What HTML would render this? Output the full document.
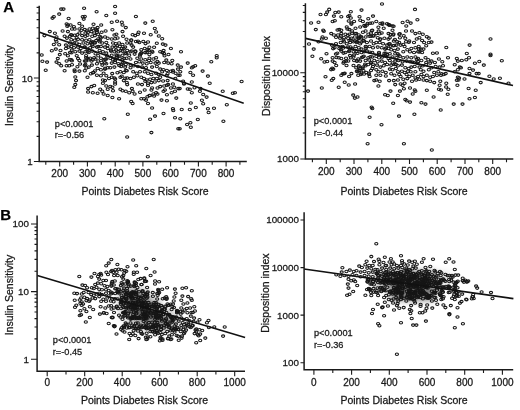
<!DOCTYPE html>
<html><head><meta charset="utf-8"><title>Figure</title><style>
html,body{margin:0;padding:0;background:#fff;width:520px;height:410px;overflow:hidden}
svg{display:block}
text{font-family:'Liberation Sans', Arial, Helvetica, sans-serif;fill:#1a1a1a;stroke:#1a1a1a;stroke-width:0.28px}
.t{font-size:10px}
.ty{font-size:9.8px}
.ti{font-size:10.5px}
.pr{font-size:9.7px}
.L{font-size:15px;font-weight:bold;fill:#000;stroke:#000;stroke-width:0.25px}
</style></head><body>
<svg width="520" height="410" viewBox="0 0 520 410">
<rect width="520" height="410" fill="#fff"/>
<defs><filter id="bl" x="-20%" y="-20%" width="140%" height="140%"><feGaussianBlur stdDeviation="3.5"/></filter></defs>
<g filter="url(#bl)" fill="#000"><rect x="120.0" y="280.0" width="10.0" height="10.0" fill-opacity="0.13"/><rect x="110.0" y="290.0" width="10.0" height="10.0" fill-opacity="0.00"/><rect x="120.0" y="290.0" width="10.0" height="10.0" fill-opacity="0.44"/><rect x="130.0" y="290.0" width="10.0" height="10.0" fill-opacity="0.60"/><rect x="140.0" y="290.0" width="10.0" height="10.0" fill-opacity="0.26"/><rect x="120.0" y="300.0" width="10.0" height="10.0" fill-opacity="0.39"/><rect x="130.0" y="300.0" width="10.0" height="10.0" fill-opacity="0.65"/><rect x="140.0" y="300.0" width="10.0" height="10.0" fill-opacity="0.65"/><rect x="150.0" y="300.0" width="10.0" height="10.0" fill-opacity="0.39"/><rect x="120.0" y="310.0" width="10.0" height="10.0" fill-opacity="0.13"/><rect x="130.0" y="310.0" width="10.0" height="10.0" fill-opacity="0.52"/><rect x="140.0" y="310.0" width="10.0" height="10.0" fill-opacity="0.65"/><rect x="150.0" y="310.0" width="10.0" height="10.0" fill-opacity="0.60"/><rect x="160.0" y="310.0" width="10.0" height="10.0" fill-opacity="0.39"/><rect x="170.0" y="310.0" width="10.0" height="10.0" fill-opacity="0.13"/><rect x="130.0" y="320.0" width="10.0" height="10.0" fill-opacity="0.13"/><rect x="140.0" y="320.0" width="10.0" height="10.0" fill-opacity="0.26"/><rect x="150.0" y="320.0" width="10.0" height="10.0" fill-opacity="0.39"/><rect x="160.0" y="320.0" width="10.0" height="10.0" fill-opacity="0.39"/><rect x="170.0" y="320.0" width="10.0" height="10.0" fill-opacity="0.18"/><rect x="180.0" y="320.0" width="10.0" height="10.0" fill-opacity="0.00"/><rect x="375.0" y="272.0" width="15.0" height="14.0" fill-opacity="0.39"/><rect x="390.0" y="272.0" width="15.0" height="14.0" fill-opacity="0.70"/><rect x="405.0" y="272.0" width="15.0" height="14.0" fill-opacity="0.70"/><rect x="420.0" y="272.0" width="15.0" height="14.0" fill-opacity="0.60"/><rect x="435.0" y="272.0" width="15.0" height="14.0" fill-opacity="0.13"/><rect x="390.0" y="286.0" width="15.0" height="14.0" fill-opacity="0.52"/><rect x="405.0" y="286.0" width="15.0" height="14.0" fill-opacity="0.60"/><rect x="420.0" y="286.0" width="15.0" height="14.0" fill-opacity="0.52"/><rect x="435.0" y="286.0" width="15.0" height="14.0" fill-opacity="0.00"/></g>
<g fill="none" stroke="#161616" stroke-width="1.05"><ellipse cx="61.2" cy="9.1" rx="1.6" ry="1.25"/><ellipse cx="63.5" cy="9.1" rx="1.6" ry="1.25"/><ellipse cx="84.1" cy="8.3" rx="1.6" ry="1.25"/><ellipse cx="96.6" cy="11.8" rx="1.6" ry="1.25"/><ellipse cx="106.3" cy="15.4" rx="1.6" ry="1.25"/><ellipse cx="59.2" cy="14.1" rx="1.6" ry="1.25"/><ellipse cx="52.5" cy="18.1" rx="1.6" ry="1.25"/><ellipse cx="53.8" cy="16.8" rx="1.6" ry="1.25"/><ellipse cx="68.6" cy="18.5" rx="1.6" ry="1.25"/><ellipse cx="82.7" cy="16.8" rx="1.6" ry="1.25"/><ellipse cx="84.8" cy="16.4" rx="1.6" ry="1.25"/><ellipse cx="83.7" cy="19.1" rx="1.6" ry="1.25"/><ellipse cx="66.6" cy="23.9" rx="1.6" ry="1.25"/><ellipse cx="67.9" cy="24.9" rx="1.6" ry="1.25"/><ellipse cx="70.6" cy="24.9" rx="1.6" ry="1.25"/><ellipse cx="67.3" cy="26.2" rx="1.6" ry="1.25"/><ellipse cx="79.4" cy="23.5" rx="1.6" ry="1.25"/><ellipse cx="82.1" cy="26.2" rx="1.6" ry="1.25"/><ellipse cx="93.5" cy="24.2" rx="1.6" ry="1.25"/><ellipse cx="101.2" cy="24.9" rx="1.6" ry="1.25"/><ellipse cx="72.0" cy="28.9" rx="1.6" ry="1.25"/><ellipse cx="74.7" cy="28.9" rx="1.6" ry="1.25"/><ellipse cx="62.6" cy="30.9" rx="1.6" ry="1.25"/><ellipse cx="67.9" cy="31.6" rx="1.6" ry="1.25"/><ellipse cx="49.8" cy="31.6" rx="1.6" ry="1.25"/><ellipse cx="54.9" cy="33.3" rx="1.6" ry="1.25"/><ellipse cx="44.4" cy="35.6" rx="1.6" ry="1.25"/><ellipse cx="79.4" cy="28.9" rx="1.6" ry="1.25"/><ellipse cx="81.4" cy="30.2" rx="1.6" ry="1.25"/><ellipse cx="84.8" cy="29.6" rx="1.6" ry="1.25"/><ellipse cx="86.8" cy="30.9" rx="1.6" ry="1.25"/><ellipse cx="89.5" cy="28.9" rx="1.6" ry="1.25"/><ellipse cx="92.8" cy="28.2" rx="1.6" ry="1.25"/><ellipse cx="95.5" cy="28.9" rx="1.6" ry="1.25"/><ellipse cx="97.6" cy="27.6" rx="1.6" ry="1.25"/><ellipse cx="85.4" cy="32.9" rx="1.6" ry="1.25"/><ellipse cx="88.1" cy="32.3" rx="1.6" ry="1.25"/><ellipse cx="91.5" cy="31.6" rx="1.6" ry="1.25"/><ellipse cx="94.2" cy="32.9" rx="1.6" ry="1.25"/><ellipse cx="96.9" cy="32.3" rx="1.6" ry="1.25"/><ellipse cx="101.6" cy="32.3" rx="1.6" ry="1.25"/><ellipse cx="105.6" cy="30.9" rx="1.6" ry="1.25"/><ellipse cx="79.4" cy="32.9" rx="1.6" ry="1.25"/><ellipse cx="77.4" cy="34.7" rx="1.6" ry="1.25"/><ellipse cx="82.1" cy="35.6" rx="1.6" ry="1.25"/><ellipse cx="85.4" cy="36.3" rx="1.6" ry="1.25"/><ellipse cx="87.5" cy="35.2" rx="1.6" ry="1.25"/><ellipse cx="92.2" cy="36.3" rx="1.6" ry="1.25"/><ellipse cx="94.9" cy="35.6" rx="1.6" ry="1.25"/><ellipse cx="98.2" cy="34.3" rx="1.6" ry="1.25"/><ellipse cx="64.6" cy="36.3" rx="1.6" ry="1.25"/><ellipse cx="70.0" cy="36.3" rx="1.6" ry="1.25"/><ellipse cx="72.0" cy="35.2" rx="1.6" ry="1.25"/><ellipse cx="74.7" cy="35.2" rx="1.6" ry="1.25"/><ellipse cx="76.7" cy="37.7" rx="1.6" ry="1.25"/><ellipse cx="56.5" cy="37.0" rx="1.6" ry="1.25"/><ellipse cx="55.8" cy="39.7" rx="1.6" ry="1.25"/><ellipse cx="56.5" cy="41.7" rx="1.6" ry="1.25"/><ellipse cx="71.3" cy="39.7" rx="1.6" ry="1.25"/><ellipse cx="74.7" cy="40.3" rx="1.6" ry="1.25"/><ellipse cx="78.0" cy="39.3" rx="1.6" ry="1.25"/><ellipse cx="82.1" cy="39.7" rx="1.6" ry="1.25"/><ellipse cx="86.1" cy="40.3" rx="1.6" ry="1.25"/><ellipse cx="89.5" cy="39.7" rx="1.6" ry="1.25"/><ellipse cx="92.8" cy="41.7" rx="1.6" ry="1.25"/><ellipse cx="98.2" cy="39.0" rx="1.6" ry="1.25"/><ellipse cx="100.9" cy="37.7" rx="1.6" ry="1.25"/><ellipse cx="105.0" cy="37.0" rx="1.6" ry="1.25"/><ellipse cx="107.7" cy="38.3" rx="1.6" ry="1.25"/><ellipse cx="53.8" cy="44.4" rx="1.6" ry="1.25"/><ellipse cx="59.2" cy="44.7" rx="1.6" ry="1.25"/><ellipse cx="65.9" cy="45.1" rx="1.6" ry="1.25"/><ellipse cx="70.0" cy="43.0" rx="1.6" ry="1.25"/><ellipse cx="73.3" cy="43.7" rx="1.6" ry="1.25"/><ellipse cx="76.7" cy="43.0" rx="1.6" ry="1.25"/><ellipse cx="79.4" cy="44.4" rx="1.6" ry="1.25"/><ellipse cx="83.4" cy="43.0" rx="1.6" ry="1.25"/><ellipse cx="87.5" cy="43.7" rx="1.6" ry="1.25"/><ellipse cx="90.8" cy="43.0" rx="1.6" ry="1.25"/><ellipse cx="94.9" cy="43.0" rx="1.6" ry="1.25"/><ellipse cx="99.6" cy="41.7" rx="1.6" ry="1.25"/><ellipse cx="102.3" cy="43.0" rx="1.6" ry="1.25"/><ellipse cx="106.3" cy="42.4" rx="1.6" ry="1.25"/><ellipse cx="51.8" cy="50.8" rx="1.6" ry="1.25"/><ellipse cx="55.8" cy="49.1" rx="1.6" ry="1.25"/><ellipse cx="60.5" cy="50.4" rx="1.6" ry="1.25"/><ellipse cx="65.9" cy="48.4" rx="1.6" ry="1.25"/><ellipse cx="68.6" cy="47.1" rx="1.6" ry="1.25"/><ellipse cx="71.3" cy="46.4" rx="1.6" ry="1.25"/><ellipse cx="74.0" cy="47.7" rx="1.6" ry="1.25"/><ellipse cx="78.0" cy="47.1" rx="1.6" ry="1.25"/><ellipse cx="80.7" cy="48.4" rx="1.6" ry="1.25"/><ellipse cx="84.8" cy="47.1" rx="1.6" ry="1.25"/><ellipse cx="87.5" cy="49.1" rx="1.6" ry="1.25"/><ellipse cx="90.2" cy="47.7" rx="1.6" ry="1.25"/><ellipse cx="92.8" cy="46.4" rx="1.6" ry="1.25"/><ellipse cx="96.9" cy="47.1" rx="1.6" ry="1.25"/><ellipse cx="100.9" cy="46.4" rx="1.6" ry="1.25"/><ellipse cx="105.0" cy="47.1" rx="1.6" ry="1.25"/><ellipse cx="107.7" cy="48.4" rx="1.6" ry="1.25"/><ellipse cx="41.7" cy="54.9" rx="1.6" ry="1.25"/><ellipse cx="65.2" cy="53.8" rx="1.6" ry="1.25"/><ellipse cx="70.0" cy="52.5" rx="1.6" ry="1.25"/><ellipse cx="75.3" cy="51.8" rx="1.6" ry="1.25"/><ellipse cx="79.4" cy="51.1" rx="1.6" ry="1.25"/><ellipse cx="82.1" cy="53.1" rx="1.6" ry="1.25"/><ellipse cx="85.4" cy="51.8" rx="1.6" ry="1.25"/><ellipse cx="88.8" cy="52.5" rx="1.6" ry="1.25"/><ellipse cx="92.2" cy="51.1" rx="1.6" ry="1.25"/><ellipse cx="95.5" cy="53.8" rx="1.6" ry="1.25"/><ellipse cx="99.6" cy="50.4" rx="1.6" ry="1.25"/><ellipse cx="102.9" cy="51.8" rx="1.6" ry="1.25"/><ellipse cx="106.3" cy="53.1" rx="1.6" ry="1.25"/><ellipse cx="67.9" cy="55.8" rx="1.6" ry="1.25"/><ellipse cx="76.7" cy="55.8" rx="1.6" ry="1.25"/><ellipse cx="86.1" cy="55.8" rx="1.6" ry="1.25"/><ellipse cx="98.2" cy="55.8" rx="1.6" ry="1.25"/><ellipse cx="107.0" cy="55.8" rx="1.6" ry="1.25"/><ellipse cx="115.1" cy="6.4" rx="1.6" ry="1.25"/><ellipse cx="115.1" cy="13.2" rx="1.6" ry="1.25"/><ellipse cx="135.9" cy="16.4" rx="1.6" ry="1.25"/><ellipse cx="111.7" cy="22.2" rx="1.6" ry="1.25"/><ellipse cx="117.1" cy="21.2" rx="1.6" ry="1.25"/><ellipse cx="121.8" cy="22.2" rx="1.6" ry="1.25"/><ellipse cx="122.5" cy="24.9" rx="1.6" ry="1.25"/><ellipse cx="125.8" cy="27.6" rx="1.6" ry="1.25"/><ellipse cx="145.3" cy="23.1" rx="1.6" ry="1.25"/><ellipse cx="152.7" cy="21.2" rx="1.6" ry="1.25"/><ellipse cx="112.4" cy="29.8" rx="1.6" ry="1.25"/><ellipse cx="154.8" cy="28.5" rx="1.6" ry="1.25"/><ellipse cx="156.1" cy="32.0" rx="1.6" ry="1.25"/><ellipse cx="122.5" cy="31.6" rx="1.6" ry="1.25"/><ellipse cx="114.4" cy="35.0" rx="1.6" ry="1.25"/><ellipse cx="116.4" cy="34.3" rx="1.6" ry="1.25"/><ellipse cx="123.1" cy="36.3" rx="1.6" ry="1.25"/><ellipse cx="132.6" cy="34.7" rx="1.6" ry="1.25"/><ellipse cx="135.2" cy="35.6" rx="1.6" ry="1.25"/><ellipse cx="137.9" cy="34.3" rx="1.6" ry="1.25"/><ellipse cx="138.6" cy="32.3" rx="1.6" ry="1.25"/><ellipse cx="144.0" cy="33.3" rx="1.6" ry="1.25"/><ellipse cx="150.7" cy="34.7" rx="1.6" ry="1.25"/><ellipse cx="158.8" cy="36.0" rx="1.6" ry="1.25"/><ellipse cx="162.2" cy="38.7" rx="1.6" ry="1.25"/><ellipse cx="111.7" cy="39.0" rx="1.6" ry="1.25"/><ellipse cx="115.1" cy="38.7" rx="1.6" ry="1.25"/><ellipse cx="126.5" cy="39.3" rx="1.6" ry="1.25"/><ellipse cx="131.2" cy="40.3" rx="1.6" ry="1.25"/><ellipse cx="135.9" cy="41.4" rx="1.6" ry="1.25"/><ellipse cx="139.3" cy="42.4" rx="1.6" ry="1.25"/><ellipse cx="143.3" cy="41.4" rx="1.6" ry="1.25"/><ellipse cx="148.0" cy="42.0" rx="1.6" ry="1.25"/><ellipse cx="156.8" cy="43.3" rx="1.6" ry="1.25"/><ellipse cx="162.8" cy="44.1" rx="1.6" ry="1.25"/><ellipse cx="165.5" cy="45.1" rx="1.6" ry="1.25"/><ellipse cx="170.9" cy="48.4" rx="1.6" ry="1.25"/><ellipse cx="113.0" cy="43.0" rx="1.6" ry="1.25"/><ellipse cx="115.7" cy="43.7" rx="1.6" ry="1.25"/><ellipse cx="119.1" cy="43.0" rx="1.6" ry="1.25"/><ellipse cx="122.5" cy="44.4" rx="1.6" ry="1.25"/><ellipse cx="127.2" cy="43.0" rx="1.6" ry="1.25"/><ellipse cx="130.5" cy="43.0" rx="1.6" ry="1.25"/><ellipse cx="133.2" cy="47.1" rx="1.6" ry="1.25"/><ellipse cx="112.4" cy="47.1" rx="1.6" ry="1.25"/><ellipse cx="115.7" cy="47.1" rx="1.6" ry="1.25"/><ellipse cx="119.8" cy="46.4" rx="1.6" ry="1.25"/><ellipse cx="121.8" cy="48.4" rx="1.6" ry="1.25"/><ellipse cx="125.2" cy="47.1" rx="1.6" ry="1.25"/><ellipse cx="127.2" cy="50.4" rx="1.6" ry="1.25"/><ellipse cx="141.3" cy="49.8" rx="1.6" ry="1.25"/><ellipse cx="144.7" cy="48.4" rx="1.6" ry="1.25"/><ellipse cx="147.4" cy="49.8" rx="1.6" ry="1.25"/><ellipse cx="149.4" cy="47.3" rx="1.6" ry="1.25"/><ellipse cx="154.1" cy="47.3" rx="1.6" ry="1.25"/><ellipse cx="160.2" cy="51.8" rx="1.6" ry="1.25"/><ellipse cx="111.0" cy="51.1" rx="1.6" ry="1.25"/><ellipse cx="114.4" cy="51.8" rx="1.6" ry="1.25"/><ellipse cx="118.4" cy="51.8" rx="1.6" ry="1.25"/><ellipse cx="122.5" cy="51.1" rx="1.6" ry="1.25"/><ellipse cx="130.5" cy="51.8" rx="1.6" ry="1.25"/><ellipse cx="135.2" cy="51.1" rx="1.6" ry="1.25"/><ellipse cx="141.3" cy="53.1" rx="1.6" ry="1.25"/><ellipse cx="146.7" cy="52.5" rx="1.6" ry="1.25"/><ellipse cx="149.4" cy="54.5" rx="1.6" ry="1.25"/><ellipse cx="111.7" cy="55.2" rx="1.6" ry="1.25"/><ellipse cx="117.1" cy="55.8" rx="1.6" ry="1.25"/><ellipse cx="122.5" cy="55.2" rx="1.6" ry="1.25"/><ellipse cx="129.2" cy="55.2" rx="1.6" ry="1.25"/><ellipse cx="134.6" cy="54.1" rx="1.6" ry="1.25"/><ellipse cx="140.0" cy="55.8" rx="1.6" ry="1.25"/><ellipse cx="117.1" cy="45.7" rx="1.6" ry="1.25"/><ellipse cx="123.8" cy="48.4" rx="1.6" ry="1.25"/><ellipse cx="120.4" cy="50.4" rx="1.6" ry="1.25"/><ellipse cx="125.2" cy="53.1" rx="1.6" ry="1.25"/><ellipse cx="181.0" cy="51.8" rx="1.6" ry="1.25"/><ellipse cx="216.7" cy="55.8" rx="1.6" ry="1.25"/><ellipse cx="42.4" cy="61.3" rx="1.6" ry="1.25"/><ellipse cx="47.1" cy="62.1" rx="1.6" ry="1.25"/><ellipse cx="45.7" cy="70.2" rx="1.6" ry="1.25"/><ellipse cx="57.8" cy="58.6" rx="1.6" ry="1.25"/><ellipse cx="56.5" cy="62.1" rx="1.6" ry="1.25"/><ellipse cx="59.2" cy="63.7" rx="1.6" ry="1.25"/><ellipse cx="61.2" cy="65.7" rx="1.6" ry="1.25"/><ellipse cx="66.6" cy="61.0" rx="1.6" ry="1.25"/><ellipse cx="66.6" cy="65.7" rx="1.6" ry="1.25"/><ellipse cx="71.3" cy="59.7" rx="1.6" ry="1.25"/><ellipse cx="72.0" cy="64.8" rx="1.6" ry="1.25"/><ellipse cx="64.6" cy="70.7" rx="1.6" ry="1.25"/><ellipse cx="77.4" cy="66.7" rx="1.6" ry="1.25"/><ellipse cx="74.7" cy="71.5" rx="1.6" ry="1.25"/><ellipse cx="79.4" cy="71.1" rx="1.6" ry="1.25"/><ellipse cx="84.8" cy="70.7" rx="1.6" ry="1.25"/><ellipse cx="78.0" cy="58.6" rx="1.6" ry="1.25"/><ellipse cx="79.4" cy="60.4" rx="1.6" ry="1.25"/><ellipse cx="84.8" cy="61.0" rx="1.6" ry="1.25"/><ellipse cx="85.4" cy="64.4" rx="1.6" ry="1.25"/><ellipse cx="88.8" cy="67.1" rx="1.6" ry="1.25"/><ellipse cx="87.5" cy="58.3" rx="1.6" ry="1.25"/><ellipse cx="90.2" cy="58.3" rx="1.6" ry="1.25"/><ellipse cx="92.8" cy="59.7" rx="1.6" ry="1.25"/><ellipse cx="95.5" cy="59.0" rx="1.6" ry="1.25"/><ellipse cx="98.2" cy="61.0" rx="1.6" ry="1.25"/><ellipse cx="100.9" cy="58.3" rx="1.6" ry="1.25"/><ellipse cx="103.6" cy="59.7" rx="1.6" ry="1.25"/><ellipse cx="106.3" cy="59.0" rx="1.6" ry="1.25"/><ellipse cx="96.9" cy="63.7" rx="1.6" ry="1.25"/><ellipse cx="102.3" cy="65.1" rx="1.6" ry="1.25"/><ellipse cx="106.3" cy="63.7" rx="1.6" ry="1.25"/><ellipse cx="97.6" cy="68.4" rx="1.6" ry="1.25"/><ellipse cx="100.9" cy="69.8" rx="1.6" ry="1.25"/><ellipse cx="105.0" cy="69.1" rx="1.6" ry="1.25"/><ellipse cx="107.7" cy="67.8" rx="1.6" ry="1.25"/><ellipse cx="90.8" cy="73.8" rx="1.6" ry="1.25"/><ellipse cx="93.5" cy="72.5" rx="1.6" ry="1.25"/><ellipse cx="96.9" cy="75.2" rx="1.6" ry="1.25"/><ellipse cx="100.9" cy="75.8" rx="1.6" ry="1.25"/><ellipse cx="103.6" cy="73.2" rx="1.6" ry="1.25"/><ellipse cx="106.3" cy="75.8" rx="1.6" ry="1.25"/><ellipse cx="75.3" cy="76.9" rx="1.6" ry="1.25"/><ellipse cx="76.0" cy="80.6" rx="1.6" ry="1.25"/><ellipse cx="75.3" cy="84.6" rx="1.6" ry="1.25"/><ellipse cx="74.3" cy="87.3" rx="1.6" ry="1.25"/><ellipse cx="87.5" cy="77.2" rx="1.6" ry="1.25"/><ellipse cx="102.9" cy="79.9" rx="1.6" ry="1.25"/><ellipse cx="105.0" cy="80.6" rx="1.6" ry="1.25"/><ellipse cx="102.9" cy="83.2" rx="1.6" ry="1.25"/><ellipse cx="106.3" cy="85.9" rx="1.6" ry="1.25"/><ellipse cx="91.5" cy="86.6" rx="1.6" ry="1.25"/><ellipse cx="94.2" cy="85.5" rx="1.6" ry="1.25"/><ellipse cx="88.1" cy="88.6" rx="1.6" ry="1.25"/><ellipse cx="88.1" cy="92.0" rx="1.6" ry="1.25"/><ellipse cx="92.8" cy="92.7" rx="1.6" ry="1.25"/><ellipse cx="97.6" cy="93.3" rx="1.6" ry="1.25"/><ellipse cx="100.2" cy="89.3" rx="1.6" ry="1.25"/><ellipse cx="102.3" cy="91.3" rx="1.6" ry="1.25"/><ellipse cx="103.6" cy="94.0" rx="1.6" ry="1.25"/><ellipse cx="107.7" cy="95.4" rx="1.6" ry="1.25"/><ellipse cx="107.7" cy="89.3" rx="1.6" ry="1.25"/><ellipse cx="86.1" cy="57.7" rx="1.6" ry="1.25"/><ellipse cx="88.8" cy="59.7" rx="1.6" ry="1.25"/><ellipse cx="91.5" cy="61.0" rx="1.6" ry="1.25"/><ellipse cx="94.2" cy="57.7" rx="1.6" ry="1.25"/><ellipse cx="110.3" cy="58.3" rx="1.6" ry="1.25"/><ellipse cx="113.0" cy="59.7" rx="1.6" ry="1.25"/><ellipse cx="115.7" cy="59.0" rx="1.6" ry="1.25"/><ellipse cx="119.8" cy="58.3" rx="1.6" ry="1.25"/><ellipse cx="122.5" cy="59.7" rx="1.6" ry="1.25"/><ellipse cx="126.5" cy="58.3" rx="1.6" ry="1.25"/><ellipse cx="130.5" cy="59.0" rx="1.6" ry="1.25"/><ellipse cx="137.3" cy="58.3" rx="1.6" ry="1.25"/><ellipse cx="141.3" cy="59.0" rx="1.6" ry="1.25"/><ellipse cx="145.3" cy="59.7" rx="1.6" ry="1.25"/><ellipse cx="149.4" cy="58.3" rx="1.6" ry="1.25"/><ellipse cx="153.4" cy="59.0" rx="1.6" ry="1.25"/><ellipse cx="156.1" cy="57.7" rx="1.6" ry="1.25"/><ellipse cx="111.7" cy="63.1" rx="1.6" ry="1.25"/><ellipse cx="115.1" cy="62.4" rx="1.6" ry="1.25"/><ellipse cx="118.4" cy="63.7" rx="1.6" ry="1.25"/><ellipse cx="122.5" cy="63.1" rx="1.6" ry="1.25"/><ellipse cx="125.8" cy="64.4" rx="1.6" ry="1.25"/><ellipse cx="130.5" cy="65.1" rx="1.6" ry="1.25"/><ellipse cx="135.9" cy="62.4" rx="1.6" ry="1.25"/><ellipse cx="139.3" cy="61.7" rx="1.6" ry="1.25"/><ellipse cx="142.7" cy="63.1" rx="1.6" ry="1.25"/><ellipse cx="146.7" cy="63.7" rx="1.6" ry="1.25"/><ellipse cx="150.7" cy="62.4" rx="1.6" ry="1.25"/><ellipse cx="155.4" cy="63.1" rx="1.6" ry="1.25"/><ellipse cx="158.8" cy="63.1" rx="1.6" ry="1.25"/><ellipse cx="164.2" cy="62.4" rx="1.6" ry="1.25"/><ellipse cx="168.2" cy="63.1" rx="1.6" ry="1.25"/><ellipse cx="172.3" cy="60.4" rx="1.6" ry="1.25"/><ellipse cx="171.6" cy="63.7" rx="1.6" ry="1.25"/><ellipse cx="177.7" cy="65.1" rx="1.6" ry="1.25"/><ellipse cx="110.3" cy="67.8" rx="1.6" ry="1.25"/><ellipse cx="114.4" cy="67.1" rx="1.6" ry="1.25"/><ellipse cx="121.1" cy="66.4" rx="1.6" ry="1.25"/><ellipse cx="125.2" cy="67.1" rx="1.6" ry="1.25"/><ellipse cx="130.5" cy="67.8" rx="1.6" ry="1.25"/><ellipse cx="133.9" cy="65.7" rx="1.6" ry="1.25"/><ellipse cx="137.9" cy="66.4" rx="1.6" ry="1.25"/><ellipse cx="142.0" cy="67.1" rx="1.6" ry="1.25"/><ellipse cx="146.0" cy="67.8" rx="1.6" ry="1.25"/><ellipse cx="152.1" cy="67.1" rx="1.6" ry="1.25"/><ellipse cx="156.8" cy="66.4" rx="1.6" ry="1.25"/><ellipse cx="160.2" cy="69.1" rx="1.6" ry="1.25"/><ellipse cx="163.5" cy="69.8" rx="1.6" ry="1.25"/><ellipse cx="166.9" cy="70.5" rx="1.6" ry="1.25"/><ellipse cx="172.9" cy="70.5" rx="1.6" ry="1.25"/><ellipse cx="175.6" cy="73.2" rx="1.6" ry="1.25"/><ellipse cx="178.3" cy="75.2" rx="1.6" ry="1.25"/><ellipse cx="120.4" cy="71.8" rx="1.6" ry="1.25"/><ellipse cx="123.8" cy="72.5" rx="1.6" ry="1.25"/><ellipse cx="125.8" cy="70.5" rx="1.6" ry="1.25"/><ellipse cx="133.2" cy="71.8" rx="1.6" ry="1.25"/><ellipse cx="136.6" cy="73.2" rx="1.6" ry="1.25"/><ellipse cx="140.0" cy="71.8" rx="1.6" ry="1.25"/><ellipse cx="144.7" cy="71.8" rx="1.6" ry="1.25"/><ellipse cx="148.0" cy="73.2" rx="1.6" ry="1.25"/><ellipse cx="151.4" cy="74.5" rx="1.6" ry="1.25"/><ellipse cx="156.1" cy="73.2" rx="1.6" ry="1.25"/><ellipse cx="158.8" cy="74.5" rx="1.6" ry="1.25"/><ellipse cx="162.2" cy="71.8" rx="1.6" ry="1.25"/><ellipse cx="167.6" cy="73.8" rx="1.6" ry="1.25"/><ellipse cx="111.7" cy="77.2" rx="1.6" ry="1.25"/><ellipse cx="114.4" cy="77.9" rx="1.6" ry="1.25"/><ellipse cx="120.4" cy="77.2" rx="1.6" ry="1.25"/><ellipse cx="123.8" cy="80.6" rx="1.6" ry="1.25"/><ellipse cx="127.2" cy="77.9" rx="1.6" ry="1.25"/><ellipse cx="130.5" cy="78.5" rx="1.6" ry="1.25"/><ellipse cx="133.9" cy="77.2" rx="1.6" ry="1.25"/><ellipse cx="137.3" cy="75.8" rx="1.6" ry="1.25"/><ellipse cx="141.3" cy="77.2" rx="1.6" ry="1.25"/><ellipse cx="144.0" cy="78.5" rx="1.6" ry="1.25"/><ellipse cx="146.7" cy="79.9" rx="1.6" ry="1.25"/><ellipse cx="150.1" cy="79.2" rx="1.6" ry="1.25"/><ellipse cx="153.4" cy="78.5" rx="1.6" ry="1.25"/><ellipse cx="156.8" cy="78.5" rx="1.6" ry="1.25"/><ellipse cx="160.2" cy="77.2" rx="1.6" ry="1.25"/><ellipse cx="167.6" cy="80.6" rx="1.6" ry="1.25"/><ellipse cx="115.1" cy="81.9" rx="1.6" ry="1.25"/><ellipse cx="127.2" cy="84.6" rx="1.6" ry="1.25"/><ellipse cx="137.9" cy="83.9" rx="1.6" ry="1.25"/><ellipse cx="142.0" cy="84.6" rx="1.6" ry="1.25"/><ellipse cx="145.3" cy="81.2" rx="1.6" ry="1.25"/><ellipse cx="148.0" cy="83.2" rx="1.6" ry="1.25"/><ellipse cx="151.4" cy="82.6" rx="1.6" ry="1.25"/><ellipse cx="154.8" cy="81.9" rx="1.6" ry="1.25"/><ellipse cx="158.8" cy="80.6" rx="1.6" ry="1.25"/><ellipse cx="112.4" cy="87.3" rx="1.6" ry="1.25"/><ellipse cx="113.0" cy="90.7" rx="1.6" ry="1.25"/><ellipse cx="120.4" cy="89.3" rx="1.6" ry="1.25"/><ellipse cx="122.5" cy="90.7" rx="1.6" ry="1.25"/><ellipse cx="125.8" cy="91.3" rx="1.6" ry="1.25"/><ellipse cx="129.2" cy="92.7" rx="1.6" ry="1.25"/><ellipse cx="131.9" cy="88.6" rx="1.6" ry="1.25"/><ellipse cx="132.6" cy="91.3" rx="1.6" ry="1.25"/><ellipse cx="134.6" cy="94.0" rx="1.6" ry="1.25"/><ellipse cx="140.0" cy="92.3" rx="1.6" ry="1.25"/><ellipse cx="144.7" cy="90.0" rx="1.6" ry="1.25"/><ellipse cx="148.0" cy="85.3" rx="1.6" ry="1.25"/><ellipse cx="152.1" cy="88.0" rx="1.6" ry="1.25"/><ellipse cx="151.4" cy="90.0" rx="1.6" ry="1.25"/><ellipse cx="157.5" cy="88.0" rx="1.6" ry="1.25"/><ellipse cx="160.2" cy="86.6" rx="1.6" ry="1.25"/><ellipse cx="164.2" cy="85.9" rx="1.6" ry="1.25"/><ellipse cx="166.9" cy="85.3" rx="1.6" ry="1.25"/><ellipse cx="168.2" cy="84.6" rx="1.6" ry="1.25"/><ellipse cx="164.9" cy="90.0" rx="1.6" ry="1.25"/><ellipse cx="170.9" cy="88.0" rx="1.6" ry="1.25"/><ellipse cx="172.9" cy="83.9" rx="1.6" ry="1.25"/><ellipse cx="174.3" cy="87.3" rx="1.6" ry="1.25"/><ellipse cx="175.0" cy="91.3" rx="1.6" ry="1.25"/><ellipse cx="178.3" cy="88.6" rx="1.6" ry="1.25"/><ellipse cx="171.6" cy="92.7" rx="1.6" ry="1.25"/><ellipse cx="166.9" cy="94.7" rx="1.6" ry="1.25"/><ellipse cx="163.5" cy="91.3" rx="1.6" ry="1.25"/><ellipse cx="156.1" cy="92.7" rx="1.6" ry="1.25"/><ellipse cx="153.4" cy="94.0" rx="1.6" ry="1.25"/><ellipse cx="150.1" cy="95.4" rx="1.6" ry="1.25"/><ellipse cx="147.4" cy="96.7" rx="1.6" ry="1.25"/><ellipse cx="112.4" cy="97.4" rx="1.6" ry="1.25"/><ellipse cx="119.1" cy="98.7" rx="1.6" ry="1.25"/><ellipse cx="131.2" cy="101.4" rx="1.6" ry="1.25"/><ellipse cx="132.6" cy="103.4" rx="1.6" ry="1.25"/><ellipse cx="141.3" cy="98.7" rx="1.6" ry="1.25"/><ellipse cx="144.0" cy="98.7" rx="1.6" ry="1.25"/><ellipse cx="146.0" cy="100.1" rx="1.6" ry="1.25"/><ellipse cx="148.0" cy="103.4" rx="1.6" ry="1.25"/><ellipse cx="149.4" cy="95.4" rx="1.6" ry="1.25"/><ellipse cx="154.1" cy="96.0" rx="1.6" ry="1.25"/><ellipse cx="157.5" cy="94.0" rx="1.6" ry="1.25"/><ellipse cx="161.5" cy="100.1" rx="1.6" ry="1.25"/><ellipse cx="166.9" cy="100.7" rx="1.6" ry="1.25"/><ellipse cx="176.3" cy="98.1" rx="1.6" ry="1.25"/><ellipse cx="152.1" cy="107.9" rx="1.6" ry="1.25"/><ellipse cx="172.9" cy="108.8" rx="1.6" ry="1.25"/><ellipse cx="216.7" cy="57.7" rx="1.6" ry="1.25"/><ellipse cx="211.3" cy="61.7" rx="1.6" ry="1.25"/><ellipse cx="187.7" cy="63.1" rx="1.6" ry="1.25"/><ellipse cx="181.0" cy="67.1" rx="1.6" ry="1.25"/><ellipse cx="191.8" cy="67.8" rx="1.6" ry="1.25"/><ellipse cx="193.1" cy="66.7" rx="1.6" ry="1.25"/><ellipse cx="195.2" cy="65.7" rx="1.6" ry="1.25"/><ellipse cx="202.6" cy="71.1" rx="1.6" ry="1.25"/><ellipse cx="190.4" cy="72.5" rx="1.6" ry="1.25"/><ellipse cx="193.1" cy="75.2" rx="1.6" ry="1.25"/><ellipse cx="179.7" cy="75.2" rx="1.6" ry="1.25"/><ellipse cx="207.9" cy="76.1" rx="1.6" ry="1.25"/><ellipse cx="191.8" cy="81.9" rx="1.6" ry="1.25"/><ellipse cx="209.7" cy="83.2" rx="1.6" ry="1.25"/><ellipse cx="241.6" cy="81.5" rx="1.6" ry="1.25"/><ellipse cx="179.7" cy="88.6" rx="1.6" ry="1.25"/><ellipse cx="187.7" cy="89.0" rx="1.6" ry="1.25"/><ellipse cx="189.8" cy="89.3" rx="1.6" ry="1.25"/><ellipse cx="191.8" cy="92.7" rx="1.6" ry="1.25"/><ellipse cx="194.5" cy="87.7" rx="1.6" ry="1.25"/><ellipse cx="199.9" cy="91.3" rx="1.6" ry="1.25"/><ellipse cx="200.5" cy="88.6" rx="1.6" ry="1.25"/><ellipse cx="203.2" cy="94.4" rx="1.6" ry="1.25"/><ellipse cx="206.6" cy="97.1" rx="1.6" ry="1.25"/><ellipse cx="222.7" cy="91.3" rx="1.6" ry="1.25"/><ellipse cx="232.8" cy="93.3" rx="1.6" ry="1.25"/><ellipse cx="234.9" cy="92.7" rx="1.6" ry="1.25"/><ellipse cx="201.9" cy="100.3" rx="1.6" ry="1.25"/><ellipse cx="203.2" cy="103.8" rx="1.6" ry="1.25"/><ellipse cx="190.8" cy="103.0" rx="1.6" ry="1.25"/><ellipse cx="195.8" cy="107.5" rx="1.6" ry="1.25"/><ellipse cx="226.8" cy="104.8" rx="1.6" ry="1.25"/><ellipse cx="207.9" cy="108.8" rx="1.6" ry="1.25"/><ellipse cx="214.0" cy="108.2" rx="1.6" ry="1.25"/><ellipse cx="181.7" cy="109.5" rx="1.6" ry="1.25"/><ellipse cx="189.8" cy="109.5" rx="1.6" ry="1.25"/><ellipse cx="104.3" cy="118.7" rx="1.6" ry="1.25"/><ellipse cx="127.8" cy="114.3" rx="1.6" ry="1.25"/><ellipse cx="150.1" cy="119.2" rx="1.6" ry="1.25"/><ellipse cx="155.0" cy="116.1" rx="1.6" ry="1.25"/><ellipse cx="163.5" cy="113.4" rx="1.6" ry="1.25"/><ellipse cx="173.3" cy="110.4" rx="1.6" ry="1.25"/><ellipse cx="175.0" cy="117.8" rx="1.6" ry="1.25"/><ellipse cx="178.3" cy="128.8" rx="1.6" ry="1.25"/><ellipse cx="151.4" cy="132.6" rx="1.6" ry="1.25"/><ellipse cx="127.2" cy="136.9" rx="1.6" ry="1.25"/><ellipse cx="147.8" cy="156.7" rx="1.6" ry="1.25"/><ellipse cx="208.6" cy="112.4" rx="1.6" ry="1.25"/><ellipse cx="180.3" cy="118.7" rx="1.6" ry="1.25"/><ellipse cx="197.8" cy="119.4" rx="1.6" ry="1.25"/><ellipse cx="187.1" cy="124.5" rx="1.6" ry="1.25"/><ellipse cx="190.4" cy="122.8" rx="1.6" ry="1.25"/><ellipse cx="190.8" cy="127.2" rx="1.6" ry="1.25"/><ellipse cx="179.7" cy="128.8" rx="1.6" ry="1.25"/><ellipse cx="223.4" cy="121.2" rx="1.6" ry="1.25"/><ellipse cx="73.9" cy="26.7" rx="1.6" ry="1.25"/><ellipse cx="71.0" cy="34.8" rx="1.6" ry="1.25"/><ellipse cx="97.0" cy="30.5" rx="1.6" ry="1.25"/><ellipse cx="96.2" cy="29.8" rx="1.6" ry="1.25"/><ellipse cx="66.9" cy="38.1" rx="1.6" ry="1.25"/><ellipse cx="91.3" cy="42.6" rx="1.6" ry="1.25"/><ellipse cx="92.1" cy="44.9" rx="1.6" ry="1.25"/><ellipse cx="84.3" cy="47.3" rx="1.6" ry="1.25"/><ellipse cx="100.3" cy="36.8" rx="1.6" ry="1.25"/><ellipse cx="94.5" cy="42.4" rx="1.6" ry="1.25"/><ellipse cx="99.9" cy="40.1" rx="1.6" ry="1.25"/><ellipse cx="96.2" cy="40.6" rx="1.6" ry="1.25"/><ellipse cx="98.3" cy="46.6" rx="1.6" ry="1.25"/><ellipse cx="107.5" cy="45.5" rx="1.6" ry="1.25"/><ellipse cx="117.6" cy="37.9" rx="1.6" ry="1.25"/><ellipse cx="131.6" cy="45.1" rx="1.6" ry="1.25"/><ellipse cx="131.3" cy="40.0" rx="1.6" ry="1.25"/><ellipse cx="138.0" cy="41.2" rx="1.6" ry="1.25"/><ellipse cx="145.5" cy="43.6" rx="1.6" ry="1.25"/><ellipse cx="59.8" cy="54.6" rx="1.6" ry="1.25"/><ellipse cx="71.8" cy="50.1" rx="1.6" ry="1.25"/><ellipse cx="69.7" cy="59.5" rx="1.6" ry="1.25"/><ellipse cx="71.9" cy="60.7" rx="1.6" ry="1.25"/><ellipse cx="71.5" cy="52.7" rx="1.6" ry="1.25"/><ellipse cx="87.6" cy="51.8" rx="1.6" ry="1.25"/><ellipse cx="86.0" cy="61.0" rx="1.6" ry="1.25"/><ellipse cx="105.1" cy="59.2" rx="1.6" ry="1.25"/><ellipse cx="115.1" cy="60.5" rx="1.6" ry="1.25"/><ellipse cx="118.8" cy="56.1" rx="1.6" ry="1.25"/><ellipse cx="116.1" cy="50.1" rx="1.6" ry="1.25"/><ellipse cx="116.3" cy="54.9" rx="1.6" ry="1.25"/><ellipse cx="116.5" cy="57.2" rx="1.6" ry="1.25"/><ellipse cx="110.9" cy="50.1" rx="1.6" ry="1.25"/><ellipse cx="131.6" cy="51.0" rx="1.6" ry="1.25"/><ellipse cx="126.2" cy="53.6" rx="1.6" ry="1.25"/><ellipse cx="124.1" cy="58.4" rx="1.6" ry="1.25"/><ellipse cx="145.2" cy="52.6" rx="1.6" ry="1.25"/><ellipse cx="141.4" cy="53.1" rx="1.6" ry="1.25"/><ellipse cx="140.2" cy="54.2" rx="1.6" ry="1.25"/><ellipse cx="135.5" cy="51.4" rx="1.6" ry="1.25"/><ellipse cx="149.0" cy="60.4" rx="1.6" ry="1.25"/><ellipse cx="152.5" cy="52.1" rx="1.6" ry="1.25"/><ellipse cx="157.4" cy="61.5" rx="1.6" ry="1.25"/><ellipse cx="151.9" cy="51.2" rx="1.6" ry="1.25"/><ellipse cx="148.8" cy="50.6" rx="1.6" ry="1.25"/><ellipse cx="163.6" cy="50.6" rx="1.6" ry="1.25"/><ellipse cx="162.4" cy="52.6" rx="1.6" ry="1.25"/><ellipse cx="166.3" cy="60.1" rx="1.6" ry="1.25"/><ellipse cx="168.5" cy="54.5" rx="1.6" ry="1.25"/><ellipse cx="164.5" cy="55.8" rx="1.6" ry="1.25"/><ellipse cx="164.0" cy="53.6" rx="1.6" ry="1.25"/><ellipse cx="69.2" cy="65.8" rx="1.6" ry="1.25"/><ellipse cx="80.1" cy="64.0" rx="1.6" ry="1.25"/><ellipse cx="74.5" cy="70.1" rx="1.6" ry="1.25"/><ellipse cx="91.9" cy="65.1" rx="1.6" ry="1.25"/><ellipse cx="84.8" cy="65.5" rx="1.6" ry="1.25"/><ellipse cx="86.3" cy="67.9" rx="1.6" ry="1.25"/><ellipse cx="92.9" cy="72.7" rx="1.6" ry="1.25"/><ellipse cx="105.0" cy="62.8" rx="1.6" ry="1.25"/><ellipse cx="94.9" cy="71.0" rx="1.6" ry="1.25"/><ellipse cx="105.2" cy="68.2" rx="1.6" ry="1.25"/><ellipse cx="101.5" cy="62.5" rx="1.6" ry="1.25"/><ellipse cx="112.2" cy="73.6" rx="1.6" ry="1.25"/><ellipse cx="117.4" cy="72.8" rx="1.6" ry="1.25"/><ellipse cx="119.2" cy="65.5" rx="1.6" ry="1.25"/><ellipse cx="121.8" cy="64.4" rx="1.6" ry="1.25"/><ellipse cx="126.8" cy="70.7" rx="1.6" ry="1.25"/><ellipse cx="170.8" cy="71.2" rx="1.6" ry="1.25"/><ellipse cx="180.3" cy="71.7" rx="1.6" ry="1.25"/><ellipse cx="178.0" cy="69.1" rx="1.6" ry="1.25"/><ellipse cx="173.0" cy="71.9" rx="1.6" ry="1.25"/><ellipse cx="110.3" cy="86.5" rx="1.6" ry="1.25"/><ellipse cx="115.2" cy="79.1" rx="1.6" ry="1.25"/><ellipse cx="109.0" cy="78.5" rx="1.6" ry="1.25"/><ellipse cx="115.1" cy="83.9" rx="1.6" ry="1.25"/><ellipse cx="121.8" cy="76.3" rx="1.6" ry="1.25"/><ellipse cx="126.8" cy="82.5" rx="1.6" ry="1.25"/><ellipse cx="125.2" cy="78.2" rx="1.6" ry="1.25"/><ellipse cx="166.7" cy="75.6" rx="1.6" ry="1.25"/><ellipse cx="163.1" cy="81.0" rx="1.6" ry="1.25"/><ellipse cx="184.0" cy="83.2" rx="1.6" ry="1.25"/><ellipse cx="183.1" cy="81.2" rx="1.6" ry="1.25"/><ellipse cx="175.3" cy="78.5" rx="1.6" ry="1.25"/><ellipse cx="184.0" cy="84.0" rx="1.6" ry="1.25"/></g><g fill="none" stroke="#161616" stroke-width="1.05"><ellipse cx="329.2" cy="9.4" rx="1.6" ry="1.25"/><ellipse cx="327.2" cy="12.1" rx="1.6" ry="1.25"/><ellipse cx="325.9" cy="14.4" rx="1.6" ry="1.25"/><ellipse cx="320.5" cy="14.4" rx="1.6" ry="1.25"/><ellipse cx="335.3" cy="12.5" rx="1.6" ry="1.25"/><ellipse cx="338.7" cy="12.1" rx="1.6" ry="1.25"/><ellipse cx="333.9" cy="16.1" rx="1.6" ry="1.25"/><ellipse cx="341.3" cy="16.8" rx="1.6" ry="1.25"/><ellipse cx="350.8" cy="11.7" rx="1.6" ry="1.25"/><ellipse cx="361.5" cy="10.1" rx="1.6" ry="1.25"/><ellipse cx="348.1" cy="16.5" rx="1.6" ry="1.25"/><ellipse cx="349.4" cy="15.5" rx="1.6" ry="1.25"/><ellipse cx="350.8" cy="17.9" rx="1.6" ry="1.25"/><ellipse cx="359.5" cy="16.8" rx="1.6" ry="1.25"/><ellipse cx="360.2" cy="20.2" rx="1.6" ry="1.25"/><ellipse cx="362.9" cy="21.5" rx="1.6" ry="1.25"/><ellipse cx="368.3" cy="18.8" rx="1.6" ry="1.25"/><ellipse cx="373.0" cy="16.1" rx="1.6" ry="1.25"/><ellipse cx="311.1" cy="22.9" rx="1.6" ry="1.25"/><ellipse cx="318.5" cy="22.2" rx="1.6" ry="1.25"/><ellipse cx="332.6" cy="21.5" rx="1.6" ry="1.25"/><ellipse cx="351.4" cy="22.9" rx="1.6" ry="1.25"/><ellipse cx="354.1" cy="21.5" rx="1.6" ry="1.25"/><ellipse cx="372.3" cy="22.9" rx="1.6" ry="1.25"/><ellipse cx="315.8" cy="29.6" rx="1.6" ry="1.25"/><ellipse cx="323.2" cy="30.3" rx="1.6" ry="1.25"/><ellipse cx="323.8" cy="31.3" rx="1.6" ry="1.25"/><ellipse cx="339.3" cy="29.6" rx="1.6" ry="1.25"/><ellipse cx="341.3" cy="30.3" rx="1.6" ry="1.25"/><ellipse cx="346.7" cy="26.9" rx="1.6" ry="1.25"/><ellipse cx="347.4" cy="28.9" rx="1.6" ry="1.25"/><ellipse cx="349.4" cy="29.6" rx="1.6" ry="1.25"/><ellipse cx="352.1" cy="30.9" rx="1.6" ry="1.25"/><ellipse cx="355.5" cy="28.2" rx="1.6" ry="1.25"/><ellipse cx="360.2" cy="26.9" rx="1.6" ry="1.25"/><ellipse cx="364.2" cy="25.6" rx="1.6" ry="1.25"/><ellipse cx="366.9" cy="24.9" rx="1.6" ry="1.25"/><ellipse cx="372.3" cy="30.3" rx="1.6" ry="1.25"/><ellipse cx="331.2" cy="33.6" rx="1.6" ry="1.25"/><ellipse cx="333.9" cy="35.0" rx="1.6" ry="1.25"/><ellipse cx="336.0" cy="37.3" rx="1.6" ry="1.25"/><ellipse cx="338.0" cy="35.0" rx="1.6" ry="1.25"/><ellipse cx="341.3" cy="33.6" rx="1.6" ry="1.25"/><ellipse cx="345.4" cy="34.3" rx="1.6" ry="1.25"/><ellipse cx="349.4" cy="34.3" rx="1.6" ry="1.25"/><ellipse cx="352.1" cy="33.2" rx="1.6" ry="1.25"/><ellipse cx="356.2" cy="33.6" rx="1.6" ry="1.25"/><ellipse cx="358.8" cy="35.0" rx="1.6" ry="1.25"/><ellipse cx="362.9" cy="32.3" rx="1.6" ry="1.25"/><ellipse cx="365.6" cy="30.9" rx="1.6" ry="1.25"/><ellipse cx="368.3" cy="34.3" rx="1.6" ry="1.25"/><ellipse cx="371.0" cy="33.0" rx="1.6" ry="1.25"/><ellipse cx="322.5" cy="37.0" rx="1.6" ry="1.25"/><ellipse cx="325.9" cy="38.3" rx="1.6" ry="1.25"/><ellipse cx="321.8" cy="39.0" rx="1.6" ry="1.25"/><ellipse cx="340.0" cy="38.1" rx="1.6" ry="1.25"/><ellipse cx="344.0" cy="37.7" rx="1.6" ry="1.25"/><ellipse cx="348.1" cy="38.3" rx="1.6" ry="1.25"/><ellipse cx="351.4" cy="38.3" rx="1.6" ry="1.25"/><ellipse cx="354.8" cy="37.0" rx="1.6" ry="1.25"/><ellipse cx="358.2" cy="38.3" rx="1.6" ry="1.25"/><ellipse cx="361.5" cy="37.7" rx="1.6" ry="1.25"/><ellipse cx="365.6" cy="37.0" rx="1.6" ry="1.25"/><ellipse cx="369.6" cy="36.3" rx="1.6" ry="1.25"/><ellipse cx="373.7" cy="35.7" rx="1.6" ry="1.25"/><ellipse cx="318.5" cy="41.7" rx="1.6" ry="1.25"/><ellipse cx="309.0" cy="44.0" rx="1.6" ry="1.25"/><ellipse cx="313.7" cy="49.1" rx="1.6" ry="1.25"/><ellipse cx="331.9" cy="45.1" rx="1.6" ry="1.25"/><ellipse cx="336.0" cy="43.7" rx="1.6" ry="1.25"/><ellipse cx="340.7" cy="42.4" rx="1.6" ry="1.25"/><ellipse cx="344.0" cy="41.7" rx="1.6" ry="1.25"/><ellipse cx="346.7" cy="43.7" rx="1.6" ry="1.25"/><ellipse cx="350.1" cy="42.4" rx="1.6" ry="1.25"/><ellipse cx="353.5" cy="41.7" rx="1.6" ry="1.25"/><ellipse cx="356.8" cy="42.4" rx="1.6" ry="1.25"/><ellipse cx="360.2" cy="43.7" rx="1.6" ry="1.25"/><ellipse cx="364.2" cy="41.0" rx="1.6" ry="1.25"/><ellipse cx="366.9" cy="42.4" rx="1.6" ry="1.25"/><ellipse cx="371.0" cy="41.0" rx="1.6" ry="1.25"/><ellipse cx="373.7" cy="43.7" rx="1.6" ry="1.25"/><ellipse cx="334.6" cy="47.8" rx="1.6" ry="1.25"/><ellipse cx="339.3" cy="48.4" rx="1.6" ry="1.25"/><ellipse cx="342.7" cy="46.4" rx="1.6" ry="1.25"/><ellipse cx="348.1" cy="47.1" rx="1.6" ry="1.25"/><ellipse cx="352.1" cy="48.4" rx="1.6" ry="1.25"/><ellipse cx="355.5" cy="46.4" rx="1.6" ry="1.25"/><ellipse cx="358.8" cy="47.8" rx="1.6" ry="1.25"/><ellipse cx="361.5" cy="49.1" rx="1.6" ry="1.25"/><ellipse cx="365.6" cy="46.4" rx="1.6" ry="1.25"/><ellipse cx="369.6" cy="46.4" rx="1.6" ry="1.25"/><ellipse cx="373.0" cy="47.8" rx="1.6" ry="1.25"/><ellipse cx="326.5" cy="53.8" rx="1.6" ry="1.25"/><ellipse cx="337.3" cy="53.2" rx="1.6" ry="1.25"/><ellipse cx="341.3" cy="51.1" rx="1.6" ry="1.25"/><ellipse cx="345.4" cy="52.5" rx="1.6" ry="1.25"/><ellipse cx="349.4" cy="50.5" rx="1.6" ry="1.25"/><ellipse cx="353.5" cy="51.8" rx="1.6" ry="1.25"/><ellipse cx="357.5" cy="53.2" rx="1.6" ry="1.25"/><ellipse cx="361.5" cy="52.5" rx="1.6" ry="1.25"/><ellipse cx="366.9" cy="51.1" rx="1.6" ry="1.25"/><ellipse cx="372.3" cy="52.5" rx="1.6" ry="1.25"/><ellipse cx="382.0" cy="4.0" rx="1.6" ry="1.25"/><ellipse cx="415.0" cy="9.4" rx="1.6" ry="1.25"/><ellipse cx="417.4" cy="19.8" rx="1.6" ry="1.25"/><ellipse cx="402.6" cy="22.5" rx="1.6" ry="1.25"/><ellipse cx="410.7" cy="23.1" rx="1.6" ry="1.25"/><ellipse cx="376.3" cy="21.5" rx="1.6" ry="1.25"/><ellipse cx="380.4" cy="23.5" rx="1.6" ry="1.25"/><ellipse cx="382.4" cy="24.2" rx="1.6" ry="1.25"/><ellipse cx="388.5" cy="24.6" rx="1.6" ry="1.25"/><ellipse cx="389.8" cy="25.2" rx="1.6" ry="1.25"/><ellipse cx="378.4" cy="27.3" rx="1.6" ry="1.25"/><ellipse cx="383.7" cy="28.2" rx="1.6" ry="1.25"/><ellipse cx="392.5" cy="30.3" rx="1.6" ry="1.25"/><ellipse cx="406.0" cy="30.9" rx="1.6" ry="1.25"/><ellipse cx="412.0" cy="30.9" rx="1.6" ry="1.25"/><ellipse cx="415.4" cy="33.6" rx="1.6" ry="1.25"/><ellipse cx="419.4" cy="32.7" rx="1.6" ry="1.25"/><ellipse cx="422.8" cy="34.3" rx="1.6" ry="1.25"/><ellipse cx="426.8" cy="36.7" rx="1.6" ry="1.25"/><ellipse cx="428.8" cy="38.1" rx="1.6" ry="1.25"/><ellipse cx="431.5" cy="42.1" rx="1.6" ry="1.25"/><ellipse cx="428.8" cy="42.4" rx="1.6" ry="1.25"/><ellipse cx="376.3" cy="33.6" rx="1.6" ry="1.25"/><ellipse cx="381.7" cy="33.0" rx="1.6" ry="1.25"/><ellipse cx="388.5" cy="33.6" rx="1.6" ry="1.25"/><ellipse cx="390.5" cy="34.6" rx="1.6" ry="1.25"/><ellipse cx="393.2" cy="35.0" rx="1.6" ry="1.25"/><ellipse cx="399.2" cy="34.3" rx="1.6" ry="1.25"/><ellipse cx="399.9" cy="37.7" rx="1.6" ry="1.25"/><ellipse cx="377.7" cy="37.7" rx="1.6" ry="1.25"/><ellipse cx="380.4" cy="39.0" rx="1.6" ry="1.25"/><ellipse cx="384.4" cy="38.3" rx="1.6" ry="1.25"/><ellipse cx="389.8" cy="37.7" rx="1.6" ry="1.25"/><ellipse cx="393.8" cy="41.0" rx="1.6" ry="1.25"/><ellipse cx="397.2" cy="41.7" rx="1.6" ry="1.25"/><ellipse cx="399.2" cy="42.4" rx="1.6" ry="1.25"/><ellipse cx="405.3" cy="38.3" rx="1.6" ry="1.25"/><ellipse cx="406.0" cy="41.7" rx="1.6" ry="1.25"/><ellipse cx="409.3" cy="41.0" rx="1.6" ry="1.25"/><ellipse cx="414.0" cy="42.4" rx="1.6" ry="1.25"/><ellipse cx="416.7" cy="39.0" rx="1.6" ry="1.25"/><ellipse cx="419.4" cy="37.7" rx="1.6" ry="1.25"/><ellipse cx="422.1" cy="40.4" rx="1.6" ry="1.25"/><ellipse cx="424.1" cy="42.4" rx="1.6" ry="1.25"/><ellipse cx="426.2" cy="45.7" rx="1.6" ry="1.25"/><ellipse cx="376.3" cy="42.4" rx="1.6" ry="1.25"/><ellipse cx="379.7" cy="42.4" rx="1.6" ry="1.25"/><ellipse cx="383.1" cy="43.7" rx="1.6" ry="1.25"/><ellipse cx="387.1" cy="45.1" rx="1.6" ry="1.25"/><ellipse cx="389.8" cy="43.7" rx="1.6" ry="1.25"/><ellipse cx="393.2" cy="45.7" rx="1.6" ry="1.25"/><ellipse cx="396.5" cy="45.1" rx="1.6" ry="1.25"/><ellipse cx="400.6" cy="45.1" rx="1.6" ry="1.25"/><ellipse cx="404.6" cy="46.4" rx="1.6" ry="1.25"/><ellipse cx="411.3" cy="48.4" rx="1.6" ry="1.25"/><ellipse cx="415.4" cy="47.8" rx="1.6" ry="1.25"/><ellipse cx="418.7" cy="46.4" rx="1.6" ry="1.25"/><ellipse cx="420.8" cy="49.1" rx="1.6" ry="1.25"/><ellipse cx="423.5" cy="49.1" rx="1.6" ry="1.25"/><ellipse cx="377.7" cy="47.1" rx="1.6" ry="1.25"/><ellipse cx="381.7" cy="47.8" rx="1.6" ry="1.25"/><ellipse cx="385.1" cy="49.1" rx="1.6" ry="1.25"/><ellipse cx="388.5" cy="48.4" rx="1.6" ry="1.25"/><ellipse cx="391.2" cy="49.8" rx="1.6" ry="1.25"/><ellipse cx="394.5" cy="50.5" rx="1.6" ry="1.25"/><ellipse cx="397.9" cy="49.1" rx="1.6" ry="1.25"/><ellipse cx="403.3" cy="51.8" rx="1.6" ry="1.25"/><ellipse cx="407.3" cy="49.8" rx="1.6" ry="1.25"/><ellipse cx="410.0" cy="51.8" rx="1.6" ry="1.25"/><ellipse cx="414.0" cy="52.5" rx="1.6" ry="1.25"/><ellipse cx="418.1" cy="51.8" rx="1.6" ry="1.25"/><ellipse cx="422.1" cy="52.5" rx="1.6" ry="1.25"/><ellipse cx="379.0" cy="52.5" rx="1.6" ry="1.25"/><ellipse cx="384.4" cy="53.2" rx="1.6" ry="1.25"/><ellipse cx="389.8" cy="53.8" rx="1.6" ry="1.25"/><ellipse cx="395.2" cy="53.8" rx="1.6" ry="1.25"/><ellipse cx="432.9" cy="53.2" rx="1.6" ry="1.25"/><ellipse cx="436.9" cy="52.9" rx="1.6" ry="1.25"/><ellipse cx="446.3" cy="47.5" rx="1.6" ry="1.25"/><ellipse cx="469.6" cy="45.1" rx="1.6" ry="1.25"/><ellipse cx="490.5" cy="39.0" rx="1.6" ry="1.25"/><ellipse cx="466.8" cy="53.4" rx="1.6" ry="1.25"/><ellipse cx="490.5" cy="54.2" rx="1.6" ry="1.25"/><ellipse cx="312.4" cy="56.3" rx="1.6" ry="1.25"/><ellipse cx="321.2" cy="58.8" rx="1.6" ry="1.25"/><ellipse cx="324.5" cy="62.0" rx="1.6" ry="1.25"/><ellipse cx="327.2" cy="61.5" rx="1.6" ry="1.25"/><ellipse cx="332.6" cy="57.7" rx="1.6" ry="1.25"/><ellipse cx="332.6" cy="61.1" rx="1.6" ry="1.25"/><ellipse cx="334.6" cy="62.4" rx="1.6" ry="1.25"/><ellipse cx="336.2" cy="65.5" rx="1.6" ry="1.25"/><ellipse cx="338.7" cy="57.7" rx="1.6" ry="1.25"/><ellipse cx="341.3" cy="58.4" rx="1.6" ry="1.25"/><ellipse cx="344.0" cy="61.7" rx="1.6" ry="1.25"/><ellipse cx="343.4" cy="63.1" rx="1.6" ry="1.25"/><ellipse cx="346.1" cy="61.1" rx="1.6" ry="1.25"/><ellipse cx="346.5" cy="65.5" rx="1.6" ry="1.25"/><ellipse cx="333.3" cy="69.1" rx="1.6" ry="1.25"/><ellipse cx="350.8" cy="57.7" rx="1.6" ry="1.25"/><ellipse cx="353.5" cy="57.0" rx="1.6" ry="1.25"/><ellipse cx="354.1" cy="60.4" rx="1.6" ry="1.25"/><ellipse cx="358.2" cy="59.0" rx="1.6" ry="1.25"/><ellipse cx="360.2" cy="61.1" rx="1.6" ry="1.25"/><ellipse cx="362.9" cy="57.0" rx="1.6" ry="1.25"/><ellipse cx="365.6" cy="60.4" rx="1.6" ry="1.25"/><ellipse cx="368.3" cy="57.7" rx="1.6" ry="1.25"/><ellipse cx="372.3" cy="57.0" rx="1.6" ry="1.25"/><ellipse cx="374.3" cy="60.4" rx="1.6" ry="1.25"/><ellipse cx="353.5" cy="65.5" rx="1.6" ry="1.25"/><ellipse cx="356.2" cy="67.8" rx="1.6" ry="1.25"/><ellipse cx="358.8" cy="65.8" rx="1.6" ry="1.25"/><ellipse cx="360.2" cy="68.5" rx="1.6" ry="1.25"/><ellipse cx="362.9" cy="67.1" rx="1.6" ry="1.25"/><ellipse cx="365.6" cy="65.8" rx="1.6" ry="1.25"/><ellipse cx="368.3" cy="64.4" rx="1.6" ry="1.25"/><ellipse cx="371.0" cy="63.1" rx="1.6" ry="1.25"/><ellipse cx="373.0" cy="66.4" rx="1.6" ry="1.25"/><ellipse cx="356.8" cy="71.2" rx="1.6" ry="1.25"/><ellipse cx="359.5" cy="70.5" rx="1.6" ry="1.25"/><ellipse cx="361.5" cy="73.2" rx="1.6" ry="1.25"/><ellipse cx="358.2" cy="75.2" rx="1.6" ry="1.25"/><ellipse cx="360.9" cy="74.5" rx="1.6" ry="1.25"/><ellipse cx="366.2" cy="72.5" rx="1.6" ry="1.25"/><ellipse cx="368.9" cy="73.2" rx="1.6" ry="1.25"/><ellipse cx="371.0" cy="70.5" rx="1.6" ry="1.25"/><ellipse cx="372.3" cy="68.5" rx="1.6" ry="1.25"/><ellipse cx="351.4" cy="73.6" rx="1.6" ry="1.25"/><ellipse cx="341.3" cy="75.2" rx="1.6" ry="1.25"/><ellipse cx="342.7" cy="73.8" rx="1.6" ry="1.25"/><ellipse cx="344.7" cy="73.2" rx="1.6" ry="1.25"/><ellipse cx="325.5" cy="76.8" rx="1.6" ry="1.25"/><ellipse cx="331.7" cy="80.3" rx="1.6" ry="1.25"/><ellipse cx="333.3" cy="78.6" rx="1.6" ry="1.25"/><ellipse cx="344.7" cy="82.3" rx="1.6" ry="1.25"/><ellipse cx="348.7" cy="84.9" rx="1.6" ry="1.25"/><ellipse cx="355.1" cy="83.9" rx="1.6" ry="1.25"/><ellipse cx="338.7" cy="87.3" rx="1.6" ry="1.25"/><ellipse cx="321.8" cy="88.0" rx="1.6" ry="1.25"/><ellipse cx="308.0" cy="91.1" rx="1.6" ry="1.25"/><ellipse cx="353.2" cy="95.1" rx="1.6" ry="1.25"/><ellipse cx="354.8" cy="98.1" rx="1.6" ry="1.25"/><ellipse cx="357.5" cy="97.0" rx="1.6" ry="1.25"/><ellipse cx="371.6" cy="107.2" rx="1.6" ry="1.25"/><ellipse cx="374.3" cy="80.6" rx="1.6" ry="1.25"/><ellipse cx="369.6" cy="76.5" rx="1.6" ry="1.25"/><ellipse cx="376.3" cy="56.3" rx="1.6" ry="1.25"/><ellipse cx="379.0" cy="57.7" rx="1.6" ry="1.25"/><ellipse cx="382.4" cy="57.0" rx="1.6" ry="1.25"/><ellipse cx="385.8" cy="56.3" rx="1.6" ry="1.25"/><ellipse cx="388.5" cy="58.4" rx="1.6" ry="1.25"/><ellipse cx="392.5" cy="57.0" rx="1.6" ry="1.25"/><ellipse cx="396.5" cy="57.7" rx="1.6" ry="1.25"/><ellipse cx="399.9" cy="56.3" rx="1.6" ry="1.25"/><ellipse cx="403.3" cy="57.7" rx="1.6" ry="1.25"/><ellipse cx="407.3" cy="57.0" rx="1.6" ry="1.25"/><ellipse cx="411.3" cy="57.7" rx="1.6" ry="1.25"/><ellipse cx="415.4" cy="57.0" rx="1.6" ry="1.25"/><ellipse cx="418.1" cy="58.4" rx="1.6" ry="1.25"/><ellipse cx="421.4" cy="60.4" rx="1.6" ry="1.25"/><ellipse cx="425.5" cy="57.7" rx="1.6" ry="1.25"/><ellipse cx="428.2" cy="59.7" rx="1.6" ry="1.25"/><ellipse cx="431.5" cy="61.1" rx="1.6" ry="1.25"/><ellipse cx="434.9" cy="62.4" rx="1.6" ry="1.25"/><ellipse cx="438.9" cy="59.0" rx="1.6" ry="1.25"/><ellipse cx="442.3" cy="61.7" rx="1.6" ry="1.25"/><ellipse cx="377.7" cy="61.7" rx="1.6" ry="1.25"/><ellipse cx="381.7" cy="61.1" rx="1.6" ry="1.25"/><ellipse cx="385.1" cy="62.4" rx="1.6" ry="1.25"/><ellipse cx="389.8" cy="60.4" rx="1.6" ry="1.25"/><ellipse cx="395.2" cy="61.1" rx="1.6" ry="1.25"/><ellipse cx="398.6" cy="60.4" rx="1.6" ry="1.25"/><ellipse cx="402.6" cy="61.7" rx="1.6" ry="1.25"/><ellipse cx="406.6" cy="61.1" rx="1.6" ry="1.25"/><ellipse cx="410.0" cy="61.7" rx="1.6" ry="1.25"/><ellipse cx="414.0" cy="62.4" rx="1.6" ry="1.25"/><ellipse cx="418.1" cy="61.7" rx="1.6" ry="1.25"/><ellipse cx="426.2" cy="62.4" rx="1.6" ry="1.25"/><ellipse cx="430.2" cy="63.1" rx="1.6" ry="1.25"/><ellipse cx="377.0" cy="65.1" rx="1.6" ry="1.25"/><ellipse cx="380.4" cy="67.1" rx="1.6" ry="1.25"/><ellipse cx="383.7" cy="65.8" rx="1.6" ry="1.25"/><ellipse cx="387.1" cy="64.4" rx="1.6" ry="1.25"/><ellipse cx="391.2" cy="65.1" rx="1.6" ry="1.25"/><ellipse cx="394.5" cy="64.4" rx="1.6" ry="1.25"/><ellipse cx="397.9" cy="65.8" rx="1.6" ry="1.25"/><ellipse cx="401.9" cy="65.1" rx="1.6" ry="1.25"/><ellipse cx="405.3" cy="67.8" rx="1.6" ry="1.25"/><ellipse cx="408.7" cy="68.5" rx="1.6" ry="1.25"/><ellipse cx="411.3" cy="67.1" rx="1.6" ry="1.25"/><ellipse cx="414.7" cy="66.4" rx="1.6" ry="1.25"/><ellipse cx="419.4" cy="67.1" rx="1.6" ry="1.25"/><ellipse cx="422.8" cy="65.8" rx="1.6" ry="1.25"/><ellipse cx="426.2" cy="64.4" rx="1.6" ry="1.25"/><ellipse cx="428.8" cy="69.8" rx="1.6" ry="1.25"/><ellipse cx="431.5" cy="67.8" rx="1.6" ry="1.25"/><ellipse cx="435.6" cy="66.4" rx="1.6" ry="1.25"/><ellipse cx="439.6" cy="67.1" rx="1.6" ry="1.25"/><ellipse cx="443.0" cy="65.8" rx="1.6" ry="1.25"/><ellipse cx="376.3" cy="69.8" rx="1.6" ry="1.25"/><ellipse cx="378.4" cy="71.8" rx="1.6" ry="1.25"/><ellipse cx="382.4" cy="71.2" rx="1.6" ry="1.25"/><ellipse cx="385.8" cy="72.5" rx="1.6" ry="1.25"/><ellipse cx="389.8" cy="69.1" rx="1.6" ry="1.25"/><ellipse cx="392.5" cy="69.8" rx="1.6" ry="1.25"/><ellipse cx="395.9" cy="68.5" rx="1.6" ry="1.25"/><ellipse cx="397.9" cy="71.8" rx="1.6" ry="1.25"/><ellipse cx="401.9" cy="71.2" rx="1.6" ry="1.25"/><ellipse cx="404.6" cy="72.5" rx="1.6" ry="1.25"/><ellipse cx="408.0" cy="71.2" rx="1.6" ry="1.25"/><ellipse cx="410.7" cy="71.8" rx="1.6" ry="1.25"/><ellipse cx="415.4" cy="71.8" rx="1.6" ry="1.25"/><ellipse cx="420.8" cy="69.8" rx="1.6" ry="1.25"/><ellipse cx="423.5" cy="71.2" rx="1.6" ry="1.25"/><ellipse cx="434.2" cy="72.5" rx="1.6" ry="1.25"/><ellipse cx="438.3" cy="71.8" rx="1.6" ry="1.25"/><ellipse cx="441.6" cy="73.8" rx="1.6" ry="1.25"/><ellipse cx="376.3" cy="75.2" rx="1.6" ry="1.25"/><ellipse cx="380.4" cy="75.2" rx="1.6" ry="1.25"/><ellipse cx="385.8" cy="75.9" rx="1.6" ry="1.25"/><ellipse cx="391.2" cy="73.8" rx="1.6" ry="1.25"/><ellipse cx="394.5" cy="75.2" rx="1.6" ry="1.25"/><ellipse cx="399.2" cy="74.5" rx="1.6" ry="1.25"/><ellipse cx="400.6" cy="76.5" rx="1.6" ry="1.25"/><ellipse cx="406.6" cy="74.5" rx="1.6" ry="1.25"/><ellipse cx="409.3" cy="76.5" rx="1.6" ry="1.25"/><ellipse cx="412.7" cy="75.2" rx="1.6" ry="1.25"/><ellipse cx="415.4" cy="77.9" rx="1.6" ry="1.25"/><ellipse cx="418.1" cy="76.5" rx="1.6" ry="1.25"/><ellipse cx="421.4" cy="74.5" rx="1.6" ry="1.25"/><ellipse cx="423.5" cy="76.5" rx="1.6" ry="1.25"/><ellipse cx="426.8" cy="75.2" rx="1.6" ry="1.25"/><ellipse cx="430.2" cy="77.2" rx="1.6" ry="1.25"/><ellipse cx="432.9" cy="76.5" rx="1.6" ry="1.25"/><ellipse cx="436.9" cy="75.2" rx="1.6" ry="1.25"/><ellipse cx="441.0" cy="75.2" rx="1.6" ry="1.25"/><ellipse cx="443.7" cy="74.5" rx="1.6" ry="1.25"/><ellipse cx="376.3" cy="79.9" rx="1.6" ry="1.25"/><ellipse cx="379.7" cy="81.2" rx="1.6" ry="1.25"/><ellipse cx="389.1" cy="80.6" rx="1.6" ry="1.25"/><ellipse cx="393.8" cy="80.6" rx="1.6" ry="1.25"/><ellipse cx="397.9" cy="79.9" rx="1.6" ry="1.25"/><ellipse cx="403.3" cy="79.2" rx="1.6" ry="1.25"/><ellipse cx="407.3" cy="78.6" rx="1.6" ry="1.25"/><ellipse cx="412.0" cy="81.2" rx="1.6" ry="1.25"/><ellipse cx="416.1" cy="79.9" rx="1.6" ry="1.25"/><ellipse cx="419.4" cy="79.2" rx="1.6" ry="1.25"/><ellipse cx="423.5" cy="79.9" rx="1.6" ry="1.25"/><ellipse cx="426.8" cy="80.6" rx="1.6" ry="1.25"/><ellipse cx="430.2" cy="81.2" rx="1.6" ry="1.25"/><ellipse cx="434.2" cy="82.6" rx="1.6" ry="1.25"/><ellipse cx="440.3" cy="81.2" rx="1.6" ry="1.25"/><ellipse cx="378.4" cy="86.0" rx="1.6" ry="1.25"/><ellipse cx="395.2" cy="84.6" rx="1.6" ry="1.25"/><ellipse cx="400.6" cy="83.9" rx="1.6" ry="1.25"/><ellipse cx="402.6" cy="85.3" rx="1.6" ry="1.25"/><ellipse cx="404.6" cy="83.3" rx="1.6" ry="1.25"/><ellipse cx="403.9" cy="88.7" rx="1.6" ry="1.25"/><ellipse cx="410.0" cy="88.0" rx="1.6" ry="1.25"/><ellipse cx="414.7" cy="90.0" rx="1.6" ry="1.25"/><ellipse cx="439.6" cy="85.3" rx="1.6" ry="1.25"/><ellipse cx="438.9" cy="89.3" rx="1.6" ry="1.25"/><ellipse cx="441.0" cy="90.0" rx="1.6" ry="1.25"/><ellipse cx="426.8" cy="90.3" rx="1.6" ry="1.25"/><ellipse cx="390.5" cy="91.1" rx="1.6" ry="1.25"/><ellipse cx="399.9" cy="91.1" rx="1.6" ry="1.25"/><ellipse cx="385.1" cy="94.7" rx="1.6" ry="1.25"/><ellipse cx="387.8" cy="95.4" rx="1.6" ry="1.25"/><ellipse cx="397.9" cy="95.4" rx="1.6" ry="1.25"/><ellipse cx="412.7" cy="94.0" rx="1.6" ry="1.25"/><ellipse cx="415.4" cy="91.3" rx="1.6" ry="1.25"/><ellipse cx="433.6" cy="97.0" rx="1.6" ry="1.25"/><ellipse cx="405.3" cy="99.4" rx="1.6" ry="1.25"/><ellipse cx="406.6" cy="100.8" rx="1.6" ry="1.25"/><ellipse cx="410.0" cy="102.1" rx="1.6" ry="1.25"/><ellipse cx="393.2" cy="103.2" rx="1.6" ry="1.25"/><ellipse cx="421.4" cy="102.8" rx="1.6" ry="1.25"/><ellipse cx="425.5" cy="104.1" rx="1.6" ry="1.25"/><ellipse cx="448.0" cy="57.7" rx="1.6" ry="1.25"/><ellipse cx="456.8" cy="58.4" rx="1.6" ry="1.25"/><ellipse cx="457.8" cy="61.1" rx="1.6" ry="1.25"/><ellipse cx="461.8" cy="60.4" rx="1.6" ry="1.25"/><ellipse cx="466.3" cy="59.7" rx="1.6" ry="1.25"/><ellipse cx="469.0" cy="57.7" rx="1.6" ry="1.25"/><ellipse cx="454.7" cy="64.7" rx="1.6" ry="1.25"/><ellipse cx="459.8" cy="67.1" rx="1.6" ry="1.25"/><ellipse cx="460.9" cy="67.8" rx="1.6" ry="1.25"/><ellipse cx="457.8" cy="69.8" rx="1.6" ry="1.25"/><ellipse cx="454.7" cy="71.8" rx="1.6" ry="1.25"/><ellipse cx="474.9" cy="63.3" rx="1.6" ry="1.25"/><ellipse cx="479.3" cy="61.5" rx="1.6" ry="1.25"/><ellipse cx="483.8" cy="65.1" rx="1.6" ry="1.25"/><ellipse cx="490.5" cy="55.4" rx="1.6" ry="1.25"/><ellipse cx="501.8" cy="60.7" rx="1.6" ry="1.25"/><ellipse cx="469.5" cy="68.5" rx="1.6" ry="1.25"/><ellipse cx="473.0" cy="70.1" rx="1.6" ry="1.25"/><ellipse cx="469.5" cy="73.6" rx="1.6" ry="1.25"/><ellipse cx="476.6" cy="73.6" rx="1.6" ry="1.25"/><ellipse cx="478.7" cy="73.6" rx="1.6" ry="1.25"/><ellipse cx="489.4" cy="76.3" rx="1.6" ry="1.25"/><ellipse cx="493.7" cy="79.0" rx="1.6" ry="1.25"/><ellipse cx="499.9" cy="78.2" rx="1.6" ry="1.25"/><ellipse cx="508.5" cy="83.3" rx="1.6" ry="1.25"/><ellipse cx="457.8" cy="77.2" rx="1.6" ry="1.25"/><ellipse cx="459.1" cy="77.9" rx="1.6" ry="1.25"/><ellipse cx="456.8" cy="80.3" rx="1.6" ry="1.25"/><ellipse cx="458.5" cy="79.9" rx="1.6" ry="1.25"/><ellipse cx="464.5" cy="79.0" rx="1.6" ry="1.25"/><ellipse cx="480.7" cy="82.6" rx="1.6" ry="1.25"/><ellipse cx="446.3" cy="83.3" rx="1.6" ry="1.25"/><ellipse cx="446.1" cy="87.0" rx="1.6" ry="1.25"/><ellipse cx="448.4" cy="89.3" rx="1.6" ry="1.25"/><ellipse cx="457.4" cy="85.3" rx="1.6" ry="1.25"/><ellipse cx="468.6" cy="88.4" rx="1.6" ry="1.25"/><ellipse cx="475.7" cy="90.3" rx="1.6" ry="1.25"/><ellipse cx="447.7" cy="94.3" rx="1.6" ry="1.25"/><ellipse cx="469.5" cy="98.7" rx="1.6" ry="1.25"/><ellipse cx="474.9" cy="97.4" rx="1.6" ry="1.25"/><ellipse cx="453.7" cy="104.1" rx="1.6" ry="1.25"/><ellipse cx="462.5" cy="104.1" rx="1.6" ry="1.25"/><ellipse cx="445.7" cy="73.6" rx="1.6" ry="1.25"/><ellipse cx="369.6" cy="117.2" rx="1.6" ry="1.25"/><ellipse cx="369.3" cy="134.2" rx="1.6" ry="1.25"/><ellipse cx="367.6" cy="143.7" rx="1.6" ry="1.25"/><ellipse cx="372.3" cy="108.4" rx="1.6" ry="1.25"/><ellipse cx="381.5" cy="124.8" rx="1.6" ry="1.25"/><ellipse cx="399.0" cy="116.1" rx="1.6" ry="1.25"/><ellipse cx="414.4" cy="114.3" rx="1.6" ry="1.25"/><ellipse cx="440.7" cy="110.0" rx="1.6" ry="1.25"/><ellipse cx="403.9" cy="143.7" rx="1.6" ry="1.25"/><ellipse cx="431.8" cy="150.0" rx="1.6" ry="1.25"/><ellipse cx="334.8" cy="20.8" rx="1.6" ry="1.25"/><ellipse cx="337.5" cy="29.9" rx="1.6" ry="1.25"/><ellipse cx="351.4" cy="24.1" rx="1.6" ry="1.25"/><ellipse cx="354.8" cy="33.5" rx="1.6" ry="1.25"/><ellipse cx="348.7" cy="21.0" rx="1.6" ry="1.25"/><ellipse cx="365.2" cy="26.4" rx="1.6" ry="1.25"/><ellipse cx="370.1" cy="23.3" rx="1.6" ry="1.25"/><ellipse cx="371.7" cy="30.8" rx="1.6" ry="1.25"/><ellipse cx="367.6" cy="23.4" rx="1.6" ry="1.25"/><ellipse cx="389.1" cy="24.9" rx="1.6" ry="1.25"/><ellipse cx="387.0" cy="23.7" rx="1.6" ry="1.25"/><ellipse cx="378.6" cy="31.1" rx="1.6" ry="1.25"/><ellipse cx="379.6" cy="33.8" rx="1.6" ry="1.25"/><ellipse cx="382.4" cy="23.1" rx="1.6" ry="1.25"/><ellipse cx="393.6" cy="26.3" rx="1.6" ry="1.25"/><ellipse cx="399.8" cy="33.8" rx="1.6" ry="1.25"/><ellipse cx="392.5" cy="26.0" rx="1.6" ry="1.25"/><ellipse cx="393.5" cy="34.1" rx="1.6" ry="1.25"/><ellipse cx="407.5" cy="21.2" rx="1.6" ry="1.25"/><ellipse cx="406.3" cy="26.0" rx="1.6" ry="1.25"/><ellipse cx="343.1" cy="47.9" rx="1.6" ry="1.25"/><ellipse cx="340.8" cy="49.5" rx="1.6" ry="1.25"/><ellipse cx="343.5" cy="40.1" rx="1.6" ry="1.25"/><ellipse cx="333.1" cy="48.6" rx="1.6" ry="1.25"/><ellipse cx="340.9" cy="35.9" rx="1.6" ry="1.25"/><ellipse cx="354.8" cy="40.8" rx="1.6" ry="1.25"/><ellipse cx="350.7" cy="40.1" rx="1.6" ry="1.25"/><ellipse cx="347.9" cy="35.5" rx="1.6" ry="1.25"/><ellipse cx="349.4" cy="40.4" rx="1.6" ry="1.25"/><ellipse cx="358.9" cy="37.2" rx="1.6" ry="1.25"/><ellipse cx="359.0" cy="38.4" rx="1.6" ry="1.25"/><ellipse cx="350.5" cy="47.0" rx="1.6" ry="1.25"/><ellipse cx="357.0" cy="41.6" rx="1.6" ry="1.25"/><ellipse cx="361.2" cy="42.1" rx="1.6" ry="1.25"/><ellipse cx="365.7" cy="48.4" rx="1.6" ry="1.25"/><ellipse cx="363.2" cy="40.6" rx="1.6" ry="1.25"/><ellipse cx="373.1" cy="35.9" rx="1.6" ry="1.25"/><ellipse cx="366.3" cy="46.9" rx="1.6" ry="1.25"/><ellipse cx="371.2" cy="36.1" rx="1.6" ry="1.25"/><ellipse cx="361.0" cy="36.4" rx="1.6" ry="1.25"/><ellipse cx="388.4" cy="39.1" rx="1.6" ry="1.25"/><ellipse cx="386.0" cy="48.1" rx="1.6" ry="1.25"/><ellipse cx="380.2" cy="39.3" rx="1.6" ry="1.25"/><ellipse cx="388.9" cy="44.1" rx="1.6" ry="1.25"/><ellipse cx="394.2" cy="45.5" rx="1.6" ry="1.25"/><ellipse cx="394.9" cy="39.4" rx="1.6" ry="1.25"/><ellipse cx="390.6" cy="46.1" rx="1.6" ry="1.25"/><ellipse cx="403.3" cy="44.4" rx="1.6" ry="1.25"/><ellipse cx="403.7" cy="35.8" rx="1.6" ry="1.25"/><ellipse cx="408.8" cy="42.2" rx="1.6" ry="1.25"/><ellipse cx="418.9" cy="48.9" rx="1.6" ry="1.25"/><ellipse cx="335.9" cy="54.0" rx="1.6" ry="1.25"/><ellipse cx="336.5" cy="57.4" rx="1.6" ry="1.25"/><ellipse cx="343.5" cy="53.1" rx="1.6" ry="1.25"/><ellipse cx="356.7" cy="60.8" rx="1.6" ry="1.25"/><ellipse cx="357.0" cy="61.3" rx="1.6" ry="1.25"/><ellipse cx="354.0" cy="55.1" rx="1.6" ry="1.25"/><ellipse cx="350.0" cy="55.6" rx="1.6" ry="1.25"/><ellipse cx="356.5" cy="51.6" rx="1.6" ry="1.25"/><ellipse cx="348.3" cy="61.0" rx="1.6" ry="1.25"/><ellipse cx="349.0" cy="51.4" rx="1.6" ry="1.25"/><ellipse cx="346.0" cy="58.2" rx="1.6" ry="1.25"/><ellipse cx="365.1" cy="64.2" rx="1.6" ry="1.25"/><ellipse cx="372.9" cy="64.3" rx="1.6" ry="1.25"/><ellipse cx="364.2" cy="51.7" rx="1.6" ry="1.25"/><ellipse cx="361.8" cy="57.5" rx="1.6" ry="1.25"/><ellipse cx="370.4" cy="56.8" rx="1.6" ry="1.25"/><ellipse cx="363.8" cy="56.3" rx="1.6" ry="1.25"/><ellipse cx="369.2" cy="59.9" rx="1.6" ry="1.25"/><ellipse cx="371.0" cy="62.4" rx="1.6" ry="1.25"/><ellipse cx="369.8" cy="52.2" rx="1.6" ry="1.25"/><ellipse cx="387.3" cy="54.6" rx="1.6" ry="1.25"/><ellipse cx="383.4" cy="55.7" rx="1.6" ry="1.25"/><ellipse cx="385.8" cy="53.3" rx="1.6" ry="1.25"/><ellipse cx="379.0" cy="53.9" rx="1.6" ry="1.25"/><ellipse cx="392.6" cy="62.9" rx="1.6" ry="1.25"/><ellipse cx="398.6" cy="55.1" rx="1.6" ry="1.25"/><ellipse cx="396.0" cy="64.4" rx="1.6" ry="1.25"/><ellipse cx="397.6" cy="53.7" rx="1.6" ry="1.25"/><ellipse cx="416.8" cy="59.6" rx="1.6" ry="1.25"/><ellipse cx="419.4" cy="51.9" rx="1.6" ry="1.25"/><ellipse cx="412.1" cy="62.0" rx="1.6" ry="1.25"/><ellipse cx="417.3" cy="63.3" rx="1.6" ry="1.25"/><ellipse cx="331.1" cy="69.6" rx="1.6" ry="1.25"/><ellipse cx="332.2" cy="68.2" rx="1.6" ry="1.25"/><ellipse cx="344.1" cy="73.7" rx="1.6" ry="1.25"/><ellipse cx="358.5" cy="70.7" rx="1.6" ry="1.25"/><ellipse cx="357.6" cy="71.8" rx="1.6" ry="1.25"/><ellipse cx="349.1" cy="76.4" rx="1.6" ry="1.25"/><ellipse cx="358.7" cy="67.0" rx="1.6" ry="1.25"/><ellipse cx="368.8" cy="74.2" rx="1.6" ry="1.25"/><ellipse cx="363.5" cy="70.7" rx="1.6" ry="1.25"/><ellipse cx="362.5" cy="68.4" rx="1.6" ry="1.25"/><ellipse cx="364.1" cy="73.9" rx="1.6" ry="1.25"/></g><g fill="none" stroke="#161616" stroke-width="1.05"><ellipse cx="106.2" cy="265.8" rx="1.6" ry="1.25"/><ellipse cx="108.7" cy="263.1" rx="1.6" ry="1.25"/><ellipse cx="111.3" cy="259.5" rx="1.6" ry="1.25"/><ellipse cx="133.2" cy="260.0" rx="1.6" ry="1.25"/><ellipse cx="153.7" cy="259.5" rx="1.6" ry="1.25"/><ellipse cx="117.4" cy="264.4" rx="1.6" ry="1.25"/><ellipse cx="127.5" cy="266.7" rx="1.6" ry="1.25"/><ellipse cx="136.2" cy="265.8" rx="1.6" ry="1.25"/><ellipse cx="146.3" cy="268.5" rx="1.6" ry="1.25"/><ellipse cx="112.0" cy="270.5" rx="1.6" ry="1.25"/><ellipse cx="115.4" cy="269.8" rx="1.6" ry="1.25"/><ellipse cx="118.7" cy="269.2" rx="1.6" ry="1.25"/><ellipse cx="121.4" cy="269.8" rx="1.6" ry="1.25"/><ellipse cx="124.8" cy="270.5" rx="1.6" ry="1.25"/><ellipse cx="79.3" cy="276.4" rx="1.6" ry="1.25"/><ellipse cx="91.4" cy="277.1" rx="1.6" ry="1.25"/><ellipse cx="94.5" cy="273.4" rx="1.6" ry="1.25"/><ellipse cx="97.9" cy="276.4" rx="1.6" ry="1.25"/><ellipse cx="99.2" cy="274.4" rx="1.6" ry="1.25"/><ellipse cx="101.2" cy="275.0" rx="1.6" ry="1.25"/><ellipse cx="103.3" cy="280.4" rx="1.6" ry="1.25"/><ellipse cx="106.0" cy="280.4" rx="1.6" ry="1.25"/><ellipse cx="108.0" cy="274.4" rx="1.6" ry="1.25"/><ellipse cx="99.2" cy="279.1" rx="1.6" ry="1.25"/><ellipse cx="97.9" cy="283.1" rx="1.6" ry="1.25"/><ellipse cx="95.2" cy="284.5" rx="1.6" ry="1.25"/><ellipse cx="101.2" cy="283.8" rx="1.6" ry="1.25"/><ellipse cx="104.6" cy="285.8" rx="1.6" ry="1.25"/><ellipse cx="107.3" cy="286.5" rx="1.6" ry="1.25"/><ellipse cx="82.4" cy="285.1" rx="1.6" ry="1.25"/><ellipse cx="85.1" cy="285.5" rx="1.6" ry="1.25"/><ellipse cx="87.1" cy="287.8" rx="1.6" ry="1.25"/><ellipse cx="91.8" cy="287.8" rx="1.6" ry="1.25"/><ellipse cx="93.8" cy="288.5" rx="1.6" ry="1.25"/><ellipse cx="96.5" cy="287.2" rx="1.6" ry="1.25"/><ellipse cx="99.2" cy="289.2" rx="1.6" ry="1.25"/><ellipse cx="101.9" cy="289.8" rx="1.6" ry="1.25"/><ellipse cx="106.0" cy="289.8" rx="1.6" ry="1.25"/><ellipse cx="108.7" cy="290.5" rx="1.6" ry="1.25"/><ellipse cx="74.3" cy="293.2" rx="1.6" ry="1.25"/><ellipse cx="77.0" cy="293.6" rx="1.6" ry="1.25"/><ellipse cx="81.7" cy="293.9" rx="1.6" ry="1.25"/><ellipse cx="83.7" cy="292.5" rx="1.6" ry="1.25"/><ellipse cx="88.5" cy="292.5" rx="1.6" ry="1.25"/><ellipse cx="91.2" cy="294.6" rx="1.6" ry="1.25"/><ellipse cx="93.8" cy="295.2" rx="1.6" ry="1.25"/><ellipse cx="96.5" cy="293.9" rx="1.6" ry="1.25"/><ellipse cx="99.2" cy="293.2" rx="1.6" ry="1.25"/><ellipse cx="101.9" cy="294.6" rx="1.6" ry="1.25"/><ellipse cx="106.0" cy="293.2" rx="1.6" ry="1.25"/><ellipse cx="108.7" cy="295.9" rx="1.6" ry="1.25"/><ellipse cx="81.1" cy="297.9" rx="1.6" ry="1.25"/><ellipse cx="84.4" cy="297.2" rx="1.6" ry="1.25"/><ellipse cx="87.1" cy="298.6" rx="1.6" ry="1.25"/><ellipse cx="89.8" cy="299.9" rx="1.6" ry="1.25"/><ellipse cx="92.5" cy="297.9" rx="1.6" ry="1.25"/><ellipse cx="95.2" cy="298.6" rx="1.6" ry="1.25"/><ellipse cx="99.2" cy="296.6" rx="1.6" ry="1.25"/><ellipse cx="103.3" cy="299.3" rx="1.6" ry="1.25"/><ellipse cx="107.3" cy="297.9" rx="1.6" ry="1.25"/><ellipse cx="74.7" cy="300.3" rx="1.6" ry="1.25"/><ellipse cx="79.7" cy="299.9" rx="1.6" ry="1.25"/><ellipse cx="81.7" cy="302.0" rx="1.6" ry="1.25"/><ellipse cx="86.4" cy="300.6" rx="1.6" ry="1.25"/><ellipse cx="89.1" cy="301.3" rx="1.6" ry="1.25"/><ellipse cx="101.2" cy="301.3" rx="1.6" ry="1.25"/><ellipse cx="106.0" cy="301.3" rx="1.6" ry="1.25"/><ellipse cx="76.3" cy="305.3" rx="1.6" ry="1.25"/><ellipse cx="75.0" cy="307.3" rx="1.6" ry="1.25"/><ellipse cx="80.4" cy="303.3" rx="1.6" ry="1.25"/><ellipse cx="83.1" cy="304.0" rx="1.6" ry="1.25"/><ellipse cx="81.7" cy="305.3" rx="1.6" ry="1.25"/><ellipse cx="89.8" cy="306.7" rx="1.6" ry="1.25"/><ellipse cx="93.2" cy="309.4" rx="1.6" ry="1.25"/><ellipse cx="84.4" cy="308.7" rx="1.6" ry="1.25"/><ellipse cx="86.4" cy="311.4" rx="1.6" ry="1.25"/><ellipse cx="80.4" cy="310.7" rx="1.6" ry="1.25"/><ellipse cx="100.6" cy="306.7" rx="1.6" ry="1.25"/><ellipse cx="105.3" cy="308.0" rx="1.6" ry="1.25"/><ellipse cx="108.7" cy="306.0" rx="1.6" ry="1.25"/><ellipse cx="79.7" cy="315.4" rx="1.6" ry="1.25"/><ellipse cx="81.1" cy="314.7" rx="1.6" ry="1.25"/><ellipse cx="89.8" cy="317.4" rx="1.6" ry="1.25"/><ellipse cx="99.9" cy="314.1" rx="1.6" ry="1.25"/><ellipse cx="103.9" cy="312.7" rx="1.6" ry="1.25"/><ellipse cx="106.6" cy="313.4" rx="1.6" ry="1.25"/><ellipse cx="85.8" cy="321.9" rx="1.6" ry="1.25"/><ellipse cx="108.7" cy="323.5" rx="1.6" ry="1.25"/><ellipse cx="182.4" cy="288.2" rx="1.6" ry="1.25"/><ellipse cx="186.1" cy="287.8" rx="1.6" ry="1.25"/><ellipse cx="188.1" cy="296.6" rx="1.6" ry="1.25"/><ellipse cx="191.8" cy="300.3" rx="1.6" ry="1.25"/><ellipse cx="181.3" cy="300.3" rx="1.6" ry="1.25"/><ellipse cx="183.4" cy="304.0" rx="1.6" ry="1.25"/><ellipse cx="187.4" cy="303.0" rx="1.6" ry="1.25"/><ellipse cx="181.3" cy="308.0" rx="1.6" ry="1.25"/><ellipse cx="186.7" cy="308.4" rx="1.6" ry="1.25"/><ellipse cx="190.1" cy="308.0" rx="1.6" ry="1.25"/><ellipse cx="182.7" cy="312.1" rx="1.6" ry="1.25"/><ellipse cx="187.4" cy="312.7" rx="1.6" ry="1.25"/><ellipse cx="191.4" cy="312.5" rx="1.6" ry="1.25"/><ellipse cx="192.8" cy="312.5" rx="1.6" ry="1.25"/><ellipse cx="180.7" cy="314.1" rx="1.6" ry="1.25"/><ellipse cx="190.8" cy="316.1" rx="1.6" ry="1.25"/><ellipse cx="194.1" cy="318.1" rx="1.6" ry="1.25"/><ellipse cx="199.5" cy="319.7" rx="1.6" ry="1.25"/><ellipse cx="208.5" cy="320.5" rx="1.6" ry="1.25"/><ellipse cx="206.9" cy="322.8" rx="1.6" ry="1.25"/><ellipse cx="181.3" cy="318.1" rx="1.6" ry="1.25"/><ellipse cx="184.0" cy="319.5" rx="1.6" ry="1.25"/><ellipse cx="186.7" cy="318.8" rx="1.6" ry="1.25"/><ellipse cx="189.4" cy="320.8" rx="1.6" ry="1.25"/><ellipse cx="193.5" cy="321.5" rx="1.6" ry="1.25"/><ellipse cx="197.5" cy="322.2" rx="1.6" ry="1.25"/><ellipse cx="182.7" cy="322.8" rx="1.6" ry="1.25"/><ellipse cx="186.7" cy="323.2" rx="1.6" ry="1.25"/><ellipse cx="190.8" cy="322.8" rx="1.6" ry="1.25"/><ellipse cx="180.7" cy="311.4" rx="1.6" ry="1.25"/><ellipse cx="184.7" cy="310.0" rx="1.6" ry="1.25"/><ellipse cx="114.7" cy="326.0" rx="1.6" ry="1.25"/><ellipse cx="127.5" cy="324.7" rx="1.6" ry="1.25"/><ellipse cx="130.2" cy="327.4" rx="1.6" ry="1.25"/><ellipse cx="132.2" cy="325.3" rx="1.6" ry="1.25"/><ellipse cx="129.5" cy="333.4" rx="1.6" ry="1.25"/><ellipse cx="130.9" cy="335.4" rx="1.6" ry="1.25"/><ellipse cx="133.6" cy="330.7" rx="1.6" ry="1.25"/><ellipse cx="135.3" cy="335.4" rx="1.6" ry="1.25"/><ellipse cx="142.3" cy="334.1" rx="1.6" ry="1.25"/><ellipse cx="136.9" cy="326.0" rx="1.6" ry="1.25"/><ellipse cx="139.6" cy="326.7" rx="1.6" ry="1.25"/><ellipse cx="143.0" cy="326.0" rx="1.6" ry="1.25"/><ellipse cx="146.3" cy="325.3" rx="1.6" ry="1.25"/><ellipse cx="149.0" cy="328.0" rx="1.6" ry="1.25"/><ellipse cx="150.4" cy="331.4" rx="1.6" ry="1.25"/><ellipse cx="151.7" cy="329.4" rx="1.6" ry="1.25"/><ellipse cx="150.4" cy="336.8" rx="1.6" ry="1.25"/><ellipse cx="153.1" cy="326.0" rx="1.6" ry="1.25"/><ellipse cx="155.8" cy="328.0" rx="1.6" ry="1.25"/><ellipse cx="158.5" cy="326.7" rx="1.6" ry="1.25"/><ellipse cx="161.2" cy="326.0" rx="1.6" ry="1.25"/><ellipse cx="163.8" cy="328.0" rx="1.6" ry="1.25"/><ellipse cx="166.5" cy="326.0" rx="1.6" ry="1.25"/><ellipse cx="169.2" cy="326.7" rx="1.6" ry="1.25"/><ellipse cx="171.9" cy="328.0" rx="1.6" ry="1.25"/><ellipse cx="174.6" cy="326.0" rx="1.6" ry="1.25"/><ellipse cx="177.3" cy="327.4" rx="1.6" ry="1.25"/><ellipse cx="155.1" cy="334.8" rx="1.6" ry="1.25"/><ellipse cx="157.8" cy="333.4" rx="1.6" ry="1.25"/><ellipse cx="160.5" cy="332.7" rx="1.6" ry="1.25"/><ellipse cx="160.5" cy="337.5" rx="1.6" ry="1.25"/><ellipse cx="159.8" cy="340.8" rx="1.6" ry="1.25"/><ellipse cx="162.5" cy="340.2" rx="1.6" ry="1.25"/><ellipse cx="165.2" cy="333.4" rx="1.6" ry="1.25"/><ellipse cx="167.2" cy="331.4" rx="1.6" ry="1.25"/><ellipse cx="169.2" cy="336.1" rx="1.6" ry="1.25"/><ellipse cx="167.9" cy="338.8" rx="1.6" ry="1.25"/><ellipse cx="170.6" cy="339.5" rx="1.6" ry="1.25"/><ellipse cx="171.9" cy="334.8" rx="1.6" ry="1.25"/><ellipse cx="174.6" cy="332.1" rx="1.6" ry="1.25"/><ellipse cx="176.6" cy="335.4" rx="1.6" ry="1.25"/><ellipse cx="178.7" cy="340.2" rx="1.6" ry="1.25"/><ellipse cx="178.0" cy="329.4" rx="1.6" ry="1.25"/><ellipse cx="155.8" cy="325.3" rx="1.6" ry="1.25"/><ellipse cx="150.4" cy="324.7" rx="1.6" ry="1.25"/><ellipse cx="145.0" cy="327.4" rx="1.6" ry="1.25"/><ellipse cx="141.0" cy="325.3" rx="1.6" ry="1.25"/><ellipse cx="161.2" cy="329.4" rx="1.6" ry="1.25"/><ellipse cx="170.6" cy="330.7" rx="1.6" ry="1.25"/><ellipse cx="173.3" cy="330.1" rx="1.6" ry="1.25"/><ellipse cx="176.0" cy="329.4" rx="1.6" ry="1.25"/><ellipse cx="157.1" cy="330.7" rx="1.6" ry="1.25"/><ellipse cx="181.3" cy="325.3" rx="1.6" ry="1.25"/><ellipse cx="184.0" cy="324.7" rx="1.6" ry="1.25"/><ellipse cx="186.7" cy="325.3" rx="1.6" ry="1.25"/><ellipse cx="189.4" cy="326.7" rx="1.6" ry="1.25"/><ellipse cx="192.1" cy="326.0" rx="1.6" ry="1.25"/><ellipse cx="181.3" cy="328.0" rx="1.6" ry="1.25"/><ellipse cx="183.4" cy="329.4" rx="1.6" ry="1.25"/><ellipse cx="186.1" cy="330.1" rx="1.6" ry="1.25"/><ellipse cx="180.7" cy="331.4" rx="1.6" ry="1.25"/><ellipse cx="184.0" cy="333.4" rx="1.6" ry="1.25"/><ellipse cx="182.0" cy="336.1" rx="1.6" ry="1.25"/><ellipse cx="181.6" cy="338.1" rx="1.6" ry="1.25"/><ellipse cx="185.4" cy="326.7" rx="1.6" ry="1.25"/><ellipse cx="188.1" cy="324.7" rx="1.6" ry="1.25"/><ellipse cx="190.8" cy="327.4" rx="1.6" ry="1.25"/><ellipse cx="195.5" cy="330.1" rx="1.6" ry="1.25"/><ellipse cx="199.5" cy="329.7" rx="1.6" ry="1.25"/><ellipse cx="202.2" cy="330.5" rx="1.6" ry="1.25"/><ellipse cx="200.2" cy="334.1" rx="1.6" ry="1.25"/><ellipse cx="198.6" cy="335.8" rx="1.6" ry="1.25"/><ellipse cx="200.2" cy="340.4" rx="1.6" ry="1.25"/><ellipse cx="196.2" cy="342.8" rx="1.6" ry="1.25"/><ellipse cx="205.3" cy="338.1" rx="1.6" ry="1.25"/><ellipse cx="208.9" cy="327.4" rx="1.6" ry="1.25"/><ellipse cx="214.3" cy="327.0" rx="1.6" ry="1.25"/><ellipse cx="224.7" cy="327.0" rx="1.6" ry="1.25"/><ellipse cx="223.1" cy="336.1" rx="1.6" ry="1.25"/><ellipse cx="184.7" cy="332.1" rx="1.6" ry="1.25"/><ellipse cx="106.4" cy="272.3" rx="1.6" ry="1.25"/><ellipse cx="100.6" cy="273.4" rx="1.6" ry="1.25"/><ellipse cx="116.6" cy="272.2" rx="1.6" ry="1.25"/><ellipse cx="113.3" cy="272.3" rx="1.6" ry="1.25"/><ellipse cx="117.7" cy="275.4" rx="1.6" ry="1.25"/><ellipse cx="111.1" cy="271.4" rx="1.6" ry="1.25"/><ellipse cx="114.1" cy="275.5" rx="1.6" ry="1.25"/><ellipse cx="126.3" cy="271.3" rx="1.6" ry="1.25"/><ellipse cx="122.0" cy="276.8" rx="1.6" ry="1.25"/><ellipse cx="124.2" cy="273.0" rx="1.6" ry="1.25"/><ellipse cx="123.3" cy="279.1" rx="1.6" ry="1.25"/><ellipse cx="123.3" cy="275.6" rx="1.6" ry="1.25"/><ellipse cx="133.7" cy="274.2" rx="1.6" ry="1.25"/><ellipse cx="138.3" cy="279.5" rx="1.6" ry="1.25"/><ellipse cx="133.8" cy="272.3" rx="1.6" ry="1.25"/><ellipse cx="137.1" cy="272.3" rx="1.6" ry="1.25"/><ellipse cx="140.6" cy="278.6" rx="1.6" ry="1.25"/><ellipse cx="144.3" cy="277.9" rx="1.6" ry="1.25"/><ellipse cx="144.2" cy="278.4" rx="1.6" ry="1.25"/><ellipse cx="154.6" cy="272.0" rx="1.6" ry="1.25"/><ellipse cx="150.6" cy="275.5" rx="1.6" ry="1.25"/><ellipse cx="116.3" cy="288.7" rx="1.6" ry="1.25"/><ellipse cx="111.3" cy="286.1" rx="1.6" ry="1.25"/><ellipse cx="113.8" cy="285.0" rx="1.6" ry="1.25"/><ellipse cx="111.8" cy="283.0" rx="1.6" ry="1.25"/><ellipse cx="115.2" cy="288.8" rx="1.6" ry="1.25"/><ellipse cx="111.5" cy="284.9" rx="1.6" ry="1.25"/><ellipse cx="117.7" cy="289.2" rx="1.6" ry="1.25"/><ellipse cx="112.3" cy="281.6" rx="1.6" ry="1.25"/><ellipse cx="119.0" cy="289.3" rx="1.6" ry="1.25"/><ellipse cx="114.8" cy="281.0" rx="1.6" ry="1.25"/><ellipse cx="128.8" cy="284.0" rx="1.6" ry="1.25"/><ellipse cx="128.6" cy="286.1" rx="1.6" ry="1.25"/><ellipse cx="127.9" cy="281.9" rx="1.6" ry="1.25"/><ellipse cx="127.6" cy="282.5" rx="1.6" ry="1.25"/><ellipse cx="124.1" cy="288.1" rx="1.6" ry="1.25"/><ellipse cx="128.0" cy="282.1" rx="1.6" ry="1.25"/><ellipse cx="122.5" cy="284.1" rx="1.6" ry="1.25"/><ellipse cx="125.2" cy="284.0" rx="1.6" ry="1.25"/><ellipse cx="121.6" cy="282.7" rx="1.6" ry="1.25"/><ellipse cx="127.0" cy="288.6" rx="1.6" ry="1.25"/><ellipse cx="120.9" cy="285.6" rx="1.6" ry="1.25"/><ellipse cx="127.3" cy="280.8" rx="1.6" ry="1.25"/><ellipse cx="128.0" cy="281.6" rx="1.6" ry="1.25"/><ellipse cx="135.9" cy="285.5" rx="1.6" ry="1.25"/><ellipse cx="136.1" cy="283.3" rx="1.6" ry="1.25"/><ellipse cx="134.3" cy="285.7" rx="1.6" ry="1.25"/><ellipse cx="134.3" cy="286.4" rx="1.6" ry="1.25"/><ellipse cx="134.5" cy="284.4" rx="1.6" ry="1.25"/><ellipse cx="130.7" cy="286.1" rx="1.6" ry="1.25"/><ellipse cx="134.9" cy="282.6" rx="1.6" ry="1.25"/><ellipse cx="137.4" cy="287.5" rx="1.6" ry="1.25"/><ellipse cx="134.6" cy="282.1" rx="1.6" ry="1.25"/><ellipse cx="144.8" cy="281.5" rx="1.6" ry="1.25"/><ellipse cx="141.7" cy="284.4" rx="1.6" ry="1.25"/><ellipse cx="141.3" cy="284.5" rx="1.6" ry="1.25"/><ellipse cx="145.1" cy="280.9" rx="1.6" ry="1.25"/><ellipse cx="146.2" cy="281.2" rx="1.6" ry="1.25"/><ellipse cx="147.1" cy="287.5" rx="1.6" ry="1.25"/><ellipse cx="155.1" cy="281.0" rx="1.6" ry="1.25"/><ellipse cx="155.0" cy="283.9" rx="1.6" ry="1.25"/><ellipse cx="159.1" cy="281.7" rx="1.6" ry="1.25"/><ellipse cx="158.2" cy="289.5" rx="1.6" ry="1.25"/><ellipse cx="167.1" cy="287.8" rx="1.6" ry="1.25"/><ellipse cx="162.2" cy="289.3" rx="1.6" ry="1.25"/><ellipse cx="174.9" cy="289.1" rx="1.6" ry="1.25"/><ellipse cx="118.7" cy="292.0" rx="1.6" ry="1.25"/><ellipse cx="117.6" cy="298.9" rx="1.6" ry="1.25"/><ellipse cx="111.1" cy="293.7" rx="1.6" ry="1.25"/><ellipse cx="117.3" cy="291.9" rx="1.6" ry="1.25"/><ellipse cx="118.6" cy="293.0" rx="1.6" ry="1.25"/><ellipse cx="117.8" cy="291.8" rx="1.6" ry="1.25"/><ellipse cx="115.0" cy="298.8" rx="1.6" ry="1.25"/><ellipse cx="112.4" cy="292.9" rx="1.6" ry="1.25"/><ellipse cx="115.1" cy="293.4" rx="1.6" ry="1.25"/><ellipse cx="110.8" cy="292.1" rx="1.6" ry="1.25"/><ellipse cx="112.0" cy="298.9" rx="1.6" ry="1.25"/><ellipse cx="126.6" cy="298.6" rx="1.6" ry="1.25"/><ellipse cx="122.0" cy="297.6" rx="1.6" ry="1.25"/><ellipse cx="121.5" cy="295.3" rx="1.6" ry="1.25"/><ellipse cx="126.2" cy="293.7" rx="1.6" ry="1.25"/><ellipse cx="128.4" cy="295.5" rx="1.6" ry="1.25"/><ellipse cx="125.7" cy="298.4" rx="1.6" ry="1.25"/><ellipse cx="121.4" cy="299.4" rx="1.6" ry="1.25"/><ellipse cx="126.2" cy="294.0" rx="1.6" ry="1.25"/><ellipse cx="127.7" cy="292.9" rx="1.6" ry="1.25"/><ellipse cx="129.4" cy="295.7" rx="1.6" ry="1.25"/><ellipse cx="123.7" cy="297.4" rx="1.6" ry="1.25"/><ellipse cx="124.5" cy="292.1" rx="1.6" ry="1.25"/><ellipse cx="127.2" cy="290.9" rx="1.6" ry="1.25"/><ellipse cx="127.9" cy="292.8" rx="1.6" ry="1.25"/><ellipse cx="126.3" cy="299.4" rx="1.6" ry="1.25"/><ellipse cx="125.8" cy="296.5" rx="1.6" ry="1.25"/><ellipse cx="123.3" cy="290.5" rx="1.6" ry="1.25"/><ellipse cx="120.8" cy="291.8" rx="1.6" ry="1.25"/><ellipse cx="126.0" cy="294.4" rx="1.6" ry="1.25"/><ellipse cx="135.1" cy="298.6" rx="1.6" ry="1.25"/><ellipse cx="131.7" cy="292.5" rx="1.6" ry="1.25"/><ellipse cx="136.4" cy="290.7" rx="1.6" ry="1.25"/><ellipse cx="130.5" cy="293.7" rx="1.6" ry="1.25"/><ellipse cx="131.5" cy="293.7" rx="1.6" ry="1.25"/><ellipse cx="132.5" cy="295.8" rx="1.6" ry="1.25"/><ellipse cx="135.8" cy="292.3" rx="1.6" ry="1.25"/><ellipse cx="136.1" cy="294.8" rx="1.6" ry="1.25"/><ellipse cx="131.7" cy="298.9" rx="1.6" ry="1.25"/><ellipse cx="132.7" cy="291.8" rx="1.6" ry="1.25"/><ellipse cx="131.4" cy="296.2" rx="1.6" ry="1.25"/><ellipse cx="138.3" cy="297.5" rx="1.6" ry="1.25"/><ellipse cx="134.1" cy="292.9" rx="1.6" ry="1.25"/><ellipse cx="130.6" cy="296.3" rx="1.6" ry="1.25"/><ellipse cx="135.6" cy="293.7" rx="1.6" ry="1.25"/><ellipse cx="136.3" cy="294.5" rx="1.6" ry="1.25"/><ellipse cx="138.9" cy="297.1" rx="1.6" ry="1.25"/><ellipse cx="132.7" cy="298.6" rx="1.6" ry="1.25"/><ellipse cx="130.9" cy="295.3" rx="1.6" ry="1.25"/><ellipse cx="134.2" cy="292.6" rx="1.6" ry="1.25"/><ellipse cx="131.0" cy="297.5" rx="1.6" ry="1.25"/><ellipse cx="130.6" cy="295.5" rx="1.6" ry="1.25"/><ellipse cx="139.0" cy="291.8" rx="1.6" ry="1.25"/><ellipse cx="142.3" cy="296.0" rx="1.6" ry="1.25"/><ellipse cx="145.1" cy="296.3" rx="1.6" ry="1.25"/><ellipse cx="147.8" cy="292.1" rx="1.6" ry="1.25"/><ellipse cx="143.3" cy="293.2" rx="1.6" ry="1.25"/><ellipse cx="140.9" cy="298.5" rx="1.6" ry="1.25"/><ellipse cx="147.5" cy="296.9" rx="1.6" ry="1.25"/><ellipse cx="140.6" cy="298.1" rx="1.6" ry="1.25"/><ellipse cx="147.2" cy="294.7" rx="1.6" ry="1.25"/><ellipse cx="147.2" cy="294.6" rx="1.6" ry="1.25"/><ellipse cx="142.5" cy="291.4" rx="1.6" ry="1.25"/><ellipse cx="142.6" cy="290.8" rx="1.6" ry="1.25"/><ellipse cx="143.5" cy="297.2" rx="1.6" ry="1.25"/><ellipse cx="146.8" cy="298.1" rx="1.6" ry="1.25"/><ellipse cx="146.9" cy="292.9" rx="1.6" ry="1.25"/><ellipse cx="145.5" cy="294.4" rx="1.6" ry="1.25"/><ellipse cx="157.6" cy="295.2" rx="1.6" ry="1.25"/><ellipse cx="152.9" cy="296.3" rx="1.6" ry="1.25"/><ellipse cx="159.2" cy="292.5" rx="1.6" ry="1.25"/><ellipse cx="158.4" cy="290.6" rx="1.6" ry="1.25"/><ellipse cx="152.8" cy="292.6" rx="1.6" ry="1.25"/><ellipse cx="157.2" cy="299.0" rx="1.6" ry="1.25"/><ellipse cx="157.2" cy="293.4" rx="1.6" ry="1.25"/><ellipse cx="158.4" cy="293.5" rx="1.6" ry="1.25"/><ellipse cx="162.7" cy="298.7" rx="1.6" ry="1.25"/><ellipse cx="166.2" cy="296.7" rx="1.6" ry="1.25"/><ellipse cx="166.5" cy="299.3" rx="1.6" ry="1.25"/><ellipse cx="164.7" cy="298.1" rx="1.6" ry="1.25"/><ellipse cx="166.8" cy="298.2" rx="1.6" ry="1.25"/><ellipse cx="174.4" cy="297.0" rx="1.6" ry="1.25"/><ellipse cx="175.6" cy="293.3" rx="1.6" ry="1.25"/><ellipse cx="182.4" cy="296.1" rx="1.6" ry="1.25"/><ellipse cx="191.2" cy="298.7" rx="1.6" ry="1.25"/><ellipse cx="191.8" cy="290.7" rx="1.6" ry="1.25"/><ellipse cx="111.5" cy="308.9" rx="1.6" ry="1.25"/><ellipse cx="113.6" cy="301.8" rx="1.6" ry="1.25"/><ellipse cx="110.8" cy="300.9" rx="1.6" ry="1.25"/><ellipse cx="116.7" cy="306.2" rx="1.6" ry="1.25"/><ellipse cx="116.8" cy="307.1" rx="1.6" ry="1.25"/><ellipse cx="111.1" cy="305.8" rx="1.6" ry="1.25"/><ellipse cx="113.8" cy="307.9" rx="1.6" ry="1.25"/><ellipse cx="117.9" cy="308.5" rx="1.6" ry="1.25"/><ellipse cx="121.1" cy="308.3" rx="1.6" ry="1.25"/><ellipse cx="128.7" cy="309.0" rx="1.6" ry="1.25"/><ellipse cx="121.5" cy="302.4" rx="1.6" ry="1.25"/><ellipse cx="121.5" cy="300.8" rx="1.6" ry="1.25"/><ellipse cx="128.1" cy="307.8" rx="1.6" ry="1.25"/><ellipse cx="126.2" cy="307.9" rx="1.6" ry="1.25"/><ellipse cx="126.2" cy="303.1" rx="1.6" ry="1.25"/><ellipse cx="121.4" cy="301.4" rx="1.6" ry="1.25"/><ellipse cx="127.3" cy="302.3" rx="1.6" ry="1.25"/><ellipse cx="123.4" cy="304.3" rx="1.6" ry="1.25"/><ellipse cx="120.7" cy="302.8" rx="1.6" ry="1.25"/><ellipse cx="123.0" cy="306.9" rx="1.6" ry="1.25"/><ellipse cx="123.8" cy="303.4" rx="1.6" ry="1.25"/><ellipse cx="129.2" cy="305.0" rx="1.6" ry="1.25"/><ellipse cx="128.2" cy="306.1" rx="1.6" ry="1.25"/><ellipse cx="120.8" cy="304.2" rx="1.6" ry="1.25"/><ellipse cx="124.4" cy="307.5" rx="1.6" ry="1.25"/><ellipse cx="133.6" cy="306.8" rx="1.6" ry="1.25"/><ellipse cx="135.3" cy="302.4" rx="1.6" ry="1.25"/><ellipse cx="138.3" cy="301.3" rx="1.6" ry="1.25"/><ellipse cx="137.9" cy="302.0" rx="1.6" ry="1.25"/><ellipse cx="130.5" cy="302.3" rx="1.6" ry="1.25"/><ellipse cx="137.4" cy="309.3" rx="1.6" ry="1.25"/><ellipse cx="130.5" cy="304.9" rx="1.6" ry="1.25"/><ellipse cx="134.9" cy="307.7" rx="1.6" ry="1.25"/><ellipse cx="132.2" cy="305.0" rx="1.6" ry="1.25"/><ellipse cx="133.6" cy="308.0" rx="1.6" ry="1.25"/><ellipse cx="132.8" cy="309.0" rx="1.6" ry="1.25"/><ellipse cx="133.1" cy="302.4" rx="1.6" ry="1.25"/><ellipse cx="136.8" cy="305.0" rx="1.6" ry="1.25"/><ellipse cx="131.5" cy="306.2" rx="1.6" ry="1.25"/><ellipse cx="131.2" cy="307.6" rx="1.6" ry="1.25"/><ellipse cx="136.8" cy="307.6" rx="1.6" ry="1.25"/><ellipse cx="136.2" cy="303.7" rx="1.6" ry="1.25"/><ellipse cx="134.1" cy="304.1" rx="1.6" ry="1.25"/><ellipse cx="138.5" cy="301.3" rx="1.6" ry="1.25"/><ellipse cx="138.5" cy="300.7" rx="1.6" ry="1.25"/><ellipse cx="132.4" cy="302.9" rx="1.6" ry="1.25"/><ellipse cx="138.6" cy="305.0" rx="1.6" ry="1.25"/><ellipse cx="133.9" cy="308.5" rx="1.6" ry="1.25"/><ellipse cx="132.6" cy="304.6" rx="1.6" ry="1.25"/><ellipse cx="135.3" cy="307.3" rx="1.6" ry="1.25"/><ellipse cx="147.3" cy="306.3" rx="1.6" ry="1.25"/><ellipse cx="143.6" cy="303.4" rx="1.6" ry="1.25"/><ellipse cx="141.9" cy="308.1" rx="1.6" ry="1.25"/><ellipse cx="146.5" cy="307.2" rx="1.6" ry="1.25"/><ellipse cx="142.0" cy="304.4" rx="1.6" ry="1.25"/><ellipse cx="147.5" cy="305.7" rx="1.6" ry="1.25"/><ellipse cx="141.6" cy="304.7" rx="1.6" ry="1.25"/><ellipse cx="148.5" cy="302.6" rx="1.6" ry="1.25"/><ellipse cx="142.2" cy="303.2" rx="1.6" ry="1.25"/><ellipse cx="146.8" cy="308.1" rx="1.6" ry="1.25"/><ellipse cx="141.9" cy="301.9" rx="1.6" ry="1.25"/><ellipse cx="142.7" cy="303.4" rx="1.6" ry="1.25"/><ellipse cx="145.2" cy="301.9" rx="1.6" ry="1.25"/><ellipse cx="143.5" cy="302.2" rx="1.6" ry="1.25"/><ellipse cx="149.3" cy="307.1" rx="1.6" ry="1.25"/><ellipse cx="141.4" cy="309.2" rx="1.6" ry="1.25"/><ellipse cx="141.4" cy="304.0" rx="1.6" ry="1.25"/><ellipse cx="149.4" cy="307.7" rx="1.6" ry="1.25"/><ellipse cx="147.1" cy="304.4" rx="1.6" ry="1.25"/><ellipse cx="142.3" cy="306.2" rx="1.6" ry="1.25"/><ellipse cx="141.5" cy="302.4" rx="1.6" ry="1.25"/><ellipse cx="144.0" cy="300.8" rx="1.6" ry="1.25"/><ellipse cx="144.1" cy="307.6" rx="1.6" ry="1.25"/><ellipse cx="146.7" cy="305.0" rx="1.6" ry="1.25"/><ellipse cx="146.2" cy="304.7" rx="1.6" ry="1.25"/><ellipse cx="151.8" cy="305.9" rx="1.6" ry="1.25"/><ellipse cx="154.1" cy="307.2" rx="1.6" ry="1.25"/><ellipse cx="158.7" cy="304.4" rx="1.6" ry="1.25"/><ellipse cx="155.7" cy="307.2" rx="1.6" ry="1.25"/><ellipse cx="154.3" cy="302.6" rx="1.6" ry="1.25"/><ellipse cx="157.0" cy="308.4" rx="1.6" ry="1.25"/><ellipse cx="157.5" cy="306.8" rx="1.6" ry="1.25"/><ellipse cx="158.2" cy="306.6" rx="1.6" ry="1.25"/><ellipse cx="156.3" cy="304.6" rx="1.6" ry="1.25"/><ellipse cx="153.3" cy="306.2" rx="1.6" ry="1.25"/><ellipse cx="151.4" cy="304.3" rx="1.6" ry="1.25"/><ellipse cx="157.5" cy="306.9" rx="1.6" ry="1.25"/><ellipse cx="156.2" cy="302.8" rx="1.6" ry="1.25"/><ellipse cx="154.3" cy="304.6" rx="1.6" ry="1.25"/><ellipse cx="156.1" cy="304.2" rx="1.6" ry="1.25"/><ellipse cx="156.6" cy="308.9" rx="1.6" ry="1.25"/><ellipse cx="152.1" cy="306.4" rx="1.6" ry="1.25"/><ellipse cx="167.5" cy="304.0" rx="1.6" ry="1.25"/><ellipse cx="164.9" cy="309.3" rx="1.6" ry="1.25"/><ellipse cx="160.8" cy="305.4" rx="1.6" ry="1.25"/><ellipse cx="161.9" cy="307.5" rx="1.6" ry="1.25"/><ellipse cx="169.0" cy="305.2" rx="1.6" ry="1.25"/><ellipse cx="161.4" cy="305.7" rx="1.6" ry="1.25"/><ellipse cx="165.4" cy="307.0" rx="1.6" ry="1.25"/><ellipse cx="165.1" cy="306.3" rx="1.6" ry="1.25"/><ellipse cx="168.0" cy="305.2" rx="1.6" ry="1.25"/><ellipse cx="164.2" cy="309.0" rx="1.6" ry="1.25"/><ellipse cx="172.4" cy="306.7" rx="1.6" ry="1.25"/><ellipse cx="174.0" cy="307.4" rx="1.6" ry="1.25"/><ellipse cx="171.6" cy="309.4" rx="1.6" ry="1.25"/><ellipse cx="173.7" cy="301.0" rx="1.6" ry="1.25"/><ellipse cx="173.0" cy="304.1" rx="1.6" ry="1.25"/><ellipse cx="170.6" cy="304.3" rx="1.6" ry="1.25"/><ellipse cx="194.3" cy="306.8" rx="1.6" ry="1.25"/><ellipse cx="103.7" cy="312.9" rx="1.6" ry="1.25"/><ellipse cx="112.5" cy="317.2" rx="1.6" ry="1.25"/><ellipse cx="119.0" cy="315.2" rx="1.6" ry="1.25"/><ellipse cx="112.5" cy="317.7" rx="1.6" ry="1.25"/><ellipse cx="114.0" cy="312.4" rx="1.6" ry="1.25"/><ellipse cx="111.7" cy="317.5" rx="1.6" ry="1.25"/><ellipse cx="127.8" cy="316.2" rx="1.6" ry="1.25"/><ellipse cx="124.7" cy="315.6" rx="1.6" ry="1.25"/><ellipse cx="122.5" cy="319.2" rx="1.6" ry="1.25"/><ellipse cx="123.7" cy="316.2" rx="1.6" ry="1.25"/><ellipse cx="127.9" cy="317.8" rx="1.6" ry="1.25"/><ellipse cx="124.7" cy="313.1" rx="1.6" ry="1.25"/><ellipse cx="125.4" cy="311.6" rx="1.6" ry="1.25"/><ellipse cx="128.0" cy="313.7" rx="1.6" ry="1.25"/><ellipse cx="128.2" cy="312.9" rx="1.6" ry="1.25"/><ellipse cx="123.9" cy="312.8" rx="1.6" ry="1.25"/><ellipse cx="124.3" cy="312.2" rx="1.6" ry="1.25"/><ellipse cx="120.5" cy="317.0" rx="1.6" ry="1.25"/><ellipse cx="123.0" cy="312.7" rx="1.6" ry="1.25"/><ellipse cx="133.2" cy="314.8" rx="1.6" ry="1.25"/><ellipse cx="134.4" cy="316.2" rx="1.6" ry="1.25"/><ellipse cx="136.4" cy="313.8" rx="1.6" ry="1.25"/><ellipse cx="138.9" cy="318.2" rx="1.6" ry="1.25"/><ellipse cx="131.0" cy="318.0" rx="1.6" ry="1.25"/><ellipse cx="138.7" cy="317.6" rx="1.6" ry="1.25"/><ellipse cx="131.8" cy="318.0" rx="1.6" ry="1.25"/><ellipse cx="136.2" cy="310.6" rx="1.6" ry="1.25"/><ellipse cx="130.6" cy="319.1" rx="1.6" ry="1.25"/><ellipse cx="136.4" cy="312.8" rx="1.6" ry="1.25"/><ellipse cx="131.4" cy="311.8" rx="1.6" ry="1.25"/><ellipse cx="132.6" cy="317.5" rx="1.6" ry="1.25"/><ellipse cx="133.6" cy="311.9" rx="1.6" ry="1.25"/><ellipse cx="138.6" cy="317.6" rx="1.6" ry="1.25"/><ellipse cx="132.0" cy="318.5" rx="1.6" ry="1.25"/><ellipse cx="136.0" cy="317.5" rx="1.6" ry="1.25"/><ellipse cx="136.5" cy="318.5" rx="1.6" ry="1.25"/><ellipse cx="137.6" cy="318.0" rx="1.6" ry="1.25"/><ellipse cx="132.3" cy="316.7" rx="1.6" ry="1.25"/><ellipse cx="135.3" cy="317.2" rx="1.6" ry="1.25"/><ellipse cx="134.4" cy="318.4" rx="1.6" ry="1.25"/><ellipse cx="145.5" cy="312.9" rx="1.6" ry="1.25"/><ellipse cx="142.6" cy="311.8" rx="1.6" ry="1.25"/><ellipse cx="144.9" cy="311.0" rx="1.6" ry="1.25"/><ellipse cx="144.7" cy="311.8" rx="1.6" ry="1.25"/><ellipse cx="144.9" cy="315.0" rx="1.6" ry="1.25"/><ellipse cx="145.4" cy="318.3" rx="1.6" ry="1.25"/><ellipse cx="140.6" cy="318.1" rx="1.6" ry="1.25"/><ellipse cx="144.7" cy="315.6" rx="1.6" ry="1.25"/><ellipse cx="146.5" cy="318.1" rx="1.6" ry="1.25"/><ellipse cx="143.9" cy="314.3" rx="1.6" ry="1.25"/><ellipse cx="149.1" cy="311.2" rx="1.6" ry="1.25"/><ellipse cx="146.2" cy="316.2" rx="1.6" ry="1.25"/><ellipse cx="140.8" cy="316.0" rx="1.6" ry="1.25"/><ellipse cx="146.6" cy="318.9" rx="1.6" ry="1.25"/><ellipse cx="143.5" cy="319.3" rx="1.6" ry="1.25"/><ellipse cx="145.1" cy="314.9" rx="1.6" ry="1.25"/><ellipse cx="148.6" cy="310.8" rx="1.6" ry="1.25"/><ellipse cx="147.0" cy="316.1" rx="1.6" ry="1.25"/><ellipse cx="143.5" cy="318.3" rx="1.6" ry="1.25"/><ellipse cx="143.8" cy="314.8" rx="1.6" ry="1.25"/><ellipse cx="145.2" cy="317.4" rx="1.6" ry="1.25"/><ellipse cx="142.4" cy="314.4" rx="1.6" ry="1.25"/><ellipse cx="144.3" cy="315.5" rx="1.6" ry="1.25"/><ellipse cx="147.9" cy="313.1" rx="1.6" ry="1.25"/><ellipse cx="147.9" cy="314.1" rx="1.6" ry="1.25"/><ellipse cx="155.0" cy="312.9" rx="1.6" ry="1.25"/><ellipse cx="155.1" cy="319.3" rx="1.6" ry="1.25"/><ellipse cx="156.4" cy="317.6" rx="1.6" ry="1.25"/><ellipse cx="153.5" cy="313.4" rx="1.6" ry="1.25"/><ellipse cx="153.2" cy="315.8" rx="1.6" ry="1.25"/><ellipse cx="156.2" cy="317.6" rx="1.6" ry="1.25"/><ellipse cx="150.9" cy="317.0" rx="1.6" ry="1.25"/><ellipse cx="158.5" cy="315.4" rx="1.6" ry="1.25"/><ellipse cx="150.9" cy="313.2" rx="1.6" ry="1.25"/><ellipse cx="150.6" cy="312.2" rx="1.6" ry="1.25"/><ellipse cx="158.8" cy="316.0" rx="1.6" ry="1.25"/><ellipse cx="156.4" cy="317.6" rx="1.6" ry="1.25"/><ellipse cx="158.7" cy="316.0" rx="1.6" ry="1.25"/><ellipse cx="156.1" cy="316.1" rx="1.6" ry="1.25"/><ellipse cx="156.8" cy="315.9" rx="1.6" ry="1.25"/><ellipse cx="156.6" cy="312.4" rx="1.6" ry="1.25"/><ellipse cx="156.5" cy="314.6" rx="1.6" ry="1.25"/><ellipse cx="157.4" cy="311.4" rx="1.6" ry="1.25"/><ellipse cx="152.1" cy="310.8" rx="1.6" ry="1.25"/><ellipse cx="157.5" cy="318.7" rx="1.6" ry="1.25"/><ellipse cx="156.4" cy="313.8" rx="1.6" ry="1.25"/><ellipse cx="157.9" cy="317.6" rx="1.6" ry="1.25"/><ellipse cx="155.6" cy="312.8" rx="1.6" ry="1.25"/><ellipse cx="163.2" cy="314.3" rx="1.6" ry="1.25"/><ellipse cx="163.4" cy="314.4" rx="1.6" ry="1.25"/><ellipse cx="166.3" cy="318.9" rx="1.6" ry="1.25"/><ellipse cx="161.0" cy="315.6" rx="1.6" ry="1.25"/><ellipse cx="160.9" cy="311.6" rx="1.6" ry="1.25"/><ellipse cx="167.8" cy="315.7" rx="1.6" ry="1.25"/><ellipse cx="168.8" cy="314.5" rx="1.6" ry="1.25"/><ellipse cx="160.6" cy="314.0" rx="1.6" ry="1.25"/><ellipse cx="165.8" cy="318.9" rx="1.6" ry="1.25"/><ellipse cx="169.3" cy="314.8" rx="1.6" ry="1.25"/><ellipse cx="164.2" cy="311.4" rx="1.6" ry="1.25"/><ellipse cx="166.3" cy="312.4" rx="1.6" ry="1.25"/><ellipse cx="161.9" cy="310.6" rx="1.6" ry="1.25"/><ellipse cx="160.5" cy="316.7" rx="1.6" ry="1.25"/><ellipse cx="161.6" cy="319.2" rx="1.6" ry="1.25"/><ellipse cx="161.3" cy="318.3" rx="1.6" ry="1.25"/><ellipse cx="161.7" cy="310.7" rx="1.6" ry="1.25"/><ellipse cx="177.0" cy="312.7" rx="1.6" ry="1.25"/><ellipse cx="177.1" cy="312.2" rx="1.6" ry="1.25"/><ellipse cx="171.0" cy="317.5" rx="1.6" ry="1.25"/><ellipse cx="176.9" cy="318.2" rx="1.6" ry="1.25"/><ellipse cx="177.1" cy="311.3" rx="1.6" ry="1.25"/><ellipse cx="176.2" cy="316.9" rx="1.6" ry="1.25"/><ellipse cx="174.6" cy="318.9" rx="1.6" ry="1.25"/><ellipse cx="172.8" cy="319.2" rx="1.6" ry="1.25"/><ellipse cx="177.0" cy="310.6" rx="1.6" ry="1.25"/><ellipse cx="170.6" cy="316.4" rx="1.6" ry="1.25"/><ellipse cx="177.9" cy="311.2" rx="1.6" ry="1.25"/><ellipse cx="173.3" cy="317.1" rx="1.6" ry="1.25"/><ellipse cx="172.0" cy="318.2" rx="1.6" ry="1.25"/><ellipse cx="194.9" cy="311.0" rx="1.6" ry="1.25"/><ellipse cx="113.8" cy="325.7" rx="1.6" ry="1.25"/><ellipse cx="114.4" cy="326.6" rx="1.6" ry="1.25"/><ellipse cx="121.8" cy="327.7" rx="1.6" ry="1.25"/><ellipse cx="123.8" cy="326.3" rx="1.6" ry="1.25"/><ellipse cx="126.2" cy="324.3" rx="1.6" ry="1.25"/><ellipse cx="124.0" cy="327.6" rx="1.6" ry="1.25"/><ellipse cx="129.0" cy="327.6" rx="1.6" ry="1.25"/><ellipse cx="125.6" cy="323.1" rx="1.6" ry="1.25"/><ellipse cx="121.0" cy="329.3" rx="1.6" ry="1.25"/><ellipse cx="126.8" cy="327.9" rx="1.6" ry="1.25"/><ellipse cx="123.5" cy="326.0" rx="1.6" ry="1.25"/><ellipse cx="139.3" cy="328.0" rx="1.6" ry="1.25"/><ellipse cx="135.9" cy="323.3" rx="1.6" ry="1.25"/><ellipse cx="134.4" cy="328.5" rx="1.6" ry="1.25"/><ellipse cx="133.9" cy="326.7" rx="1.6" ry="1.25"/><ellipse cx="135.9" cy="328.6" rx="1.6" ry="1.25"/><ellipse cx="137.8" cy="323.0" rx="1.6" ry="1.25"/><ellipse cx="130.5" cy="322.9" rx="1.6" ry="1.25"/><ellipse cx="134.3" cy="325.8" rx="1.6" ry="1.25"/><ellipse cx="137.8" cy="328.5" rx="1.6" ry="1.25"/><ellipse cx="140.9" cy="328.0" rx="1.6" ry="1.25"/><ellipse cx="147.8" cy="328.3" rx="1.6" ry="1.25"/><ellipse cx="145.6" cy="323.0" rx="1.6" ry="1.25"/><ellipse cx="148.2" cy="327.8" rx="1.6" ry="1.25"/><ellipse cx="146.7" cy="328.7" rx="1.6" ry="1.25"/><ellipse cx="143.6" cy="321.3" rx="1.6" ry="1.25"/><ellipse cx="145.5" cy="327.7" rx="1.6" ry="1.25"/><ellipse cx="142.3" cy="327.3" rx="1.6" ry="1.25"/><ellipse cx="148.9" cy="322.6" rx="1.6" ry="1.25"/><ellipse cx="146.0" cy="326.6" rx="1.6" ry="1.25"/><ellipse cx="154.7" cy="322.4" rx="1.6" ry="1.25"/><ellipse cx="152.8" cy="327.3" rx="1.6" ry="1.25"/><ellipse cx="157.6" cy="324.6" rx="1.6" ry="1.25"/><ellipse cx="151.3" cy="327.8" rx="1.6" ry="1.25"/><ellipse cx="157.4" cy="322.6" rx="1.6" ry="1.25"/><ellipse cx="155.7" cy="328.6" rx="1.6" ry="1.25"/><ellipse cx="158.5" cy="325.2" rx="1.6" ry="1.25"/><ellipse cx="154.8" cy="325.8" rx="1.6" ry="1.25"/><ellipse cx="152.2" cy="322.2" rx="1.6" ry="1.25"/><ellipse cx="152.1" cy="326.8" rx="1.6" ry="1.25"/><ellipse cx="153.8" cy="325.6" rx="1.6" ry="1.25"/><ellipse cx="164.1" cy="325.2" rx="1.6" ry="1.25"/><ellipse cx="161.8" cy="320.9" rx="1.6" ry="1.25"/><ellipse cx="169.5" cy="323.9" rx="1.6" ry="1.25"/><ellipse cx="161.5" cy="326.2" rx="1.6" ry="1.25"/><ellipse cx="167.6" cy="321.9" rx="1.6" ry="1.25"/><ellipse cx="165.9" cy="323.6" rx="1.6" ry="1.25"/><ellipse cx="165.2" cy="320.7" rx="1.6" ry="1.25"/><ellipse cx="160.8" cy="329.4" rx="1.6" ry="1.25"/><ellipse cx="168.3" cy="324.9" rx="1.6" ry="1.25"/><ellipse cx="165.6" cy="322.9" rx="1.6" ry="1.25"/><ellipse cx="167.5" cy="324.3" rx="1.6" ry="1.25"/><ellipse cx="169.0" cy="327.4" rx="1.6" ry="1.25"/><ellipse cx="177.9" cy="329.2" rx="1.6" ry="1.25"/><ellipse cx="172.8" cy="320.8" rx="1.6" ry="1.25"/><ellipse cx="172.3" cy="322.1" rx="1.6" ry="1.25"/><ellipse cx="171.3" cy="321.0" rx="1.6" ry="1.25"/><ellipse cx="175.5" cy="328.3" rx="1.6" ry="1.25"/><ellipse cx="174.6" cy="329.0" rx="1.6" ry="1.25"/><ellipse cx="178.7" cy="321.1" rx="1.6" ry="1.25"/><ellipse cx="175.9" cy="324.1" rx="1.6" ry="1.25"/><ellipse cx="171.6" cy="329.1" rx="1.6" ry="1.25"/><ellipse cx="192.8" cy="325.6" rx="1.6" ry="1.25"/><ellipse cx="196.3" cy="329.1" rx="1.6" ry="1.25"/><ellipse cx="116.5" cy="334.0" rx="1.6" ry="1.25"/><ellipse cx="124.5" cy="331.9" rx="1.6" ry="1.25"/><ellipse cx="129.2" cy="339.4" rx="1.6" ry="1.25"/><ellipse cx="122.5" cy="330.8" rx="1.6" ry="1.25"/><ellipse cx="132.8" cy="333.7" rx="1.6" ry="1.25"/><ellipse cx="138.6" cy="338.6" rx="1.6" ry="1.25"/><ellipse cx="138.0" cy="330.9" rx="1.6" ry="1.25"/><ellipse cx="147.6" cy="336.9" rx="1.6" ry="1.25"/><ellipse cx="146.3" cy="339.4" rx="1.6" ry="1.25"/><ellipse cx="141.0" cy="331.8" rx="1.6" ry="1.25"/><ellipse cx="147.3" cy="339.0" rx="1.6" ry="1.25"/><ellipse cx="146.6" cy="333.2" rx="1.6" ry="1.25"/><ellipse cx="145.8" cy="337.3" rx="1.6" ry="1.25"/><ellipse cx="141.4" cy="333.4" rx="1.6" ry="1.25"/><ellipse cx="152.8" cy="331.6" rx="1.6" ry="1.25"/><ellipse cx="154.8" cy="332.0" rx="1.6" ry="1.25"/><ellipse cx="152.6" cy="331.8" rx="1.6" ry="1.25"/><ellipse cx="156.6" cy="330.6" rx="1.6" ry="1.25"/><ellipse cx="157.0" cy="332.3" rx="1.6" ry="1.25"/><ellipse cx="160.8" cy="338.8" rx="1.6" ry="1.25"/><ellipse cx="162.5" cy="338.9" rx="1.6" ry="1.25"/><ellipse cx="168.3" cy="338.5" rx="1.6" ry="1.25"/><ellipse cx="161.8" cy="334.5" rx="1.6" ry="1.25"/><ellipse cx="171.4" cy="338.9" rx="1.6" ry="1.25"/><ellipse cx="178.1" cy="336.2" rx="1.6" ry="1.25"/><ellipse cx="194.6" cy="333.6" rx="1.6" ry="1.25"/><ellipse cx="197.9" cy="334.8" rx="1.6" ry="1.25"/><ellipse cx="196.2" cy="331.8" rx="1.6" ry="1.25"/></g><g fill="none" stroke="#161616" stroke-width="1.05"><ellipse cx="376.3" cy="243.8" rx="1.6" ry="1.25"/><ellipse cx="371.3" cy="256.6" rx="1.6" ry="1.25"/><ellipse cx="384.8" cy="257.3" rx="1.6" ry="1.25"/><ellipse cx="390.9" cy="258.7" rx="1.6" ry="1.25"/><ellipse cx="401.0" cy="255.7" rx="1.6" ry="1.25"/><ellipse cx="402.0" cy="260.7" rx="1.6" ry="1.25"/><ellipse cx="342.4" cy="267.8" rx="1.6" ry="1.25"/><ellipse cx="366.6" cy="261.3" rx="1.6" ry="1.25"/><ellipse cx="374.0" cy="261.6" rx="1.6" ry="1.25"/><ellipse cx="379.4" cy="261.3" rx="1.6" ry="1.25"/><ellipse cx="383.5" cy="262.4" rx="1.6" ry="1.25"/><ellipse cx="389.5" cy="262.0" rx="1.6" ry="1.25"/><ellipse cx="365.3" cy="264.7" rx="1.6" ry="1.25"/><ellipse cx="369.3" cy="265.4" rx="1.6" ry="1.25"/><ellipse cx="372.7" cy="265.4" rx="1.6" ry="1.25"/><ellipse cx="379.4" cy="264.7" rx="1.6" ry="1.25"/><ellipse cx="386.2" cy="265.4" rx="1.6" ry="1.25"/><ellipse cx="391.5" cy="264.7" rx="1.6" ry="1.25"/><ellipse cx="396.9" cy="265.4" rx="1.6" ry="1.25"/><ellipse cx="401.0" cy="265.4" rx="1.6" ry="1.25"/><ellipse cx="404.3" cy="264.0" rx="1.6" ry="1.25"/><ellipse cx="359.2" cy="266.1" rx="1.6" ry="1.25"/><ellipse cx="361.9" cy="267.4" rx="1.6" ry="1.25"/><ellipse cx="367.3" cy="268.1" rx="1.6" ry="1.25"/><ellipse cx="371.3" cy="268.7" rx="1.6" ry="1.25"/><ellipse cx="375.4" cy="269.4" rx="1.6" ry="1.25"/><ellipse cx="382.1" cy="268.1" rx="1.6" ry="1.25"/><ellipse cx="386.2" cy="269.4" rx="1.6" ry="1.25"/><ellipse cx="390.2" cy="268.1" rx="1.6" ry="1.25"/><ellipse cx="394.2" cy="268.7" rx="1.6" ry="1.25"/><ellipse cx="398.3" cy="268.1" rx="1.6" ry="1.25"/><ellipse cx="402.3" cy="267.4" rx="1.6" ry="1.25"/><ellipse cx="341.7" cy="272.1" rx="1.6" ry="1.25"/><ellipse cx="346.4" cy="271.4" rx="1.6" ry="1.25"/><ellipse cx="349.8" cy="270.1" rx="1.6" ry="1.25"/><ellipse cx="353.8" cy="271.4" rx="1.6" ry="1.25"/><ellipse cx="356.5" cy="270.8" rx="1.6" ry="1.25"/><ellipse cx="360.6" cy="272.1" rx="1.6" ry="1.25"/><ellipse cx="364.6" cy="271.4" rx="1.6" ry="1.25"/><ellipse cx="368.7" cy="272.8" rx="1.6" ry="1.25"/><ellipse cx="372.7" cy="272.1" rx="1.6" ry="1.25"/><ellipse cx="376.7" cy="273.5" rx="1.6" ry="1.25"/><ellipse cx="380.8" cy="271.4" rx="1.6" ry="1.25"/><ellipse cx="384.8" cy="272.8" rx="1.6" ry="1.25"/><ellipse cx="388.8" cy="272.1" rx="1.6" ry="1.25"/><ellipse cx="392.9" cy="271.4" rx="1.6" ry="1.25"/><ellipse cx="396.9" cy="272.8" rx="1.6" ry="1.25"/><ellipse cx="401.0" cy="271.4" rx="1.6" ry="1.25"/><ellipse cx="404.3" cy="270.8" rx="1.6" ry="1.25"/><ellipse cx="336.3" cy="274.8" rx="1.6" ry="1.25"/><ellipse cx="340.4" cy="276.2" rx="1.6" ry="1.25"/><ellipse cx="344.4" cy="275.5" rx="1.6" ry="1.25"/><ellipse cx="348.5" cy="276.2" rx="1.6" ry="1.25"/><ellipse cx="352.5" cy="274.8" rx="1.6" ry="1.25"/><ellipse cx="356.5" cy="275.5" rx="1.6" ry="1.25"/><ellipse cx="360.6" cy="276.8" rx="1.6" ry="1.25"/><ellipse cx="364.6" cy="275.5" rx="1.6" ry="1.25"/><ellipse cx="368.7" cy="276.2" rx="1.6" ry="1.25"/><ellipse cx="372.7" cy="276.8" rx="1.6" ry="1.25"/><ellipse cx="378.1" cy="275.5" rx="1.6" ry="1.25"/><ellipse cx="382.1" cy="276.2" rx="1.6" ry="1.25"/><ellipse cx="386.2" cy="275.1" rx="1.6" ry="1.25"/><ellipse cx="390.2" cy="276.8" rx="1.6" ry="1.25"/><ellipse cx="394.2" cy="275.5" rx="1.6" ry="1.25"/><ellipse cx="398.3" cy="276.2" rx="1.6" ry="1.25"/><ellipse cx="402.3" cy="275.1" rx="1.6" ry="1.25"/><ellipse cx="388.8" cy="274.1" rx="1.6" ry="1.25"/><ellipse cx="392.9" cy="274.1" rx="1.6" ry="1.25"/><ellipse cx="386.2" cy="272.1" rx="1.6" ry="1.25"/><ellipse cx="396.2" cy="276.8" rx="1.6" ry="1.25"/><ellipse cx="400.3" cy="273.5" rx="1.6" ry="1.25"/><ellipse cx="403.7" cy="276.8" rx="1.6" ry="1.25"/><ellipse cx="384.1" cy="277.5" rx="1.6" ry="1.25"/><ellipse cx="423.6" cy="258.7" rx="1.6" ry="1.25"/><ellipse cx="453.5" cy="262.0" rx="1.6" ry="1.25"/><ellipse cx="416.8" cy="264.3" rx="1.6" ry="1.25"/><ellipse cx="413.3" cy="266.1" rx="1.6" ry="1.25"/><ellipse cx="425.5" cy="267.4" rx="1.6" ry="1.25"/><ellipse cx="430.3" cy="266.5" rx="1.6" ry="1.25"/><ellipse cx="454.8" cy="269.4" rx="1.6" ry="1.25"/><ellipse cx="406.3" cy="268.1" rx="1.6" ry="1.25"/><ellipse cx="409.0" cy="269.4" rx="1.6" ry="1.25"/><ellipse cx="412.4" cy="268.7" rx="1.6" ry="1.25"/><ellipse cx="415.8" cy="268.1" rx="1.6" ry="1.25"/><ellipse cx="419.1" cy="271.4" rx="1.6" ry="1.25"/><ellipse cx="421.8" cy="270.8" rx="1.6" ry="1.25"/><ellipse cx="426.5" cy="270.8" rx="1.6" ry="1.25"/><ellipse cx="429.2" cy="271.4" rx="1.6" ry="1.25"/><ellipse cx="435.3" cy="271.8" rx="1.6" ry="1.25"/><ellipse cx="440.0" cy="271.4" rx="1.6" ry="1.25"/><ellipse cx="441.3" cy="272.8" rx="1.6" ry="1.25"/><ellipse cx="407.0" cy="272.1" rx="1.6" ry="1.25"/><ellipse cx="410.4" cy="272.8" rx="1.6" ry="1.25"/><ellipse cx="413.7" cy="273.5" rx="1.6" ry="1.25"/><ellipse cx="417.1" cy="274.8" rx="1.6" ry="1.25"/><ellipse cx="421.2" cy="274.1" rx="1.6" ry="1.25"/><ellipse cx="424.5" cy="275.1" rx="1.6" ry="1.25"/><ellipse cx="427.9" cy="273.5" rx="1.6" ry="1.25"/><ellipse cx="431.9" cy="274.8" rx="1.6" ry="1.25"/><ellipse cx="436.6" cy="275.9" rx="1.6" ry="1.25"/><ellipse cx="440.7" cy="275.5" rx="1.6" ry="1.25"/><ellipse cx="445.4" cy="274.5" rx="1.6" ry="1.25"/><ellipse cx="449.4" cy="275.5" rx="1.6" ry="1.25"/><ellipse cx="455.5" cy="275.1" rx="1.6" ry="1.25"/><ellipse cx="458.2" cy="275.1" rx="1.6" ry="1.25"/><ellipse cx="406.3" cy="276.8" rx="1.6" ry="1.25"/><ellipse cx="410.4" cy="276.8" rx="1.6" ry="1.25"/><ellipse cx="414.4" cy="277.2" rx="1.6" ry="1.25"/><ellipse cx="419.8" cy="277.2" rx="1.6" ry="1.25"/><ellipse cx="425.2" cy="277.2" rx="1.6" ry="1.25"/><ellipse cx="430.6" cy="276.8" rx="1.6" ry="1.25"/><ellipse cx="348.5" cy="279.3" rx="1.6" ry="1.25"/><ellipse cx="351.2" cy="280.7" rx="1.6" ry="1.25"/><ellipse cx="353.8" cy="280.0" rx="1.6" ry="1.25"/><ellipse cx="355.2" cy="281.4" rx="1.6" ry="1.25"/><ellipse cx="347.8" cy="284.1" rx="1.6" ry="1.25"/><ellipse cx="348.5" cy="288.1" rx="1.6" ry="1.25"/><ellipse cx="357.2" cy="285.4" rx="1.6" ry="1.25"/><ellipse cx="353.2" cy="291.5" rx="1.6" ry="1.25"/><ellipse cx="347.1" cy="295.2" rx="1.6" ry="1.25"/><ellipse cx="349.5" cy="294.2" rx="1.6" ry="1.25"/><ellipse cx="368.7" cy="288.8" rx="1.6" ry="1.25"/><ellipse cx="371.3" cy="295.5" rx="1.6" ry="1.25"/><ellipse cx="373.4" cy="292.1" rx="1.6" ry="1.25"/><ellipse cx="376.7" cy="290.8" rx="1.6" ry="1.25"/><ellipse cx="377.4" cy="292.8" rx="1.6" ry="1.25"/><ellipse cx="378.1" cy="295.5" rx="1.6" ry="1.25"/><ellipse cx="381.4" cy="291.5" rx="1.6" ry="1.25"/><ellipse cx="384.8" cy="302.2" rx="1.6" ry="1.25"/><ellipse cx="382.1" cy="307.6" rx="1.6" ry="1.25"/><ellipse cx="384.1" cy="315.7" rx="1.6" ry="1.25"/><ellipse cx="378.1" cy="323.8" rx="1.6" ry="1.25"/><ellipse cx="379.4" cy="325.8" rx="1.6" ry="1.25"/><ellipse cx="394.0" cy="310.0" rx="1.6" ry="1.25"/><ellipse cx="401.0" cy="322.7" rx="1.6" ry="1.25"/><ellipse cx="403.7" cy="307.6" rx="1.6" ry="1.25"/><ellipse cx="396.9" cy="305.6" rx="1.6" ry="1.25"/><ellipse cx="397.6" cy="303.6" rx="1.6" ry="1.25"/><ellipse cx="388.8" cy="299.5" rx="1.6" ry="1.25"/><ellipse cx="391.5" cy="300.2" rx="1.6" ry="1.25"/><ellipse cx="393.6" cy="298.9" rx="1.6" ry="1.25"/><ellipse cx="396.2" cy="297.5" rx="1.6" ry="1.25"/><ellipse cx="398.3" cy="300.9" rx="1.6" ry="1.25"/><ellipse cx="401.0" cy="299.5" rx="1.6" ry="1.25"/><ellipse cx="403.7" cy="298.2" rx="1.6" ry="1.25"/><ellipse cx="386.2" cy="295.5" rx="1.6" ry="1.25"/><ellipse cx="388.8" cy="294.8" rx="1.6" ry="1.25"/><ellipse cx="391.5" cy="292.8" rx="1.6" ry="1.25"/><ellipse cx="395.6" cy="294.2" rx="1.6" ry="1.25"/><ellipse cx="399.6" cy="292.8" rx="1.6" ry="1.25"/><ellipse cx="402.3" cy="290.8" rx="1.6" ry="1.25"/><ellipse cx="406.3" cy="300.9" rx="1.6" ry="1.25"/><ellipse cx="411.1" cy="305.6" rx="1.6" ry="1.25"/><ellipse cx="415.1" cy="302.9" rx="1.6" ry="1.25"/><ellipse cx="420.5" cy="306.3" rx="1.6" ry="1.25"/><ellipse cx="427.2" cy="304.9" rx="1.6" ry="1.25"/><ellipse cx="426.5" cy="308.3" rx="1.6" ry="1.25"/><ellipse cx="425.2" cy="311.0" rx="1.6" ry="1.25"/><ellipse cx="419.8" cy="312.7" rx="1.6" ry="1.25"/><ellipse cx="422.5" cy="312.7" rx="1.6" ry="1.25"/><ellipse cx="411.7" cy="318.4" rx="1.6" ry="1.25"/><ellipse cx="425.9" cy="321.1" rx="1.6" ry="1.25"/><ellipse cx="413.1" cy="325.1" rx="1.6" ry="1.25"/><ellipse cx="416.4" cy="325.1" rx="1.6" ry="1.25"/><ellipse cx="437.3" cy="304.2" rx="1.6" ry="1.25"/><ellipse cx="443.4" cy="304.9" rx="1.6" ry="1.25"/><ellipse cx="445.4" cy="307.6" rx="1.6" ry="1.25"/><ellipse cx="450.8" cy="305.6" rx="1.6" ry="1.25"/><ellipse cx="449.4" cy="313.7" rx="1.6" ry="1.25"/><ellipse cx="449.4" cy="314.6" rx="1.6" ry="1.25"/><ellipse cx="457.5" cy="317.0" rx="1.6" ry="1.25"/><ellipse cx="462.9" cy="323.8" rx="1.6" ry="1.25"/><ellipse cx="454.8" cy="327.8" rx="1.6" ry="1.25"/><ellipse cx="461.5" cy="301.6" rx="1.6" ry="1.25"/><ellipse cx="466.2" cy="299.3" rx="1.6" ry="1.25"/><ellipse cx="466.9" cy="282.0" rx="1.6" ry="1.25"/><ellipse cx="473.0" cy="296.8" rx="1.6" ry="1.25"/><ellipse cx="458.8" cy="296.2" rx="1.6" ry="1.25"/><ellipse cx="454.8" cy="299.5" rx="1.6" ry="1.25"/><ellipse cx="452.1" cy="298.2" rx="1.6" ry="1.25"/><ellipse cx="436.0" cy="300.2" rx="1.6" ry="1.25"/><ellipse cx="441.3" cy="299.5" rx="1.6" ry="1.25"/><ellipse cx="431.9" cy="300.9" rx="1.6" ry="1.25"/><ellipse cx="466.8" cy="281.6" rx="1.6" ry="1.25"/><ellipse cx="476.1" cy="286.1" rx="1.6" ry="1.25"/><ellipse cx="477.2" cy="288.1" rx="1.6" ry="1.25"/><ellipse cx="481.6" cy="292.0" rx="1.6" ry="1.25"/><ellipse cx="473.2" cy="294.5" rx="1.6" ry="1.25"/><ellipse cx="472.4" cy="296.8" rx="1.6" ry="1.25"/><ellipse cx="466.5" cy="299.7" rx="1.6" ry="1.25"/><ellipse cx="491.0" cy="292.6" rx="1.6" ry="1.25"/><ellipse cx="492.5" cy="298.5" rx="1.6" ry="1.25"/><ellipse cx="396.9" cy="354.3" rx="1.6" ry="1.25"/><ellipse cx="370.6" cy="279.9" rx="1.6" ry="1.25"/><ellipse cx="374.2" cy="279.4" rx="1.6" ry="1.25"/><ellipse cx="372.9" cy="281.2" rx="1.6" ry="1.25"/><ellipse cx="367.6" cy="282.0" rx="1.6" ry="1.25"/><ellipse cx="367.4" cy="281.6" rx="1.6" ry="1.25"/><ellipse cx="367.8" cy="279.5" rx="1.6" ry="1.25"/><ellipse cx="371.7" cy="284.0" rx="1.6" ry="1.25"/><ellipse cx="368.4" cy="280.3" rx="1.6" ry="1.25"/><ellipse cx="373.9" cy="284.7" rx="1.6" ry="1.25"/><ellipse cx="373.3" cy="281.4" rx="1.6" ry="1.25"/><ellipse cx="377.7" cy="279.3" rx="1.6" ry="1.25"/><ellipse cx="376.4" cy="280.7" rx="1.6" ry="1.25"/><ellipse cx="368.6" cy="279.7" rx="1.6" ry="1.25"/><ellipse cx="370.4" cy="283.9" rx="1.6" ry="1.25"/><ellipse cx="382.0" cy="282.5" rx="1.6" ry="1.25"/><ellipse cx="387.0" cy="281.2" rx="1.6" ry="1.25"/><ellipse cx="386.0" cy="279.4" rx="1.6" ry="1.25"/><ellipse cx="380.7" cy="280.2" rx="1.6" ry="1.25"/><ellipse cx="387.5" cy="281.6" rx="1.6" ry="1.25"/><ellipse cx="383.5" cy="282.5" rx="1.6" ry="1.25"/><ellipse cx="385.0" cy="280.8" rx="1.6" ry="1.25"/><ellipse cx="388.7" cy="283.2" rx="1.6" ry="1.25"/><ellipse cx="382.7" cy="282.4" rx="1.6" ry="1.25"/><ellipse cx="385.8" cy="284.3" rx="1.6" ry="1.25"/><ellipse cx="388.0" cy="280.7" rx="1.6" ry="1.25"/><ellipse cx="390.8" cy="279.7" rx="1.6" ry="1.25"/><ellipse cx="384.6" cy="283.5" rx="1.6" ry="1.25"/><ellipse cx="381.7" cy="281.9" rx="1.6" ry="1.25"/><ellipse cx="380.4" cy="283.0" rx="1.6" ry="1.25"/><ellipse cx="388.4" cy="282.4" rx="1.6" ry="1.25"/><ellipse cx="402.6" cy="280.9" rx="1.6" ry="1.25"/><ellipse cx="400.6" cy="282.6" rx="1.6" ry="1.25"/><ellipse cx="399.4" cy="281.7" rx="1.6" ry="1.25"/><ellipse cx="402.2" cy="284.7" rx="1.6" ry="1.25"/><ellipse cx="398.2" cy="283.0" rx="1.6" ry="1.25"/><ellipse cx="393.7" cy="283.2" rx="1.6" ry="1.25"/><ellipse cx="400.1" cy="285.0" rx="1.6" ry="1.25"/><ellipse cx="402.0" cy="280.7" rx="1.6" ry="1.25"/><ellipse cx="397.2" cy="283.0" rx="1.6" ry="1.25"/><ellipse cx="393.2" cy="281.8" rx="1.6" ry="1.25"/><ellipse cx="394.8" cy="279.7" rx="1.6" ry="1.25"/><ellipse cx="393.6" cy="283.6" rx="1.6" ry="1.25"/><ellipse cx="394.4" cy="280.5" rx="1.6" ry="1.25"/><ellipse cx="397.3" cy="284.2" rx="1.6" ry="1.25"/><ellipse cx="393.9" cy="281.7" rx="1.6" ry="1.25"/><ellipse cx="399.0" cy="284.3" rx="1.6" ry="1.25"/><ellipse cx="376.0" cy="292.2" rx="1.6" ry="1.25"/><ellipse cx="370.1" cy="289.5" rx="1.6" ry="1.25"/><ellipse cx="370.9" cy="292.3" rx="1.6" ry="1.25"/><ellipse cx="377.5" cy="287.9" rx="1.6" ry="1.25"/><ellipse cx="368.9" cy="288.4" rx="1.6" ry="1.25"/><ellipse cx="369.6" cy="289.9" rx="1.6" ry="1.25"/><ellipse cx="373.5" cy="288.6" rx="1.6" ry="1.25"/><ellipse cx="367.0" cy="289.5" rx="1.6" ry="1.25"/><ellipse cx="384.1" cy="290.4" rx="1.6" ry="1.25"/><ellipse cx="390.5" cy="291.1" rx="1.6" ry="1.25"/><ellipse cx="385.7" cy="290.7" rx="1.6" ry="1.25"/><ellipse cx="387.4" cy="287.3" rx="1.6" ry="1.25"/><ellipse cx="389.9" cy="291.7" rx="1.6" ry="1.25"/><ellipse cx="389.6" cy="291.8" rx="1.6" ry="1.25"/><ellipse cx="384.3" cy="289.4" rx="1.6" ry="1.25"/><ellipse cx="381.1" cy="290.8" rx="1.6" ry="1.25"/><ellipse cx="380.7" cy="287.4" rx="1.6" ry="1.25"/><ellipse cx="382.3" cy="288.0" rx="1.6" ry="1.25"/><ellipse cx="383.7" cy="287.3" rx="1.6" ry="1.25"/><ellipse cx="380.0" cy="287.9" rx="1.6" ry="1.25"/><ellipse cx="394.1" cy="289.2" rx="1.6" ry="1.25"/><ellipse cx="393.3" cy="292.2" rx="1.6" ry="1.25"/><ellipse cx="399.8" cy="287.9" rx="1.6" ry="1.25"/><ellipse cx="395.8" cy="289.1" rx="1.6" ry="1.25"/><ellipse cx="397.0" cy="287.7" rx="1.6" ry="1.25"/><ellipse cx="402.3" cy="293.0" rx="1.6" ry="1.25"/><ellipse cx="398.1" cy="289.9" rx="1.6" ry="1.25"/><ellipse cx="393.9" cy="287.6" rx="1.6" ry="1.25"/><ellipse cx="396.8" cy="288.6" rx="1.6" ry="1.25"/><ellipse cx="402.1" cy="288.0" rx="1.6" ry="1.25"/><ellipse cx="393.3" cy="292.7" rx="1.6" ry="1.25"/><ellipse cx="398.8" cy="287.9" rx="1.6" ry="1.25"/><ellipse cx="399.0" cy="287.2" rx="1.6" ry="1.25"/><ellipse cx="398.8" cy="292.9" rx="1.6" ry="1.25"/><ellipse cx="416.4" cy="285.3" rx="1.6" ry="1.25"/><ellipse cx="409.1" cy="282.3" rx="1.6" ry="1.25"/><ellipse cx="408.0" cy="285.9" rx="1.6" ry="1.25"/><ellipse cx="412.4" cy="286.0" rx="1.6" ry="1.25"/><ellipse cx="410.0" cy="281.0" rx="1.6" ry="1.25"/><ellipse cx="415.7" cy="287.9" rx="1.6" ry="1.25"/><ellipse cx="416.2" cy="286.3" rx="1.6" ry="1.25"/><ellipse cx="415.8" cy="285.7" rx="1.6" ry="1.25"/><ellipse cx="408.7" cy="283.7" rx="1.6" ry="1.25"/><ellipse cx="410.3" cy="279.3" rx="1.6" ry="1.25"/><ellipse cx="406.3" cy="281.5" rx="1.6" ry="1.25"/><ellipse cx="409.1" cy="285.2" rx="1.6" ry="1.25"/><ellipse cx="417.5" cy="283.0" rx="1.6" ry="1.25"/><ellipse cx="417.2" cy="287.9" rx="1.6" ry="1.25"/><ellipse cx="417.5" cy="282.3" rx="1.6" ry="1.25"/><ellipse cx="408.6" cy="281.0" rx="1.6" ry="1.25"/><ellipse cx="408.4" cy="280.8" rx="1.6" ry="1.25"/><ellipse cx="413.5" cy="287.1" rx="1.6" ry="1.25"/><ellipse cx="416.1" cy="283.3" rx="1.6" ry="1.25"/><ellipse cx="413.8" cy="286.2" rx="1.6" ry="1.25"/><ellipse cx="407.0" cy="284.9" rx="1.6" ry="1.25"/><ellipse cx="416.9" cy="286.0" rx="1.6" ry="1.25"/><ellipse cx="415.0" cy="283.3" rx="1.6" ry="1.25"/><ellipse cx="408.1" cy="286.1" rx="1.6" ry="1.25"/><ellipse cx="410.0" cy="286.2" rx="1.6" ry="1.25"/><ellipse cx="417.7" cy="282.6" rx="1.6" ry="1.25"/><ellipse cx="410.8" cy="287.5" rx="1.6" ry="1.25"/><ellipse cx="414.7" cy="280.5" rx="1.6" ry="1.25"/><ellipse cx="407.5" cy="280.4" rx="1.6" ry="1.25"/><ellipse cx="416.9" cy="286.3" rx="1.6" ry="1.25"/><ellipse cx="421.8" cy="286.4" rx="1.6" ry="1.25"/><ellipse cx="431.8" cy="284.9" rx="1.6" ry="1.25"/><ellipse cx="424.2" cy="283.9" rx="1.6" ry="1.25"/><ellipse cx="421.6" cy="279.1" rx="1.6" ry="1.25"/><ellipse cx="431.7" cy="284.8" rx="1.6" ry="1.25"/><ellipse cx="426.3" cy="287.4" rx="1.6" ry="1.25"/><ellipse cx="425.2" cy="286.8" rx="1.6" ry="1.25"/><ellipse cx="429.9" cy="280.9" rx="1.6" ry="1.25"/><ellipse cx="423.0" cy="281.6" rx="1.6" ry="1.25"/><ellipse cx="422.9" cy="284.3" rx="1.6" ry="1.25"/><ellipse cx="423.1" cy="282.8" rx="1.6" ry="1.25"/><ellipse cx="421.6" cy="287.2" rx="1.6" ry="1.25"/><ellipse cx="424.2" cy="283.1" rx="1.6" ry="1.25"/><ellipse cx="427.0" cy="287.1" rx="1.6" ry="1.25"/><ellipse cx="425.0" cy="287.3" rx="1.6" ry="1.25"/><ellipse cx="426.0" cy="283.8" rx="1.6" ry="1.25"/><ellipse cx="426.3" cy="279.2" rx="1.6" ry="1.25"/><ellipse cx="425.3" cy="280.6" rx="1.6" ry="1.25"/><ellipse cx="420.0" cy="286.2" rx="1.6" ry="1.25"/><ellipse cx="422.1" cy="283.3" rx="1.6" ry="1.25"/><ellipse cx="428.7" cy="284.0" rx="1.6" ry="1.25"/><ellipse cx="423.9" cy="283.7" rx="1.6" ry="1.25"/><ellipse cx="426.7" cy="286.1" rx="1.6" ry="1.25"/><ellipse cx="421.3" cy="284.0" rx="1.6" ry="1.25"/><ellipse cx="423.0" cy="281.5" rx="1.6" ry="1.25"/><ellipse cx="429.3" cy="283.6" rx="1.6" ry="1.25"/><ellipse cx="426.7" cy="285.8" rx="1.6" ry="1.25"/><ellipse cx="430.9" cy="283.0" rx="1.6" ry="1.25"/><ellipse cx="427.4" cy="283.5" rx="1.6" ry="1.25"/><ellipse cx="426.1" cy="285.2" rx="1.6" ry="1.25"/><ellipse cx="439.4" cy="283.8" rx="1.6" ry="1.25"/><ellipse cx="439.7" cy="287.5" rx="1.6" ry="1.25"/><ellipse cx="442.4" cy="286.9" rx="1.6" ry="1.25"/><ellipse cx="445.3" cy="281.3" rx="1.6" ry="1.25"/><ellipse cx="440.7" cy="287.5" rx="1.6" ry="1.25"/><ellipse cx="444.1" cy="280.2" rx="1.6" ry="1.25"/><ellipse cx="435.5" cy="283.0" rx="1.6" ry="1.25"/><ellipse cx="434.9" cy="281.2" rx="1.6" ry="1.25"/><ellipse cx="434.9" cy="285.0" rx="1.6" ry="1.25"/><ellipse cx="443.4" cy="287.1" rx="1.6" ry="1.25"/><ellipse cx="435.9" cy="285.4" rx="1.6" ry="1.25"/><ellipse cx="441.9" cy="280.3" rx="1.6" ry="1.25"/><ellipse cx="444.6" cy="287.7" rx="1.6" ry="1.25"/><ellipse cx="436.6" cy="287.6" rx="1.6" ry="1.25"/><ellipse cx="438.8" cy="283.4" rx="1.6" ry="1.25"/><ellipse cx="445.9" cy="286.5" rx="1.6" ry="1.25"/><ellipse cx="435.9" cy="282.9" rx="1.6" ry="1.25"/><ellipse cx="440.2" cy="282.1" rx="1.6" ry="1.25"/><ellipse cx="436.3" cy="281.9" rx="1.6" ry="1.25"/><ellipse cx="442.7" cy="279.2" rx="1.6" ry="1.25"/><ellipse cx="440.6" cy="283.0" rx="1.6" ry="1.25"/><ellipse cx="434.2" cy="282.0" rx="1.6" ry="1.25"/><ellipse cx="455.5" cy="283.6" rx="1.6" ry="1.25"/><ellipse cx="448.8" cy="287.9" rx="1.6" ry="1.25"/><ellipse cx="457.5" cy="287.7" rx="1.6" ry="1.25"/><ellipse cx="449.3" cy="281.4" rx="1.6" ry="1.25"/><ellipse cx="448.5" cy="286.0" rx="1.6" ry="1.25"/><ellipse cx="451.2" cy="280.2" rx="1.6" ry="1.25"/><ellipse cx="453.1" cy="287.2" rx="1.6" ry="1.25"/><ellipse cx="457.8" cy="281.3" rx="1.6" ry="1.25"/><ellipse cx="449.8" cy="287.3" rx="1.6" ry="1.25"/><ellipse cx="454.8" cy="285.3" rx="1.6" ry="1.25"/><ellipse cx="449.1" cy="279.5" rx="1.6" ry="1.25"/><ellipse cx="456.3" cy="282.8" rx="1.6" ry="1.25"/><ellipse cx="448.9" cy="287.4" rx="1.6" ry="1.25"/><ellipse cx="455.6" cy="286.2" rx="1.6" ry="1.25"/><ellipse cx="449.0" cy="286.7" rx="1.6" ry="1.25"/><ellipse cx="448.8" cy="286.8" rx="1.6" ry="1.25"/><ellipse cx="453.4" cy="282.1" rx="1.6" ry="1.25"/><ellipse cx="454.6" cy="287.3" rx="1.6" ry="1.25"/><ellipse cx="465.2" cy="280.2" rx="1.6" ry="1.25"/><ellipse cx="468.3" cy="281.1" rx="1.6" ry="1.25"/><ellipse cx="463.3" cy="280.5" rx="1.6" ry="1.25"/><ellipse cx="462.6" cy="280.8" rx="1.6" ry="1.25"/><ellipse cx="409.7" cy="292.7" rx="1.6" ry="1.25"/><ellipse cx="415.1" cy="292.6" rx="1.6" ry="1.25"/><ellipse cx="412.0" cy="291.6" rx="1.6" ry="1.25"/><ellipse cx="410.2" cy="290.2" rx="1.6" ry="1.25"/><ellipse cx="409.0" cy="290.1" rx="1.6" ry="1.25"/><ellipse cx="414.8" cy="295.0" rx="1.6" ry="1.25"/><ellipse cx="408.3" cy="294.3" rx="1.6" ry="1.25"/><ellipse cx="417.2" cy="291.0" rx="1.6" ry="1.25"/><ellipse cx="415.8" cy="293.9" rx="1.6" ry="1.25"/><ellipse cx="411.9" cy="297.5" rx="1.6" ry="1.25"/><ellipse cx="410.7" cy="294.6" rx="1.6" ry="1.25"/><ellipse cx="414.3" cy="298.8" rx="1.6" ry="1.25"/><ellipse cx="410.1" cy="297.5" rx="1.6" ry="1.25"/><ellipse cx="414.5" cy="295.7" rx="1.6" ry="1.25"/><ellipse cx="410.9" cy="293.1" rx="1.6" ry="1.25"/><ellipse cx="406.7" cy="291.2" rx="1.6" ry="1.25"/><ellipse cx="406.8" cy="296.7" rx="1.6" ry="1.25"/><ellipse cx="409.1" cy="291.5" rx="1.6" ry="1.25"/><ellipse cx="407.0" cy="297.6" rx="1.6" ry="1.25"/><ellipse cx="416.4" cy="296.0" rx="1.6" ry="1.25"/><ellipse cx="409.4" cy="292.2" rx="1.6" ry="1.25"/><ellipse cx="409.5" cy="294.1" rx="1.6" ry="1.25"/><ellipse cx="407.9" cy="294.0" rx="1.6" ry="1.25"/><ellipse cx="409.2" cy="298.7" rx="1.6" ry="1.25"/><ellipse cx="431.7" cy="294.9" rx="1.6" ry="1.25"/><ellipse cx="422.9" cy="298.7" rx="1.6" ry="1.25"/><ellipse cx="423.7" cy="293.2" rx="1.6" ry="1.25"/><ellipse cx="420.0" cy="293.4" rx="1.6" ry="1.25"/><ellipse cx="425.7" cy="294.5" rx="1.6" ry="1.25"/><ellipse cx="422.4" cy="294.5" rx="1.6" ry="1.25"/><ellipse cx="420.1" cy="292.4" rx="1.6" ry="1.25"/><ellipse cx="421.1" cy="293.6" rx="1.6" ry="1.25"/><ellipse cx="420.5" cy="290.2" rx="1.6" ry="1.25"/><ellipse cx="423.7" cy="292.1" rx="1.6" ry="1.25"/><ellipse cx="427.0" cy="294.8" rx="1.6" ry="1.25"/><ellipse cx="429.0" cy="295.9" rx="1.6" ry="1.25"/><ellipse cx="428.6" cy="297.9" rx="1.6" ry="1.25"/><ellipse cx="424.7" cy="292.9" rx="1.6" ry="1.25"/><ellipse cx="431.8" cy="291.3" rx="1.6" ry="1.25"/><ellipse cx="428.7" cy="295.8" rx="1.6" ry="1.25"/><ellipse cx="420.5" cy="297.5" rx="1.6" ry="1.25"/><ellipse cx="430.7" cy="295.6" rx="1.6" ry="1.25"/><ellipse cx="428.8" cy="297.3" rx="1.6" ry="1.25"/><ellipse cx="421.7" cy="294.7" rx="1.6" ry="1.25"/><ellipse cx="426.1" cy="297.5" rx="1.6" ry="1.25"/><ellipse cx="429.7" cy="297.4" rx="1.6" ry="1.25"/><ellipse cx="427.0" cy="298.0" rx="1.6" ry="1.25"/><ellipse cx="428.2" cy="296.2" rx="1.6" ry="1.25"/><ellipse cx="436.8" cy="290.3" rx="1.6" ry="1.25"/><ellipse cx="435.6" cy="293.2" rx="1.6" ry="1.25"/><ellipse cx="435.3" cy="297.5" rx="1.6" ry="1.25"/><ellipse cx="440.7" cy="295.6" rx="1.6" ry="1.25"/><ellipse cx="441.5" cy="296.1" rx="1.6" ry="1.25"/><ellipse cx="439.9" cy="290.0" rx="1.6" ry="1.25"/><ellipse cx="443.6" cy="296.7" rx="1.6" ry="1.25"/><ellipse cx="440.0" cy="294.8" rx="1.6" ry="1.25"/><ellipse cx="441.9" cy="290.6" rx="1.6" ry="1.25"/><ellipse cx="442.8" cy="292.3" rx="1.6" ry="1.25"/><ellipse cx="434.9" cy="292.4" rx="1.6" ry="1.25"/><ellipse cx="442.8" cy="291.8" rx="1.6" ry="1.25"/><ellipse cx="442.9" cy="298.8" rx="1.6" ry="1.25"/><ellipse cx="439.9" cy="293.4" rx="1.6" ry="1.25"/><ellipse cx="453.7" cy="296.2" rx="1.6" ry="1.25"/><ellipse cx="457.2" cy="295.6" rx="1.6" ry="1.25"/><ellipse cx="455.7" cy="290.7" rx="1.6" ry="1.25"/><ellipse cx="449.8" cy="292.3" rx="1.6" ry="1.25"/><ellipse cx="456.9" cy="292.7" rx="1.6" ry="1.25"/><ellipse cx="454.8" cy="290.1" rx="1.6" ry="1.25"/><ellipse cx="448.7" cy="292.4" rx="1.6" ry="1.25"/><ellipse cx="456.1" cy="296.2" rx="1.6" ry="1.25"/><ellipse cx="456.1" cy="292.6" rx="1.6" ry="1.25"/><ellipse cx="454.2" cy="294.2" rx="1.6" ry="1.25"/><ellipse cx="453.6" cy="291.1" rx="1.6" ry="1.25"/><ellipse cx="458.7" cy="291.8" rx="1.6" ry="1.25"/><ellipse cx="473.7" cy="298.4" rx="1.6" ry="1.25"/><ellipse cx="462.2" cy="294.1" rx="1.6" ry="1.25"/><ellipse cx="471.8" cy="298.7" rx="1.6" ry="1.25"/><ellipse cx="378.6" cy="259.2" rx="1.6" ry="1.25"/><ellipse cx="385.5" cy="265.7" rx="1.6" ry="1.25"/><ellipse cx="377.5" cy="269.8" rx="1.6" ry="1.25"/><ellipse cx="394.2" cy="263.9" rx="1.6" ry="1.25"/><ellipse cx="392.7" cy="262.0" rx="1.6" ry="1.25"/><ellipse cx="402.3" cy="262.8" rx="1.6" ry="1.25"/><ellipse cx="407.8" cy="264.9" rx="1.6" ry="1.25"/><ellipse cx="410.0" cy="270.2" rx="1.6" ry="1.25"/><ellipse cx="407.1" cy="271.2" rx="1.6" ry="1.25"/><ellipse cx="406.3" cy="270.1" rx="1.6" ry="1.25"/><ellipse cx="414.9" cy="261.2" rx="1.6" ry="1.25"/><ellipse cx="412.2" cy="262.2" rx="1.6" ry="1.25"/><ellipse cx="409.1" cy="261.1" rx="1.6" ry="1.25"/><ellipse cx="425.6" cy="271.4" rx="1.6" ry="1.25"/><ellipse cx="434.5" cy="270.5" rx="1.6" ry="1.25"/><ellipse cx="421.9" cy="262.3" rx="1.6" ry="1.25"/><ellipse cx="433.0" cy="259.2" rx="1.6" ry="1.25"/><ellipse cx="445.7" cy="262.3" rx="1.6" ry="1.25"/><ellipse cx="449.2" cy="258.7" rx="1.6" ry="1.25"/><ellipse cx="386.8" cy="276.9" rx="1.6" ry="1.25"/><ellipse cx="377.5" cy="272.5" rx="1.6" ry="1.25"/><ellipse cx="387.2" cy="279.3" rx="1.6" ry="1.25"/><ellipse cx="378.1" cy="278.2" rx="1.6" ry="1.25"/><ellipse cx="388.3" cy="275.3" rx="1.6" ry="1.25"/><ellipse cx="383.5" cy="274.3" rx="1.6" ry="1.25"/><ellipse cx="378.0" cy="282.5" rx="1.6" ry="1.25"/><ellipse cx="385.5" cy="275.1" rx="1.6" ry="1.25"/><ellipse cx="376.6" cy="273.6" rx="1.6" ry="1.25"/><ellipse cx="384.0" cy="278.9" rx="1.6" ry="1.25"/><ellipse cx="379.3" cy="275.2" rx="1.6" ry="1.25"/><ellipse cx="399.1" cy="281.7" rx="1.6" ry="1.25"/><ellipse cx="401.9" cy="280.1" rx="1.6" ry="1.25"/><ellipse cx="393.3" cy="273.4" rx="1.6" ry="1.25"/><ellipse cx="400.8" cy="277.8" rx="1.6" ry="1.25"/><ellipse cx="400.6" cy="273.2" rx="1.6" ry="1.25"/><ellipse cx="401.8" cy="276.9" rx="1.6" ry="1.25"/><ellipse cx="402.3" cy="283.7" rx="1.6" ry="1.25"/><ellipse cx="397.4" cy="272.7" rx="1.6" ry="1.25"/><ellipse cx="403.2" cy="278.7" rx="1.6" ry="1.25"/><ellipse cx="402.7" cy="276.0" rx="1.6" ry="1.25"/><ellipse cx="393.1" cy="283.3" rx="1.6" ry="1.25"/><ellipse cx="395.6" cy="274.6" rx="1.6" ry="1.25"/><ellipse cx="395.7" cy="280.2" rx="1.6" ry="1.25"/><ellipse cx="390.6" cy="279.3" rx="1.6" ry="1.25"/><ellipse cx="396.7" cy="279.2" rx="1.6" ry="1.25"/><ellipse cx="392.2" cy="281.8" rx="1.6" ry="1.25"/><ellipse cx="401.9" cy="283.8" rx="1.6" ry="1.25"/><ellipse cx="395.0" cy="281.7" rx="1.6" ry="1.25"/><ellipse cx="395.8" cy="282.3" rx="1.6" ry="1.25"/><ellipse cx="391.4" cy="283.8" rx="1.6" ry="1.25"/><ellipse cx="403.9" cy="278.9" rx="1.6" ry="1.25"/><ellipse cx="397.7" cy="279.4" rx="1.6" ry="1.25"/><ellipse cx="398.0" cy="272.8" rx="1.6" ry="1.25"/><ellipse cx="404.0" cy="275.4" rx="1.6" ry="1.25"/><ellipse cx="393.1" cy="273.8" rx="1.6" ry="1.25"/><ellipse cx="394.0" cy="283.1" rx="1.6" ry="1.25"/><ellipse cx="390.9" cy="273.8" rx="1.6" ry="1.25"/><ellipse cx="400.3" cy="275.0" rx="1.6" ry="1.25"/><ellipse cx="390.7" cy="280.3" rx="1.6" ry="1.25"/><ellipse cx="398.6" cy="279.3" rx="1.6" ry="1.25"/><ellipse cx="400.3" cy="273.8" rx="1.6" ry="1.25"/><ellipse cx="402.7" cy="281.8" rx="1.6" ry="1.25"/><ellipse cx="406.1" cy="274.1" rx="1.6" ry="1.25"/><ellipse cx="412.4" cy="279.0" rx="1.6" ry="1.25"/><ellipse cx="409.4" cy="274.1" rx="1.6" ry="1.25"/><ellipse cx="411.2" cy="274.3" rx="1.6" ry="1.25"/><ellipse cx="413.8" cy="283.7" rx="1.6" ry="1.25"/><ellipse cx="407.6" cy="279.9" rx="1.6" ry="1.25"/><ellipse cx="416.0" cy="274.6" rx="1.6" ry="1.25"/><ellipse cx="417.1" cy="284.7" rx="1.6" ry="1.25"/><ellipse cx="410.9" cy="278.0" rx="1.6" ry="1.25"/><ellipse cx="417.3" cy="279.3" rx="1.6" ry="1.25"/><ellipse cx="411.0" cy="284.7" rx="1.6" ry="1.25"/><ellipse cx="416.4" cy="276.9" rx="1.6" ry="1.25"/><ellipse cx="408.9" cy="276.9" rx="1.6" ry="1.25"/><ellipse cx="411.6" cy="285.3" rx="1.6" ry="1.25"/><ellipse cx="416.8" cy="284.4" rx="1.6" ry="1.25"/><ellipse cx="416.9" cy="283.5" rx="1.6" ry="1.25"/><ellipse cx="406.2" cy="279.2" rx="1.6" ry="1.25"/><ellipse cx="418.9" cy="284.6" rx="1.6" ry="1.25"/><ellipse cx="409.0" cy="278.0" rx="1.6" ry="1.25"/><ellipse cx="414.4" cy="277.2" rx="1.6" ry="1.25"/><ellipse cx="412.9" cy="273.4" rx="1.6" ry="1.25"/><ellipse cx="411.6" cy="279.1" rx="1.6" ry="1.25"/><ellipse cx="405.8" cy="274.3" rx="1.6" ry="1.25"/><ellipse cx="419.1" cy="282.6" rx="1.6" ry="1.25"/><ellipse cx="418.6" cy="280.7" rx="1.6" ry="1.25"/><ellipse cx="416.8" cy="284.0" rx="1.6" ry="1.25"/><ellipse cx="417.9" cy="272.9" rx="1.6" ry="1.25"/><ellipse cx="414.5" cy="276.0" rx="1.6" ry="1.25"/><ellipse cx="415.0" cy="276.1" rx="1.6" ry="1.25"/><ellipse cx="413.1" cy="284.5" rx="1.6" ry="1.25"/><ellipse cx="414.2" cy="275.8" rx="1.6" ry="1.25"/><ellipse cx="427.8" cy="278.1" rx="1.6" ry="1.25"/><ellipse cx="433.8" cy="276.2" rx="1.6" ry="1.25"/><ellipse cx="424.8" cy="280.9" rx="1.6" ry="1.25"/><ellipse cx="422.2" cy="280.2" rx="1.6" ry="1.25"/><ellipse cx="433.9" cy="279.2" rx="1.6" ry="1.25"/><ellipse cx="424.3" cy="278.6" rx="1.6" ry="1.25"/><ellipse cx="428.0" cy="274.4" rx="1.6" ry="1.25"/><ellipse cx="422.2" cy="274.2" rx="1.6" ry="1.25"/><ellipse cx="424.6" cy="277.8" rx="1.6" ry="1.25"/><ellipse cx="424.5" cy="275.7" rx="1.6" ry="1.25"/><ellipse cx="421.7" cy="279.6" rx="1.6" ry="1.25"/><ellipse cx="432.3" cy="280.4" rx="1.6" ry="1.25"/><ellipse cx="428.5" cy="281.0" rx="1.6" ry="1.25"/><ellipse cx="423.3" cy="281.7" rx="1.6" ry="1.25"/><ellipse cx="427.0" cy="279.6" rx="1.6" ry="1.25"/><ellipse cx="429.1" cy="278.6" rx="1.6" ry="1.25"/><ellipse cx="424.8" cy="275.6" rx="1.6" ry="1.25"/><ellipse cx="438.6" cy="279.2" rx="1.6" ry="1.25"/><ellipse cx="440.9" cy="280.1" rx="1.6" ry="1.25"/><ellipse cx="435.7" cy="277.1" rx="1.6" ry="1.25"/><ellipse cx="447.6" cy="275.6" rx="1.6" ry="1.25"/><ellipse cx="443.3" cy="278.9" rx="1.6" ry="1.25"/><ellipse cx="439.5" cy="285.3" rx="1.6" ry="1.25"/><ellipse cx="439.6" cy="282.5" rx="1.6" ry="1.25"/><ellipse cx="437.7" cy="273.4" rx="1.6" ry="1.25"/><ellipse cx="462.7" cy="278.2" rx="1.6" ry="1.25"/><ellipse cx="451.4" cy="277.5" rx="1.6" ry="1.25"/><ellipse cx="456.7" cy="282.1" rx="1.6" ry="1.25"/><ellipse cx="452.0" cy="275.4" rx="1.6" ry="1.25"/><ellipse cx="463.9" cy="282.1" rx="1.6" ry="1.25"/><ellipse cx="452.7" cy="276.9" rx="1.6" ry="1.25"/><ellipse cx="365.4" cy="295.3" rx="1.6" ry="1.25"/><ellipse cx="384.1" cy="297.5" rx="1.6" ry="1.25"/><ellipse cx="402.0" cy="293.2" rx="1.6" ry="1.25"/><ellipse cx="400.8" cy="296.2" rx="1.6" ry="1.25"/><ellipse cx="401.1" cy="292.7" rx="1.6" ry="1.25"/><ellipse cx="401.5" cy="295.7" rx="1.6" ry="1.25"/><ellipse cx="403.3" cy="288.2" rx="1.6" ry="1.25"/><ellipse cx="402.7" cy="286.6" rx="1.6" ry="1.25"/><ellipse cx="401.2" cy="294.1" rx="1.6" ry="1.25"/><ellipse cx="397.5" cy="299.0" rx="1.6" ry="1.25"/><ellipse cx="398.5" cy="291.9" rx="1.6" ry="1.25"/><ellipse cx="401.5" cy="297.8" rx="1.6" ry="1.25"/><ellipse cx="399.0" cy="291.4" rx="1.6" ry="1.25"/><ellipse cx="396.8" cy="292.5" rx="1.6" ry="1.25"/><ellipse cx="400.6" cy="290.3" rx="1.6" ry="1.25"/><ellipse cx="396.0" cy="293.7" rx="1.6" ry="1.25"/><ellipse cx="395.9" cy="290.7" rx="1.6" ry="1.25"/><ellipse cx="401.5" cy="297.5" rx="1.6" ry="1.25"/><ellipse cx="397.5" cy="292.3" rx="1.6" ry="1.25"/><ellipse cx="393.1" cy="290.5" rx="1.6" ry="1.25"/><ellipse cx="392.5" cy="294.0" rx="1.6" ry="1.25"/><ellipse cx="398.6" cy="287.6" rx="1.6" ry="1.25"/><ellipse cx="418.4" cy="290.7" rx="1.6" ry="1.25"/><ellipse cx="417.3" cy="297.4" rx="1.6" ry="1.25"/><ellipse cx="418.9" cy="289.2" rx="1.6" ry="1.25"/><ellipse cx="411.5" cy="298.3" rx="1.6" ry="1.25"/><ellipse cx="405.6" cy="287.1" rx="1.6" ry="1.25"/><ellipse cx="413.4" cy="293.0" rx="1.6" ry="1.25"/><ellipse cx="418.4" cy="296.6" rx="1.6" ry="1.25"/><ellipse cx="413.0" cy="299.5" rx="1.6" ry="1.25"/><ellipse cx="412.7" cy="293.2" rx="1.6" ry="1.25"/><ellipse cx="415.1" cy="291.6" rx="1.6" ry="1.25"/><ellipse cx="410.5" cy="294.2" rx="1.6" ry="1.25"/><ellipse cx="410.4" cy="298.8" rx="1.6" ry="1.25"/><ellipse cx="415.0" cy="293.3" rx="1.6" ry="1.25"/><ellipse cx="421.9" cy="291.4" rx="1.6" ry="1.25"/><ellipse cx="426.1" cy="293.8" rx="1.6" ry="1.25"/><ellipse cx="428.5" cy="297.9" rx="1.6" ry="1.25"/><ellipse cx="434.0" cy="292.8" rx="1.6" ry="1.25"/><ellipse cx="426.7" cy="294.6" rx="1.6" ry="1.25"/><ellipse cx="434.4" cy="291.0" rx="1.6" ry="1.25"/><ellipse cx="427.9" cy="297.1" rx="1.6" ry="1.25"/><ellipse cx="422.9" cy="290.6" rx="1.6" ry="1.25"/><ellipse cx="434.2" cy="297.2" rx="1.6" ry="1.25"/><ellipse cx="427.7" cy="287.9" rx="1.6" ry="1.25"/><ellipse cx="373.0" cy="309.5" rx="1.6" ry="1.25"/><ellipse cx="372.0" cy="313.4" rx="1.6" ry="1.25"/><ellipse cx="387.9" cy="306.0" rx="1.6" ry="1.25"/><ellipse cx="377.7" cy="304.3" rx="1.6" ry="1.25"/><ellipse cx="382.7" cy="307.1" rx="1.6" ry="1.25"/><ellipse cx="393.1" cy="302.9" rx="1.6" ry="1.25"/><ellipse cx="399.3" cy="308.3" rx="1.6" ry="1.25"/><ellipse cx="410.4" cy="313.4" rx="1.6" ry="1.25"/><ellipse cx="414.4" cy="301.1" rx="1.6" ry="1.25"/><ellipse cx="411.3" cy="310.7" rx="1.6" ry="1.25"/><ellipse cx="409.8" cy="309.5" rx="1.6" ry="1.25"/><ellipse cx="420.6" cy="304.5" rx="1.6" ry="1.25"/><ellipse cx="432.3" cy="308.1" rx="1.6" ry="1.25"/><ellipse cx="459.9" cy="303.1" rx="1.6" ry="1.25"/><ellipse cx="457.5" cy="307.7" rx="1.6" ry="1.25"/></g>
<line x1="39.6" y1="32.2" x2="243.7" y2="103.2" stroke="#111" stroke-width="1.6"/><line x1="305.5" y1="38.4" x2="513.0" y2="85.5" stroke="#111" stroke-width="1.6"/><line x1="37.3" y1="275.6" x2="245.1" y2="337.5" stroke="#111" stroke-width="1.6"/><line x1="304.0" y1="269.0" x2="513.4" y2="298.6" stroke="#111" stroke-width="1.6"/>
<path d="M39.2 5.8V161.5H246.8" fill="none" stroke="#1a1a1a" stroke-width="1.5"/><path d="M59.7 161.5v5M87.4 161.5v5M115.2 161.5v5M142.9 161.5v5M170.6 161.5v5M198.4 161.5v5M226.1 161.5v5M45.8 161.5v3.3M73.6 161.5v3.3M101.3 161.5v3.3M129 161.5v3.3M156.8 161.5v3.3M184.5 161.5v3.3M212.2 161.5v3.3M239.9 161.5v3.3M39.2 161.5h-5.3M39.2 78h-5.3M39.2 136.4h-2.6M39.2 121.7h-2.6M39.2 111.2h-2.6M39.2 103.1h-2.6M39.2 96.5h-2.6M39.2 90.9h-2.6M39.2 86.1h-2.6M39.2 81.8h-2.6M39.2 52.9h-2.6M39.2 38.2h-2.6M39.2 27.7h-2.6M39.2 19.6h-2.6M39.2 13h-2.6M39.2 7.4h-2.6" fill="none" stroke="#1a1a1a" stroke-width="1.1"/><text x="59.7" y="177.3" text-anchor="middle" class="t">200</text><text x="87.4" y="177.3" text-anchor="middle" class="t">300</text><text x="115.2" y="177.3" text-anchor="middle" class="t">400</text><text x="142.9" y="177.3" text-anchor="middle" class="t">500</text><text x="170.6" y="177.3" text-anchor="middle" class="t">600</text><text x="198.4" y="177.3" text-anchor="middle" class="t">700</text><text x="226.1" y="177.3" text-anchor="middle" class="t">800</text><text x="32.6" y="164.9" text-anchor="end" class="ty">1</text><text x="32.6" y="81.5" text-anchor="end" class="ty">10</text><text x="81.4" y="194.5" class="ti">Points Diabetes Risk Score</text><text transform="translate(13.2 125.9) rotate(-90)" class="ti">Insulin Sensitivity</text><text transform="translate(54.8 126.9) scale(0.95 1)" class="pr">p&lt;0.0001</text><text transform="translate(54.8 138.4) scale(0.95 1)" class="pr">r=-0.56</text><path d="M305.4 3.2V159H513.3" fill="none" stroke="#1a1a1a" stroke-width="1.5"/><path d="M326.3 159v5M354 159v5M381.8 159v5M409.5 159v5M437.2 159v5M465 159v5M492.7 159v5M312.4 159v3.3M340.2 159v3.3M367.9 159v3.3M395.6 159v3.3M423.4 159v3.3M451.1 159v3.3M478.8 159v3.3M506.5 159v3.3M305.4 159h-5.1M305.4 72.7h-5.1M305.4 133h-2.6M305.4 117.8h-2.6M305.4 107h-2.6M305.4 98.7h-2.6M305.4 91.8h-2.6M305.4 86.1h-2.6M305.4 81.1h-2.6M305.4 76.6h-2.6M305.4 46.7h-2.6M305.4 31.5h-2.6M305.4 20.7h-2.6M305.4 12.4h-2.6M305.4 5.5h-2.6" fill="none" stroke="#1a1a1a" stroke-width="1.1"/><text x="326.3" y="174.7" text-anchor="middle" class="t">200</text><text x="354" y="174.7" text-anchor="middle" class="t">300</text><text x="381.8" y="174.7" text-anchor="middle" class="t">400</text><text x="409.5" y="174.7" text-anchor="middle" class="t">500</text><text x="437.2" y="174.7" text-anchor="middle" class="t">600</text><text x="465" y="174.7" text-anchor="middle" class="t">700</text><text x="492.7" y="174.7" text-anchor="middle" class="t">800</text><text x="298.9" y="162.4" text-anchor="end" class="ty">1000</text><text x="298.9" y="76.2" text-anchor="end" class="ty">10000</text><text x="340.4" y="194.5" class="ti">Points Diabetes Risk Score</text><text transform="translate(269.6 115.9) rotate(-90)" class="ti">Disposition Index</text><text transform="translate(313.7 124) scale(0.95 1)" class="pr">p&lt;0.0001</text><text transform="translate(313.7 135.6) scale(0.95 1)" class="pr">r=-0.44</text><path d="M37.1 215.6V371.3H245" fill="none" stroke="#1a1a1a" stroke-width="1.5"/><path d="M47.2 371.3v5M84.7 371.3v5M122.2 371.3v5M159.7 371.3v5M197.2 371.3v5M234.7 371.3v5M66 371.3v3.3M103.5 371.3v3.3M140.9 371.3v3.3M178.4 371.3v3.3M215.9 371.3v3.3M37.1 359.3h-6.1M37.1 291.6h-6.1M37.1 224h-6.1M37.1 338.9h-2.6M37.1 327h-2.6M37.1 318.6h-2.6M37.1 312h-2.6M37.1 306.7h-2.6M37.1 302.1h-2.6M37.1 298.2h-2.6M37.1 294.7h-2.6M37.1 271.3h-2.6M37.1 259.4h-2.6M37.1 250.9h-2.6M37.1 244.4h-2.6M37.1 239h-2.6M37.1 234.5h-2.6M37.1 230.6h-2.6M37.1 227.1h-2.6" fill="none" stroke="#1a1a1a" stroke-width="1.1"/><text x="47.2" y="385.9" text-anchor="middle" class="t">0</text><text x="84.7" y="385.9" text-anchor="middle" class="t">200</text><text x="122.2" y="385.9" text-anchor="middle" class="t">400</text><text x="159.7" y="385.9" text-anchor="middle" class="t">600</text><text x="197.2" y="385.9" text-anchor="middle" class="t">800</text><text x="234.7" y="385.9" text-anchor="middle" class="t">1000</text><text x="28.9" y="362.8" text-anchor="end" class="ty">1</text><text x="28.9" y="295.1" text-anchor="end" class="ty">10</text><text x="28.9" y="227.4" text-anchor="end" class="ty">100</text><text x="80.9" y="403.9" class="ti">Points Diabetes Risk Score</text><text transform="translate(12.7 335.3) rotate(-90)" class="ti">Insulin Sensitivity</text><text transform="translate(52.8 342.5) scale(0.95 1)" class="pr">p&lt;0.0001</text><text transform="translate(52.8 354.5) scale(0.95 1)" class="pr">r=-0.45</text><path d="M304.1 212.3V369.7H513.2" fill="none" stroke="#1a1a1a" stroke-width="1.5"/><path d="M313.9 369.7v5M351.6 369.7v5M389.3 369.7v5M427 369.7v5M464.7 369.7v5M502.4 369.7v5M332.8 369.7v3.3M370.4 369.7v3.3M408.1 369.7v3.3M445.8 369.7v3.3M483.5 369.7v3.3M304.1 362.7h-3.6M304.1 315.1h-3.6M304.1 267.6h-3.6M304.1 220h-3.6" fill="none" stroke="#1a1a1a" stroke-width="1.1"/><text x="313.9" y="385.9" text-anchor="middle" class="t">0</text><text x="351.6" y="385.9" text-anchor="middle" class="t">200</text><text x="389.3" y="385.9" text-anchor="middle" class="t">400</text><text x="427" y="385.9" text-anchor="middle" class="t">600</text><text x="464.7" y="385.9" text-anchor="middle" class="t">800</text><text x="502.4" y="385.9" text-anchor="middle" class="t">1000</text><text x="298.9" y="366.1" text-anchor="end" class="ty">100</text><text x="298.9" y="318.6" text-anchor="end" class="ty">1000</text><text x="298.9" y="271" text-anchor="end" class="ty">10000</text><text x="298.9" y="223.4" text-anchor="end" class="ty">100000</text><text x="340.4" y="404" class="ti">Points Diabetes Risk Score</text><text transform="translate(268.7 332.8) rotate(-90)" class="ti">Disposition index</text><text transform="translate(314 336.2) scale(0.95 1)" class="pr">p&lt;0.0001</text><text transform="translate(314 348.2) scale(0.95 1)" class="pr">r=-0.36</text><text x="3.2" y="12" class="L">A</text><text x="0.2" y="219.9" class="L">B</text>
</svg>
</body></html>
